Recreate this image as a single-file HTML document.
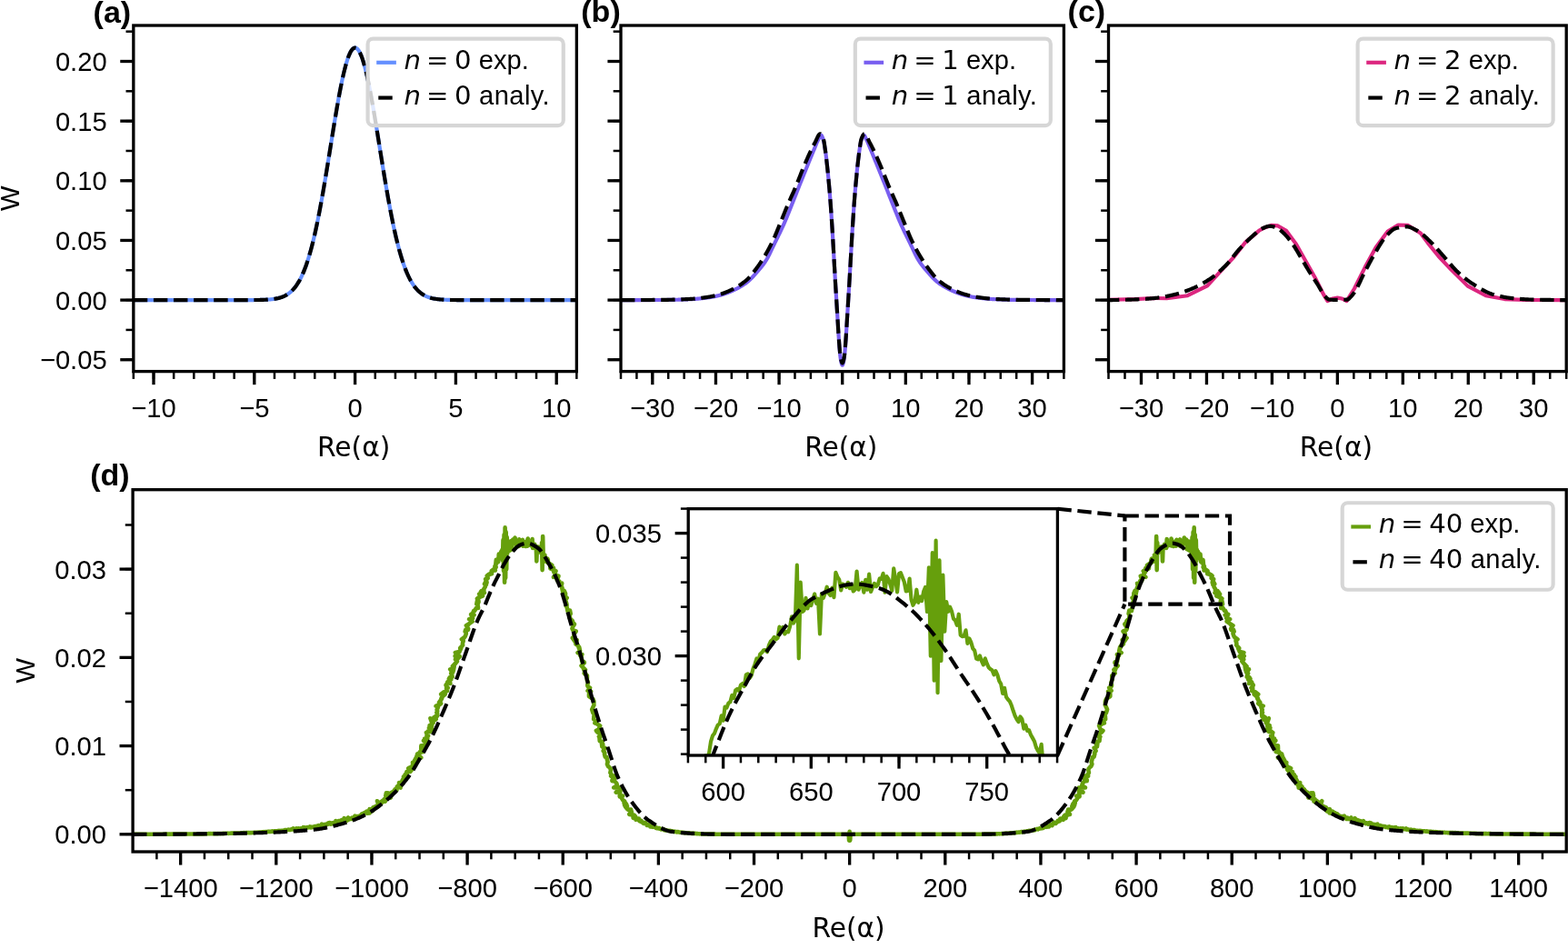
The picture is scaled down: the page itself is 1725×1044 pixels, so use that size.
<!DOCTYPE html>
<html><head><meta charset="utf-8"><title>Wigner functions</title><style>html,body{margin:0;padding:0;background:#fff;overflow:hidden}svg{display:block}</style></head><body>
<svg width="1725" height="1044" viewBox="0 0 1725 1044">
<rect width="1725" height="1044" fill="#fff"/>
<defs>
<clipPath id="ca"><rect x="146.84" y="28" width="487.52" height="380.6"/></clipPath>
<clipPath id="cb"><rect x="683" y="28" width="487.4" height="380.6"/></clipPath>
<clipPath id="cc"><rect x="1219.5" y="28" width="503.7" height="380.6"/></clipPath>
<clipPath id="cd"><rect x="146.1" y="538.7" width="1577.1" height="398.3"/></clipPath>
<clipPath id="ci"><rect x="757.2" y="559.7" width="406.2" height="271.3"/></clipPath>
</defs>
<polyline fill="none" stroke="#648fff" stroke-width="4.17" stroke-linejoin="round" stroke-linecap="square" clip-path="url(#ca)" points="146.84,330.1 147.95,330.1 149.06,330.1 150.16,330.1 151.27,330.1 152.38,330.1 153.49,330.1 154.6,330.1 155.7,330.1 156.81,330.1 157.92,330.1 159.03,330.1 160.14,330.1 161.24,330.1 162.35,330.1 163.46,330.1 164.57,330.1 165.68,330.1 166.78,330.1 167.89,330.1 169,330.1 170.11,330.1 171.22,330.1 172.32,330.1 173.43,330.1 174.54,330.1 175.65,330.1 176.76,330.1 177.86,330.1 178.97,330.1 180.08,330.1 181.19,330.1 182.3,330.1 183.4,330.1 184.51,330.1 185.62,330.1 186.73,330.1 187.84,330.1 188.94,330.1 190.05,330.1 191.16,330.1 192.27,330.1 193.38,330.1 194.48,330.1 195.59,330.1 196.7,330.1 197.81,330.1 198.92,330.1 200.02,330.1 201.13,330.1 202.24,330.1 203.35,330.1 204.46,330.1 205.56,330.1 206.67,330.1 207.78,330.1 208.89,330.1 210,330.1 211.1,330.1 212.21,330.1 213.32,330.1 214.43,330.1 215.54,330.1 216.64,330.1 217.75,330.1 218.86,330.1 219.97,330.1 221.08,330.1 222.18,330.1 223.29,330.1 224.4,330.1 225.51,330.1 226.62,330.1 227.72,330.1 228.83,330.1 229.94,330.1 231.05,330.1 232.16,330.1 233.26,330.1 234.37,330.1 235.48,330.1 236.59,330.1 237.7,330.1 238.8,330.1 239.91,330.1 241.02,330.1 242.13,330.1 243.24,330.1 244.34,330.1 245.45,330.1 246.56,330.1 247.67,330.1 248.78,330.1 249.88,330.1 250.99,330.1 252.1,330.1 253.21,330.1 254.32,330.1 255.42,330.1 256.53,330.1 257.64,330.1 258.75,330.1 259.86,330.1 260.96,330.1 262.07,330.1 263.18,330.1 264.29,330.09 265.4,330.09 266.5,330.09 267.61,330.09 268.72,330.09 269.83,330.09 270.94,330.08 272.04,330.08 273.15,330.08 274.26,330.07 275.37,330.07 276.48,330.06 277.58,330.06 278.69,330.05 279.8,330.04 280.91,330.03 282.02,330.01 283.12,330 284.23,329.98 285.34,329.96 286.45,329.93 287.56,329.91 288.66,329.87 289.77,329.84 290.88,329.79 291.99,329.74 293.1,329.68 294.2,329.62 295.31,329.54 296.42,329.46 297.53,329.36 298.64,329.25 299.74,329.12 300.85,328.98 301.96,328.81 303.07,328.63 304.18,328.42 305.28,328.19 306.39,327.93 307.5,327.64 308.61,327.31 309.72,326.94 310.82,326.53 311.93,326.08 313.04,325.57 314.15,325.01 315.26,324.39 316.36,323.7 317.47,322.95 318.58,322.11 319.69,321.2 320.8,320.2 321.9,319.1 323.01,317.9 324.12,316.6 325.23,315.18 326.34,313.64 327.44,311.97 328.55,310.17 329.66,308.22 330.77,306.12 331.88,303.87 332.98,301.45 334.09,298.86 335.2,296.1 336.31,293.15 337.42,290.01 338.52,286.68 339.63,283.15 340.74,279.43 341.85,275.49 342.96,271.35 344.06,267.01 345.17,262.45 346.28,257.69 347.39,252.72 348.5,247.55 349.6,242.19 350.71,236.63 351.82,230.89 352.93,224.97 354.04,218.88 355.14,212.64 356.25,206.26 357.36,199.75 358.47,193.13 359.58,186.41 360.68,179.62 361.79,172.77 362.9,165.89 364.01,158.99 365.12,152.1 366.22,145.24 367.33,138.44 368.44,131.73 369.55,125.12 370.66,118.66 371.76,112.35 372.87,106.23 373.98,100.32 375.09,94.66 376.2,89.26 377.3,84.15 378.41,79.35 379.52,74.89 380.63,70.79 381.74,67.06 382.84,63.72 383.95,60.8 385.06,58.3 386.17,56.24 387.28,54.62 388.38,53.46 389.49,52.76 390.6,52.53 391.71,52.76 392.82,53.46 393.92,54.62 395.03,56.24 396.14,58.3 397.25,60.8 398.36,63.72 399.46,67.06 400.57,70.79 401.68,74.89 402.79,79.35 403.9,84.15 405,89.26 406.11,94.66 407.22,100.32 408.33,106.23 409.44,112.35 410.54,118.66 411.65,125.12 412.76,131.73 413.87,138.44 414.98,145.24 416.08,152.1 417.19,158.99 418.3,165.89 419.41,172.77 420.52,179.62 421.62,186.41 422.73,193.13 423.84,199.75 424.95,206.26 426.06,212.64 427.16,218.88 428.27,224.97 429.38,230.89 430.49,236.63 431.6,242.19 432.7,247.55 433.81,252.72 434.92,257.69 436.03,262.45 437.14,267.01 438.24,271.35 439.35,275.49 440.46,279.43 441.57,283.15 442.68,286.68 443.78,290.01 444.89,293.15 446,296.1 447.11,298.86 448.22,301.45 449.32,303.87 450.43,306.12 451.54,308.22 452.65,310.17 453.76,311.97 454.86,313.64 455.97,315.18 457.08,316.6 458.19,317.9 459.3,319.1 460.4,320.2 461.51,321.2 462.62,322.11 463.73,322.95 464.84,323.7 465.94,324.39 467.05,325.01 468.16,325.57 469.27,326.08 470.38,326.53 471.48,326.94 472.59,327.31 473.7,327.64 474.81,327.93 475.92,328.19 477.02,328.42 478.13,328.63 479.24,328.81 480.35,328.98 481.46,329.12 482.56,329.25 483.67,329.36 484.78,329.46 485.89,329.54 487,329.62 488.1,329.68 489.21,329.74 490.32,329.79 491.43,329.84 492.54,329.87 493.64,329.91 494.75,329.93 495.86,329.96 496.97,329.98 498.08,330 499.18,330.01 500.29,330.03 501.4,330.04 502.51,330.05 503.62,330.06 504.72,330.06 505.83,330.07 506.94,330.07 508.05,330.08 509.16,330.08 510.26,330.08 511.37,330.09 512.48,330.09 513.59,330.09 514.7,330.09 515.8,330.09 516.91,330.09 518.02,330.1 519.13,330.1 520.24,330.1 521.34,330.1 522.45,330.1 523.56,330.1 524.67,330.1 525.78,330.1 526.88,330.1 527.99,330.1 529.1,330.1 530.21,330.1 531.32,330.1 532.42,330.1 533.53,330.1 534.64,330.1 535.75,330.1 536.86,330.1 537.96,330.1 539.07,330.1 540.18,330.1 541.29,330.1 542.4,330.1 543.5,330.1 544.61,330.1 545.72,330.1 546.83,330.1 547.94,330.1 549.04,330.1 550.15,330.1 551.26,330.1 552.37,330.1 553.48,330.1 554.58,330.1 555.69,330.1 556.8,330.1 557.91,330.1 559.02,330.1 560.12,330.1 561.23,330.1 562.34,330.1 563.45,330.1 564.56,330.1 565.66,330.1 566.77,330.1 567.88,330.1 568.99,330.1 570.1,330.1 571.2,330.1 572.31,330.1 573.42,330.1 574.53,330.1 575.64,330.1 576.74,330.1 577.85,330.1 578.96,330.1 580.07,330.1 581.18,330.1 582.28,330.1 583.39,330.1 584.5,330.1 585.61,330.1 586.72,330.1 587.82,330.1 588.93,330.1 590.04,330.1 591.15,330.1 592.26,330.1 593.36,330.1 594.47,330.1 595.58,330.1 596.69,330.1 597.8,330.1 598.9,330.1 600.01,330.1 601.12,330.1 602.23,330.1 603.34,330.1 604.44,330.1 605.55,330.1 606.66,330.1 607.77,330.1 608.88,330.1 609.98,330.1 611.09,330.1 612.2,330.1 613.31,330.1 614.42,330.1 615.52,330.1 616.63,330.1 617.74,330.1 618.85,330.1 619.96,330.1 621.06,330.1 622.17,330.1 623.28,330.1 624.39,330.1 625.5,330.1 626.6,330.1 627.71,330.1 628.82,330.1 629.93,330.1 631.04,330.1 632.14,330.1 633.25,330.1 634.36,330.1"/>
<polyline fill="none" stroke="#000" stroke-width="4.17" stroke-linejoin="round" stroke-dasharray="15.42 6.67" stroke-linecap="butt" clip-path="url(#ca)" points="146.84,330.1 147.95,330.1 149.06,330.1 150.16,330.1 151.27,330.1 152.38,330.1 153.49,330.1 154.6,330.1 155.7,330.1 156.81,330.1 157.92,330.1 159.03,330.1 160.14,330.1 161.24,330.1 162.35,330.1 163.46,330.1 164.57,330.1 165.68,330.1 166.78,330.1 167.89,330.1 169,330.1 170.11,330.1 171.22,330.1 172.32,330.1 173.43,330.1 174.54,330.1 175.65,330.1 176.76,330.1 177.86,330.1 178.97,330.1 180.08,330.1 181.19,330.1 182.3,330.1 183.4,330.1 184.51,330.1 185.62,330.1 186.73,330.1 187.84,330.1 188.94,330.1 190.05,330.1 191.16,330.1 192.27,330.1 193.38,330.1 194.48,330.1 195.59,330.1 196.7,330.1 197.81,330.1 198.92,330.1 200.02,330.1 201.13,330.1 202.24,330.1 203.35,330.1 204.46,330.1 205.56,330.1 206.67,330.1 207.78,330.1 208.89,330.1 210,330.1 211.1,330.1 212.21,330.1 213.32,330.1 214.43,330.1 215.54,330.1 216.64,330.1 217.75,330.1 218.86,330.1 219.97,330.1 221.08,330.1 222.18,330.1 223.29,330.1 224.4,330.1 225.51,330.1 226.62,330.1 227.72,330.1 228.83,330.1 229.94,330.1 231.05,330.1 232.16,330.1 233.26,330.1 234.37,330.1 235.48,330.1 236.59,330.1 237.7,330.1 238.8,330.1 239.91,330.1 241.02,330.1 242.13,330.1 243.24,330.1 244.34,330.1 245.45,330.1 246.56,330.1 247.67,330.1 248.78,330.1 249.88,330.1 250.99,330.1 252.1,330.1 253.21,330.1 254.32,330.1 255.42,330.1 256.53,330.1 257.64,330.1 258.75,330.1 259.86,330.1 260.96,330.1 262.07,330.1 263.18,330.1 264.29,330.09 265.4,330.09 266.5,330.09 267.61,330.09 268.72,330.09 269.83,330.09 270.94,330.08 272.04,330.08 273.15,330.08 274.26,330.07 275.37,330.07 276.48,330.06 277.58,330.06 278.69,330.05 279.8,330.04 280.91,330.03 282.02,330.01 283.12,330 284.23,329.98 285.34,329.96 286.45,329.93 287.56,329.91 288.66,329.87 289.77,329.84 290.88,329.79 291.99,329.74 293.1,329.68 294.2,329.62 295.31,329.54 296.42,329.46 297.53,329.36 298.64,329.25 299.74,329.12 300.85,328.98 301.96,328.81 303.07,328.63 304.18,328.42 305.28,328.19 306.39,327.93 307.5,327.64 308.61,327.31 309.72,326.94 310.82,326.53 311.93,326.08 313.04,325.57 314.15,325.01 315.26,324.39 316.36,323.7 317.47,322.95 318.58,322.11 319.69,321.2 320.8,320.2 321.9,319.1 323.01,317.9 324.12,316.6 325.23,315.18 326.34,313.64 327.44,311.97 328.55,310.17 329.66,308.22 330.77,306.12 331.88,303.87 332.98,301.45 334.09,298.86 335.2,296.1 336.31,293.15 337.42,290.01 338.52,286.68 339.63,283.15 340.74,279.43 341.85,275.49 342.96,271.35 344.06,267.01 345.17,262.45 346.28,257.69 347.39,252.72 348.5,247.55 349.6,242.19 350.71,236.63 351.82,230.89 352.93,224.97 354.04,218.88 355.14,212.64 356.25,206.26 357.36,199.75 358.47,193.13 359.58,186.41 360.68,179.62 361.79,172.77 362.9,165.89 364.01,158.99 365.12,152.1 366.22,145.24 367.33,138.44 368.44,131.73 369.55,125.12 370.66,118.66 371.76,112.35 372.87,106.23 373.98,100.32 375.09,94.66 376.2,89.26 377.3,84.15 378.41,79.35 379.52,74.89 380.63,70.79 381.74,67.06 382.84,63.72 383.95,60.8 385.06,58.3 386.17,56.24 387.28,54.62 388.38,53.46 389.49,52.76 390.6,52.53 391.71,52.76 392.82,53.46 393.92,54.62 395.03,56.24 396.14,58.3 397.25,60.8 398.36,63.72 399.46,67.06 400.57,70.79 401.68,74.89 402.79,79.35 403.9,84.15 405,89.26 406.11,94.66 407.22,100.32 408.33,106.23 409.44,112.35 410.54,118.66 411.65,125.12 412.76,131.73 413.87,138.44 414.98,145.24 416.08,152.1 417.19,158.99 418.3,165.89 419.41,172.77 420.52,179.62 421.62,186.41 422.73,193.13 423.84,199.75 424.95,206.26 426.06,212.64 427.16,218.88 428.27,224.97 429.38,230.89 430.49,236.63 431.6,242.19 432.7,247.55 433.81,252.72 434.92,257.69 436.03,262.45 437.14,267.01 438.24,271.35 439.35,275.49 440.46,279.43 441.57,283.15 442.68,286.68 443.78,290.01 444.89,293.15 446,296.1 447.11,298.86 448.22,301.45 449.32,303.87 450.43,306.12 451.54,308.22 452.65,310.17 453.76,311.97 454.86,313.64 455.97,315.18 457.08,316.6 458.19,317.9 459.3,319.1 460.4,320.2 461.51,321.2 462.62,322.11 463.73,322.95 464.84,323.7 465.94,324.39 467.05,325.01 468.16,325.57 469.27,326.08 470.38,326.53 471.48,326.94 472.59,327.31 473.7,327.64 474.81,327.93 475.92,328.19 477.02,328.42 478.13,328.63 479.24,328.81 480.35,328.98 481.46,329.12 482.56,329.25 483.67,329.36 484.78,329.46 485.89,329.54 487,329.62 488.1,329.68 489.21,329.74 490.32,329.79 491.43,329.84 492.54,329.87 493.64,329.91 494.75,329.93 495.86,329.96 496.97,329.98 498.08,330 499.18,330.01 500.29,330.03 501.4,330.04 502.51,330.05 503.62,330.06 504.72,330.06 505.83,330.07 506.94,330.07 508.05,330.08 509.16,330.08 510.26,330.08 511.37,330.09 512.48,330.09 513.59,330.09 514.7,330.09 515.8,330.09 516.91,330.09 518.02,330.1 519.13,330.1 520.24,330.1 521.34,330.1 522.45,330.1 523.56,330.1 524.67,330.1 525.78,330.1 526.88,330.1 527.99,330.1 529.1,330.1 530.21,330.1 531.32,330.1 532.42,330.1 533.53,330.1 534.64,330.1 535.75,330.1 536.86,330.1 537.96,330.1 539.07,330.1 540.18,330.1 541.29,330.1 542.4,330.1 543.5,330.1 544.61,330.1 545.72,330.1 546.83,330.1 547.94,330.1 549.04,330.1 550.15,330.1 551.26,330.1 552.37,330.1 553.48,330.1 554.58,330.1 555.69,330.1 556.8,330.1 557.91,330.1 559.02,330.1 560.12,330.1 561.23,330.1 562.34,330.1 563.45,330.1 564.56,330.1 565.66,330.1 566.77,330.1 567.88,330.1 568.99,330.1 570.1,330.1 571.2,330.1 572.31,330.1 573.42,330.1 574.53,330.1 575.64,330.1 576.74,330.1 577.85,330.1 578.96,330.1 580.07,330.1 581.18,330.1 582.28,330.1 583.39,330.1 584.5,330.1 585.61,330.1 586.72,330.1 587.82,330.1 588.93,330.1 590.04,330.1 591.15,330.1 592.26,330.1 593.36,330.1 594.47,330.1 595.58,330.1 596.69,330.1 597.8,330.1 598.9,330.1 600.01,330.1 601.12,330.1 602.23,330.1 603.34,330.1 604.44,330.1 605.55,330.1 606.66,330.1 607.77,330.1 608.88,330.1 609.98,330.1 611.09,330.1 612.2,330.1 613.31,330.1 614.42,330.1 615.52,330.1 616.63,330.1 617.74,330.1 618.85,330.1 619.96,330.1 621.06,330.1 622.17,330.1 623.28,330.1 624.39,330.1 625.5,330.1 626.6,330.1 627.71,330.1 628.82,330.1 629.93,330.1 631.04,330.1 632.14,330.1 633.25,330.1 634.36,330.1"/>
<polyline fill="none" stroke="#785ef0" stroke-width="4.17" stroke-linejoin="round" stroke-linecap="square" clip-path="url(#cb)" points="683,330.1 683.35,330.1 683.7,330.1 684.04,330.1 684.39,330.1 684.74,330.1 685.09,330.1 685.44,330.1 685.79,330.1 686.13,330.1 686.48,330.1 686.83,330.1 687.18,330.1 687.53,330.1 687.87,330.1 688.22,330.1 688.57,330.1 688.92,330.1 689.27,330.1 689.61,330.1 689.96,330.09 690.31,330.09 690.66,330.09 691.01,330.09 691.36,330.09 691.7,330.09 692.05,330.09 692.4,330.09 692.75,330.09 693.1,330.09 693.44,330.09 693.79,330.09 694.14,330.09 694.49,330.09 694.84,330.09 695.18,330.09 695.53,330.09 695.88,330.09 696.23,330.09 696.58,330.09 696.93,330.09 697.27,330.08 697.62,330.08 697.97,330.08 698.32,330.08 698.67,330.08 699.01,330.08 699.36,330.08 699.71,330.08 700.06,330.08 700.41,330.08 700.76,330.08 701.1,330.08 701.45,330.08 701.8,330.08 702.15,330.08 702.5,330.07 702.84,330.07 703.19,330.07 703.54,330.07 703.89,330.07 704.24,330.07 704.58,330.07 704.93,330.07 705.28,330.07 705.63,330.07 705.98,330.07 706.33,330.07 706.67,330.06 707.02,330.06 707.37,330.06 707.72,330.06 708.07,330.06 708.41,330.06 708.76,330.06 709.11,330.06 709.46,330.06 709.81,330.06 710.16,330.05 710.5,330.05 710.85,330.05 711.2,330.05 711.55,330.05 711.9,330.05 712.24,330.05 712.59,330.05 712.94,330.05 713.29,330.05 713.64,330.04 713.98,330.04 714.33,330.04 714.68,330.04 715.03,330.04 715.38,330.04 715.73,330.04 716.07,330.04 716.42,330.03 716.77,330.03 717.12,330.03 717.47,330.03 717.81,330.03 718.16,330.03 718.51,330.03 718.86,330.03 719.21,330.02 719.56,330.02 719.9,330.02 720.25,330.02 720.6,330.02 720.95,330.02 721.3,330.02 721.64,330.01 721.99,330.01 722.34,330.01 722.69,330.01 723.04,330.01 723.38,330.01 723.73,330.01 724.08,330 724.43,330 724.78,330 725.13,330 725.47,330 725.82,330 726.17,330 726.52,329.99 726.87,329.99 727.21,329.99 727.56,329.99 727.91,329.99 728.26,329.99 728.61,329.98 728.95,329.98 729.3,329.98 729.65,329.98 730,329.98 730.35,329.98 730.7,329.97 731.04,329.97 731.39,329.97 731.74,329.97 732.09,329.97 732.44,329.96 732.78,329.96 733.13,329.96 733.48,329.96 733.83,329.95 734.18,329.95 734.53,329.95 734.87,329.94 735.22,329.94 735.57,329.93 735.92,329.93 736.27,329.92 736.61,329.92 736.96,329.91 737.31,329.91 737.66,329.9 738.01,329.9 738.35,329.89 738.7,329.88 739.05,329.88 739.4,329.87 739.75,329.86 740.1,329.86 740.44,329.85 740.79,329.84 741.14,329.83 741.49,329.83 741.84,329.82 742.18,329.81 742.53,329.8 742.88,329.79 743.23,329.78 743.58,329.77 743.92,329.76 744.27,329.75 744.62,329.74 744.97,329.73 745.32,329.72 745.67,329.71 746.01,329.7 746.36,329.69 746.71,329.68 747.06,329.67 747.41,329.66 747.75,329.65 748.1,329.64 748.45,329.62 748.8,329.61 749.15,329.6 749.5,329.59 749.84,329.58 750.19,329.56 750.54,329.55 750.89,329.54 751.24,329.53 751.58,329.51 751.93,329.5 752.28,329.49 752.63,329.47 752.98,329.46 753.32,329.45 753.67,329.43 754.02,329.42 754.37,329.4 754.72,329.39 755.07,329.38 755.41,329.36 755.76,329.35 756.11,329.33 756.46,329.32 756.81,329.3 757.15,329.29 757.5,329.27 757.85,329.26 758.2,329.24 758.55,329.23 758.9,329.21 759.24,329.2 759.59,329.18 759.94,329.16 760.29,329.15 760.64,329.13 760.98,329.11 761.33,329.09 761.68,329.07 762.03,329.05 762.38,329.03 762.72,329.01 763.07,328.99 763.42,328.96 763.77,328.94 764.12,328.92 764.47,328.89 764.81,328.86 765.16,328.84 765.51,328.81 765.86,328.78 766.21,328.75 766.55,328.72 766.9,328.7 767.25,328.66 767.6,328.63 767.95,328.6 768.3,328.57 768.64,328.54 768.99,328.5 769.34,328.47 769.69,328.44 770.04,328.4 770.38,328.37 770.73,328.33 771.08,328.29 771.43,328.26 771.78,328.22 772.12,328.18 772.47,328.15 772.82,328.11 773.17,328.07 773.52,328.03 773.87,327.99 774.21,327.95 774.56,327.91 774.91,327.87 775.26,327.82 775.61,327.78 775.95,327.74 776.3,327.7 776.65,327.65 777,327.61 777.35,327.57 777.69,327.52 778.04,327.48 778.39,327.43 778.74,327.39 779.09,327.34 779.44,327.3 779.78,327.25 780.13,327.2 780.48,327.15 780.83,327.1 781.18,327.04 781.52,326.99 781.87,326.93 782.22,326.88 782.57,326.82 782.92,326.76 783.27,326.7 783.61,326.64 783.96,326.57 784.31,326.51 784.66,326.44 785.01,326.38 785.35,326.31 785.7,326.24 786.05,326.17 786.4,326.1 786.75,326.02 787.09,325.95 787.44,325.87 787.79,325.8 788.14,325.72 788.49,325.64 788.84,325.56 789.18,325.48 789.53,325.4 789.88,325.32 790.23,325.24 790.58,325.15 790.92,325.07 791.27,324.98 791.62,324.89 791.97,324.81 792.32,324.72 792.66,324.63 793.01,324.53 793.36,324.44 793.71,324.34 794.06,324.24 794.41,324.14 794.75,324.03 795.1,323.93 795.45,323.82 795.8,323.71 796.15,323.59 796.49,323.48 796.84,323.36 797.19,323.24 797.54,323.12 797.89,323 798.24,322.87 798.58,322.75 798.93,322.62 799.28,322.49 799.63,322.36 799.98,322.23 800.32,322.09 800.67,321.96 801.02,321.82 801.37,321.68 801.72,321.54 802.06,321.4 802.41,321.25 802.76,321.11 803.11,320.96 803.46,320.81 803.81,320.67 804.15,320.52 804.5,320.37 804.85,320.21 805.2,320.06 805.55,319.91 805.89,319.75 806.24,319.6 806.59,319.44 806.94,319.28 807.29,319.12 807.64,318.96 807.98,318.79 808.33,318.63 808.68,318.46 809.03,318.29 809.38,318.12 809.72,317.95 810.07,317.77 810.42,317.6 810.77,317.42 811.12,317.24 811.46,317.05 811.81,316.87 812.16,316.68 812.51,316.49 812.86,316.3 813.21,316.1 813.55,315.91 813.9,315.71 814.25,315.51 814.6,315.3 814.95,315.1 815.29,314.89 815.64,314.68 815.99,314.47 816.34,314.25 816.69,314.03 817.04,313.81 817.38,313.58 817.73,313.36 818.08,313.13 818.43,312.89 818.78,312.66 819.12,312.42 819.47,312.18 819.82,311.94 820.17,311.69 820.52,311.44 820.86,311.18 821.21,310.93 821.56,310.67 821.91,310.4 822.26,310.13 822.61,309.85 822.95,309.56 823.3,309.26 823.65,308.96 824,308.65 824.35,308.33 824.69,308.01 825.04,307.68 825.39,307.34 825.74,307 826.09,306.65 826.43,306.3 826.78,305.94 827.13,305.58 827.48,305.22 827.83,304.85 828.18,304.47 828.52,304.1 828.87,303.72 829.22,303.33 829.57,302.95 829.92,302.56 830.26,302.17 830.61,301.77 830.96,301.38 831.31,300.98 831.66,300.59 832.01,300.19 832.35,299.79 832.7,299.39 833.05,298.99 833.4,298.59 833.75,298.19 834.09,297.79 834.44,297.38 834.79,296.98 835.14,296.57 835.49,296.16 835.83,295.75 836.18,295.34 836.53,294.92 836.88,294.5 837.23,294.07 837.58,293.64 837.92,293.2 838.27,292.76 838.62,292.31 838.97,291.86 839.32,291.4 839.66,290.94 840.01,290.46 840.36,289.98 840.71,289.49 841.06,289 841.4,288.49 841.75,287.98 842.1,287.45 842.45,286.92 842.8,286.38 843.15,285.82 843.49,285.24 843.84,284.64 844.19,284.03 844.54,283.4 844.89,282.76 845.23,282.1 845.58,281.42 845.93,280.74 846.28,280.04 846.63,279.34 846.98,278.62 847.32,277.9 847.67,277.17 848.02,276.44 848.37,275.7 848.72,274.96 849.06,274.22 849.41,273.47 849.76,272.73 850.11,271.98 850.46,271.24 850.8,270.5 851.15,269.77 851.5,269.04 851.85,268.32 852.2,267.6 852.55,266.89 852.89,266.18 853.24,265.48 853.59,264.77 853.94,264.06 854.29,263.36 854.63,262.65 854.98,261.95 855.33,261.24 855.68,260.53 856.03,259.82 856.38,259.12 856.72,258.4 857.07,257.69 857.42,256.97 857.77,256.26 858.12,255.54 858.46,254.81 858.81,254.08 859.16,253.35 859.51,252.62 859.86,251.88 860.2,251.14 860.55,250.39 860.9,249.63 861.25,248.87 861.6,248.11 861.95,247.34 862.29,246.56 862.64,245.78 862.99,244.99 863.34,244.19 863.69,243.38 864.03,242.56 864.38,241.74 864.73,240.91 865.08,240.08 865.43,239.24 865.78,238.39 866.12,237.54 866.47,236.68 866.82,235.83 867.17,234.96 867.52,234.1 867.86,233.23 868.21,232.36 868.56,231.49 868.91,230.62 869.26,229.75 869.6,228.88 869.95,228.01 870.3,227.14 870.65,226.27 871,225.41 871.35,224.54 871.69,223.67 872.04,222.8 872.39,221.93 872.74,221.06 873.09,220.18 873.43,219.3 873.78,218.42 874.13,217.54 874.48,216.65 874.83,215.77 875.17,214.89 875.52,214 875.87,213.12 876.22,212.23 876.57,211.35 876.92,210.46 877.26,209.58 877.61,208.7 877.96,207.82 878.31,206.94 878.66,206.06 879,205.19 879.35,204.31 879.7,203.44 880.05,202.57 880.4,201.7 880.75,200.83 881.09,199.97 881.44,199.1 881.79,198.23 882.14,197.37 882.49,196.5 882.83,195.63 883.18,194.77 883.53,193.91 883.88,193.04 884.23,192.18 884.57,191.32 884.92,190.46 885.27,189.6 885.62,188.74 885.97,187.88 886.32,187.02 886.66,186.16 887.01,185.3 887.36,184.44 887.71,183.59 888.06,182.73 888.4,181.87 888.75,181.02 889.1,180.16 889.45,179.31 889.8,178.45 890.14,177.59 890.49,176.74 890.84,175.88 891.19,175.03 891.54,174.18 891.89,173.32 892.23,172.47 892.58,171.62 892.93,170.78 893.28,169.93 893.63,169.08 893.97,168.24 894.32,167.4 894.67,166.56 895.02,165.73 895.37,164.9 895.72,164.07 896.06,163.22 896.41,162.37 896.76,161.5 897.11,160.64 897.46,159.78 897.8,158.92 898.15,158.07 898.5,157.24 898.85,156.44 899.2,155.65 899.54,154.9 899.89,154.18 900.24,153.5 900.59,152.81 900.94,152.06 901.29,151.3 901.63,150.57 901.98,149.91 902.33,149.35 902.68,148.93 903.03,148.69 903.37,148.67 903.72,148.93 904.07,149.44 904.42,150.15 904.77,151.03 905.12,152.02 905.46,153.07 905.81,154.16 906.16,155.42 906.51,157 906.86,158.84 907.2,160.89 907.55,163.09 907.9,165.38 908.25,167.77 908.6,170.33 908.94,173.08 909.29,175.98 909.64,179.04 909.99,182.25 910.34,185.59 910.69,189.05 911.03,192.63 911.38,196.32 911.73,200.1 912.08,203.97 912.43,207.92 912.77,211.93 913.12,216.12 913.47,220.6 913.82,225.32 914.17,230.24 914.52,235.33 914.86,240.54 915.21,245.85 915.56,251.22 915.91,256.78 916.26,262.57 916.6,268.54 916.95,274.65 917.3,280.84 917.65,287.06 918,293.26 918.34,299.41 918.69,305.43 919.04,311.3 919.39,317.05 919.74,322.72 920.09,328.35 920.43,333.95 920.78,339.56 921.13,345.2 921.48,350.98 921.83,356.87 922.17,362.65 922.52,368.1 922.87,373.15 923.22,378.08 923.57,382.72 923.91,386.82 924.26,390.21 924.61,393.25 924.96,395.84 925.31,397.72 925.66,399.15 926,400.41 926.35,401.31 926.7,401.66 927.05,401.31 927.4,400.41 927.74,399.15 928.09,397.72 928.44,395.84 928.79,393.25 929.14,390.21 929.49,386.82 929.83,382.72 930.18,378.08 930.53,373.15 930.88,368.1 931.23,362.65 931.57,356.87 931.92,350.98 932.27,345.2 932.62,339.56 932.97,333.95 933.31,328.35 933.66,322.72 934.01,317.05 934.36,311.3 934.71,305.43 935.06,299.41 935.4,293.26 935.75,287.06 936.1,280.84 936.45,274.65 936.8,268.54 937.14,262.57 937.49,256.78 937.84,251.22 938.19,245.85 938.54,240.54 938.88,235.33 939.23,230.24 939.58,225.32 939.93,220.6 940.28,216.12 940.63,211.93 940.97,207.92 941.32,203.97 941.67,200.1 942.02,196.32 942.37,192.63 942.71,189.05 943.06,185.59 943.41,182.25 943.76,179.04 944.11,175.98 944.46,173.08 944.8,170.33 945.15,167.77 945.5,165.38 945.85,163.09 946.2,160.89 946.54,158.84 946.89,157 947.24,155.42 947.59,154.16 947.94,153.07 948.28,152.02 948.63,151.03 948.98,150.15 949.33,149.44 949.68,148.93 950.03,148.67 950.37,148.69 950.72,148.93 951.07,149.35 951.42,149.91 951.77,150.57 952.11,151.3 952.46,152.06 952.81,152.81 953.16,153.5 953.51,154.18 953.86,154.9 954.2,155.65 954.55,156.44 954.9,157.24 955.25,158.07 955.6,158.92 955.94,159.78 956.29,160.64 956.64,161.5 956.99,162.37 957.34,163.22 957.68,164.07 958.03,164.9 958.38,165.73 958.73,166.56 959.08,167.4 959.43,168.24 959.77,169.08 960.12,169.93 960.47,170.78 960.82,171.62 961.17,172.47 961.51,173.32 961.86,174.18 962.21,175.03 962.56,175.88 962.91,176.74 963.26,177.59 963.6,178.45 963.95,179.31 964.3,180.16 964.65,181.02 965,181.87 965.34,182.73 965.69,183.59 966.04,184.44 966.39,185.3 966.74,186.16 967.08,187.02 967.43,187.88 967.78,188.74 968.13,189.6 968.48,190.46 968.83,191.32 969.17,192.18 969.52,193.04 969.87,193.91 970.22,194.77 970.57,195.63 970.91,196.5 971.26,197.37 971.61,198.23 971.96,199.1 972.31,199.97 972.65,200.83 973,201.7 973.35,202.57 973.7,203.44 974.05,204.31 974.4,205.19 974.74,206.06 975.09,206.94 975.44,207.82 975.79,208.7 976.14,209.58 976.48,210.46 976.83,211.35 977.18,212.23 977.53,213.12 977.88,214 978.23,214.89 978.57,215.77 978.92,216.65 979.27,217.54 979.62,218.42 979.97,219.3 980.31,220.18 980.66,221.06 981.01,221.93 981.36,222.8 981.71,223.67 982.05,224.54 982.4,225.41 982.75,226.27 983.1,227.14 983.45,228.01 983.8,228.88 984.14,229.75 984.49,230.62 984.84,231.49 985.19,232.36 985.54,233.23 985.88,234.1 986.23,234.96 986.58,235.83 986.93,236.68 987.28,237.54 987.62,238.39 987.97,239.24 988.32,240.08 988.67,240.91 989.02,241.74 989.37,242.56 989.71,243.38 990.06,244.19 990.41,244.99 990.76,245.78 991.11,246.56 991.45,247.34 991.8,248.11 992.15,248.87 992.5,249.63 992.85,250.39 993.2,251.14 993.54,251.88 993.89,252.62 994.24,253.35 994.59,254.08 994.94,254.81 995.28,255.54 995.63,256.26 995.98,256.97 996.33,257.69 996.68,258.4 997.02,259.12 997.37,259.82 997.72,260.53 998.07,261.24 998.42,261.95 998.77,262.65 999.11,263.36 999.46,264.06 999.81,264.77 1000.16,265.48 1000.51,266.18 1000.85,266.89 1001.2,267.6 1001.55,268.32 1001.9,269.04 1002.25,269.77 1002.6,270.5 1002.94,271.24 1003.29,271.98 1003.64,272.73 1003.99,273.47 1004.34,274.22 1004.68,274.96 1005.03,275.7 1005.38,276.44 1005.73,277.17 1006.08,277.9 1006.42,278.62 1006.77,279.34 1007.12,280.04 1007.47,280.74 1007.82,281.42 1008.17,282.1 1008.51,282.76 1008.86,283.4 1009.21,284.03 1009.56,284.64 1009.91,285.24 1010.25,285.82 1010.6,286.38 1010.95,286.92 1011.3,287.45 1011.65,287.98 1012,288.49 1012.34,289 1012.69,289.49 1013.04,289.98 1013.39,290.46 1013.74,290.94 1014.08,291.4 1014.43,291.86 1014.78,292.31 1015.13,292.76 1015.48,293.2 1015.82,293.64 1016.17,294.07 1016.52,294.5 1016.87,294.92 1017.22,295.34 1017.57,295.75 1017.91,296.16 1018.26,296.57 1018.61,296.98 1018.96,297.38 1019.31,297.79 1019.65,298.19 1020,298.59 1020.35,298.99 1020.7,299.39 1021.05,299.79 1021.39,300.19 1021.74,300.59 1022.09,300.98 1022.44,301.38 1022.79,301.77 1023.14,302.17 1023.48,302.56 1023.83,302.95 1024.18,303.33 1024.53,303.72 1024.88,304.1 1025.22,304.47 1025.57,304.85 1025.92,305.22 1026.27,305.58 1026.62,305.94 1026.97,306.3 1027.31,306.65 1027.66,307 1028.01,307.34 1028.36,307.68 1028.71,308.01 1029.05,308.33 1029.4,308.65 1029.75,308.96 1030.1,309.26 1030.45,309.56 1030.79,309.85 1031.14,310.13 1031.49,310.4 1031.84,310.67 1032.19,310.93 1032.54,311.18 1032.88,311.44 1033.23,311.69 1033.58,311.94 1033.93,312.18 1034.28,312.42 1034.62,312.66 1034.97,312.89 1035.32,313.13 1035.67,313.36 1036.02,313.58 1036.37,313.81 1036.71,314.03 1037.06,314.25 1037.41,314.47 1037.76,314.68 1038.11,314.89 1038.45,315.1 1038.8,315.3 1039.15,315.51 1039.5,315.71 1039.85,315.91 1040.19,316.1 1040.54,316.3 1040.89,316.49 1041.24,316.68 1041.59,316.87 1041.94,317.05 1042.28,317.24 1042.63,317.42 1042.98,317.6 1043.33,317.77 1043.68,317.95 1044.02,318.12 1044.37,318.29 1044.72,318.46 1045.07,318.63 1045.42,318.79 1045.76,318.96 1046.11,319.12 1046.46,319.28 1046.81,319.44 1047.16,319.6 1047.51,319.75 1047.85,319.91 1048.2,320.06 1048.55,320.21 1048.9,320.37 1049.25,320.52 1049.59,320.67 1049.94,320.81 1050.29,320.96 1050.64,321.11 1050.99,321.25 1051.34,321.4 1051.68,321.54 1052.03,321.68 1052.38,321.82 1052.73,321.96 1053.08,322.09 1053.42,322.23 1053.77,322.36 1054.12,322.49 1054.47,322.62 1054.82,322.75 1055.16,322.87 1055.51,323 1055.86,323.12 1056.21,323.24 1056.56,323.36 1056.91,323.48 1057.25,323.59 1057.6,323.71 1057.95,323.82 1058.3,323.93 1058.65,324.03 1058.99,324.14 1059.34,324.24 1059.69,324.34 1060.04,324.44 1060.39,324.53 1060.74,324.63 1061.08,324.72 1061.43,324.81 1061.78,324.89 1062.13,324.98 1062.48,325.07 1062.82,325.15 1063.17,325.24 1063.52,325.32 1063.87,325.4 1064.22,325.48 1064.56,325.56 1064.91,325.64 1065.26,325.72 1065.61,325.8 1065.96,325.87 1066.31,325.95 1066.65,326.02 1067,326.1 1067.35,326.17 1067.7,326.24 1068.05,326.31 1068.39,326.38 1068.74,326.44 1069.09,326.51 1069.44,326.57 1069.79,326.64 1070.13,326.7 1070.48,326.76 1070.83,326.82 1071.18,326.88 1071.53,326.93 1071.88,326.99 1072.22,327.04 1072.57,327.1 1072.92,327.15 1073.27,327.2 1073.62,327.25 1073.96,327.3 1074.31,327.34 1074.66,327.39 1075.01,327.43 1075.36,327.48 1075.71,327.52 1076.05,327.57 1076.4,327.61 1076.75,327.65 1077.1,327.7 1077.45,327.74 1077.79,327.78 1078.14,327.82 1078.49,327.87 1078.84,327.91 1079.19,327.95 1079.53,327.99 1079.88,328.03 1080.23,328.07 1080.58,328.11 1080.93,328.15 1081.28,328.18 1081.62,328.22 1081.97,328.26 1082.32,328.29 1082.67,328.33 1083.02,328.37 1083.36,328.4 1083.71,328.44 1084.06,328.47 1084.41,328.5 1084.76,328.54 1085.11,328.57 1085.45,328.6 1085.8,328.63 1086.15,328.66 1086.5,328.7 1086.85,328.72 1087.19,328.75 1087.54,328.78 1087.89,328.81 1088.24,328.84 1088.59,328.86 1088.93,328.89 1089.28,328.92 1089.63,328.94 1089.98,328.96 1090.33,328.99 1090.68,329.01 1091.02,329.03 1091.37,329.05 1091.72,329.07 1092.07,329.09 1092.42,329.11 1092.76,329.13 1093.11,329.15 1093.46,329.16 1093.81,329.18 1094.16,329.2 1094.5,329.21 1094.85,329.23 1095.2,329.24 1095.55,329.26 1095.9,329.27 1096.25,329.29 1096.59,329.3 1096.94,329.32 1097.29,329.33 1097.64,329.35 1097.99,329.36 1098.33,329.38 1098.68,329.39 1099.03,329.4 1099.38,329.42 1099.73,329.43 1100.08,329.45 1100.42,329.46 1100.77,329.47 1101.12,329.49 1101.47,329.5 1101.82,329.51 1102.16,329.53 1102.51,329.54 1102.86,329.55 1103.21,329.56 1103.56,329.58 1103.9,329.59 1104.25,329.6 1104.6,329.61 1104.95,329.62 1105.3,329.64 1105.65,329.65 1105.99,329.66 1106.34,329.67 1106.69,329.68 1107.04,329.69 1107.39,329.7 1107.73,329.71 1108.08,329.72 1108.43,329.73 1108.78,329.74 1109.13,329.75 1109.48,329.76 1109.82,329.77 1110.17,329.78 1110.52,329.79 1110.87,329.8 1111.22,329.81 1111.56,329.82 1111.91,329.83 1112.26,329.83 1112.61,329.84 1112.96,329.85 1113.3,329.86 1113.65,329.86 1114,329.87 1114.35,329.88 1114.7,329.88 1115.05,329.89 1115.39,329.9 1115.74,329.9 1116.09,329.91 1116.44,329.91 1116.79,329.92 1117.13,329.92 1117.48,329.93 1117.83,329.93 1118.18,329.94 1118.53,329.94 1118.87,329.95 1119.22,329.95 1119.57,329.95 1119.92,329.96 1120.27,329.96 1120.62,329.96 1120.96,329.96 1121.31,329.97 1121.66,329.97 1122.01,329.97 1122.36,329.97 1122.7,329.97 1123.05,329.98 1123.4,329.98 1123.75,329.98 1124.1,329.98 1124.45,329.98 1124.79,329.98 1125.14,329.99 1125.49,329.99 1125.84,329.99 1126.19,329.99 1126.53,329.99 1126.88,329.99 1127.23,330 1127.58,330 1127.93,330 1128.27,330 1128.62,330 1128.97,330 1129.32,330 1129.67,330.01 1130.02,330.01 1130.36,330.01 1130.71,330.01 1131.06,330.01 1131.41,330.01 1131.76,330.01 1132.1,330.02 1132.45,330.02 1132.8,330.02 1133.15,330.02 1133.5,330.02 1133.85,330.02 1134.19,330.02 1134.54,330.03 1134.89,330.03 1135.24,330.03 1135.59,330.03 1135.93,330.03 1136.28,330.03 1136.63,330.03 1136.98,330.03 1137.33,330.04 1137.67,330.04 1138.02,330.04 1138.37,330.04 1138.72,330.04 1139.07,330.04 1139.42,330.04 1139.76,330.04 1140.11,330.05 1140.46,330.05 1140.81,330.05 1141.16,330.05 1141.5,330.05 1141.85,330.05 1142.2,330.05 1142.55,330.05 1142.9,330.05 1143.24,330.05 1143.59,330.06 1143.94,330.06 1144.29,330.06 1144.64,330.06 1144.99,330.06 1145.33,330.06 1145.68,330.06 1146.03,330.06 1146.38,330.06 1146.73,330.06 1147.07,330.07 1147.42,330.07 1147.77,330.07 1148.12,330.07 1148.47,330.07 1148.82,330.07 1149.16,330.07 1149.51,330.07 1149.86,330.07 1150.21,330.07 1150.56,330.07 1150.9,330.07 1151.25,330.08 1151.6,330.08 1151.95,330.08 1152.3,330.08 1152.64,330.08 1152.99,330.08 1153.34,330.08 1153.69,330.08 1154.04,330.08 1154.39,330.08 1154.73,330.08 1155.08,330.08 1155.43,330.08 1155.78,330.08 1156.13,330.08 1156.47,330.09 1156.82,330.09 1157.17,330.09 1157.52,330.09 1157.87,330.09 1158.22,330.09 1158.56,330.09 1158.91,330.09 1159.26,330.09 1159.61,330.09 1159.96,330.09 1160.3,330.09 1160.65,330.09 1161,330.09 1161.35,330.09 1161.7,330.09 1162.04,330.09 1162.39,330.09 1162.74,330.09 1163.09,330.09 1163.44,330.09 1163.79,330.1 1164.13,330.1 1164.48,330.1 1164.83,330.1 1165.18,330.1 1165.53,330.1 1165.87,330.1 1166.22,330.1 1166.57,330.1 1166.92,330.1 1167.27,330.1 1167.61,330.1 1167.96,330.1 1168.31,330.1 1168.66,330.1 1169.01,330.1 1169.36,330.1 1169.7,330.1 1170.05,330.1 1170.4,330.1"/>
<polyline fill="none" stroke="#000" stroke-width="4.17" stroke-linejoin="round" stroke-dasharray="15.42 6.67" stroke-linecap="butt" clip-path="url(#cb)" points="683,330.1 683.35,330.1 683.7,330.1 684.04,330.1 684.39,330.1 684.74,330.1 685.09,330.1 685.44,330.1 685.79,330.1 686.13,330.1 686.48,330.09 686.83,330.09 687.18,330.09 687.53,330.09 687.87,330.09 688.22,330.09 688.57,330.09 688.92,330.09 689.27,330.09 689.61,330.09 689.96,330.09 690.31,330.09 690.66,330.09 691.01,330.09 691.36,330.09 691.7,330.08 692.05,330.08 692.4,330.08 692.75,330.08 693.1,330.08 693.44,330.08 693.79,330.08 694.14,330.08 694.49,330.08 694.84,330.08 695.18,330.07 695.53,330.07 695.88,330.07 696.23,330.07 696.58,330.07 696.93,330.07 697.27,330.07 697.62,330.07 697.97,330.06 698.32,330.06 698.67,330.06 699.01,330.06 699.36,330.06 699.71,330.06 700.06,330.06 700.41,330.05 700.76,330.05 701.1,330.05 701.45,330.05 701.8,330.05 702.15,330.05 702.5,330.05 702.84,330.04 703.19,330.04 703.54,330.04 703.89,330.04 704.24,330.04 704.58,330.04 704.93,330.03 705.28,330.03 705.63,330.03 705.98,330.03 706.33,330.03 706.67,330.02 707.02,330.02 707.37,330.02 707.72,330.02 708.07,330.02 708.41,330.02 708.76,330.01 709.11,330.01 709.46,330.01 709.81,330.01 710.16,330 710.5,330 710.85,330 711.2,330 711.55,330 711.9,329.99 712.24,329.99 712.59,329.99 712.94,329.99 713.29,329.99 713.64,329.98 713.98,329.98 714.33,329.98 714.68,329.98 715.03,329.97 715.38,329.97 715.73,329.97 716.07,329.97 716.42,329.96 716.77,329.96 717.12,329.96 717.47,329.96 717.81,329.95 718.16,329.95 718.51,329.95 718.86,329.95 719.21,329.94 719.56,329.94 719.9,329.94 720.25,329.94 720.6,329.93 720.95,329.93 721.3,329.93 721.64,329.93 721.99,329.92 722.34,329.92 722.69,329.92 723.04,329.91 723.38,329.91 723.73,329.91 724.08,329.91 724.43,329.9 724.78,329.9 725.13,329.9 725.47,329.89 725.82,329.89 726.17,329.89 726.52,329.88 726.87,329.88 727.21,329.88 727.56,329.88 727.91,329.87 728.26,329.87 728.61,329.87 728.95,329.86 729.3,329.86 729.65,329.86 730,329.85 730.35,329.85 730.7,329.85 731.04,329.84 731.39,329.84 731.74,329.84 732.09,329.83 732.44,329.83 732.78,329.83 733.13,329.82 733.48,329.82 733.83,329.81 734.18,329.81 734.53,329.8 734.87,329.8 735.22,329.79 735.57,329.79 735.92,329.78 736.27,329.77 736.61,329.77 736.96,329.76 737.31,329.75 737.66,329.75 738.01,329.74 738.35,329.73 738.7,329.73 739.05,329.72 739.4,329.71 739.75,329.7 740.1,329.69 740.44,329.68 740.79,329.67 741.14,329.67 741.49,329.66 741.84,329.65 742.18,329.64 742.53,329.63 742.88,329.62 743.23,329.61 743.58,329.6 743.92,329.58 744.27,329.57 744.62,329.56 744.97,329.55 745.32,329.54 745.67,329.53 746.01,329.52 746.36,329.5 746.71,329.49 747.06,329.48 747.41,329.47 747.75,329.45 748.1,329.44 748.45,329.43 748.8,329.41 749.15,329.4 749.5,329.39 749.84,329.37 750.19,329.36 750.54,329.34 750.89,329.33 751.24,329.31 751.58,329.3 751.93,329.29 752.28,329.27 752.63,329.25 752.98,329.24 753.32,329.22 753.67,329.21 754.02,329.19 754.37,329.18 754.72,329.16 755.07,329.14 755.41,329.13 755.76,329.11 756.11,329.09 756.46,329.08 756.81,329.06 757.15,329.04 757.5,329.03 757.85,329.01 758.2,328.99 758.55,328.97 758.9,328.95 759.24,328.94 759.59,328.92 759.94,328.9 760.29,328.88 760.64,328.86 760.98,328.84 761.33,328.82 761.68,328.79 762.03,328.77 762.38,328.74 762.72,328.72 763.07,328.69 763.42,328.66 763.77,328.63 764.12,328.6 764.47,328.57 764.81,328.54 765.16,328.51 765.51,328.48 765.86,328.45 766.21,328.41 766.55,328.38 766.9,328.34 767.25,328.31 767.6,328.27 767.95,328.23 768.3,328.2 768.64,328.16 768.99,328.12 769.34,328.08 769.69,328.04 770.04,328 770.38,327.96 770.73,327.92 771.08,327.87 771.43,327.83 771.78,327.79 772.12,327.74 772.47,327.7 772.82,327.65 773.17,327.61 773.52,327.56 773.87,327.51 774.21,327.47 774.56,327.42 774.91,327.37 775.26,327.33 775.61,327.28 775.95,327.23 776.3,327.18 776.65,327.13 777,327.08 777.35,327.03 777.69,326.98 778.04,326.92 778.39,326.87 778.74,326.81 779.09,326.76 779.44,326.7 779.78,326.64 780.13,326.58 780.48,326.52 780.83,326.45 781.18,326.39 781.52,326.32 781.87,326.26 782.22,326.19 782.57,326.12 782.92,326.05 783.27,325.98 783.61,325.91 783.96,325.83 784.31,325.76 784.66,325.68 785.01,325.6 785.35,325.52 785.7,325.45 786.05,325.36 786.4,325.28 786.75,325.2 787.09,325.12 787.44,325.03 787.79,324.94 788.14,324.86 788.49,324.77 788.84,324.68 789.18,324.59 789.53,324.5 789.88,324.41 790.23,324.31 790.58,324.22 790.92,324.12 791.27,324.03 791.62,323.93 791.97,323.83 792.32,323.73 792.66,323.62 793.01,323.52 793.36,323.41 793.71,323.3 794.06,323.18 794.41,323.07 794.75,322.95 795.1,322.83 795.45,322.71 795.8,322.58 796.15,322.46 796.49,322.33 796.84,322.2 797.19,322.07 797.54,321.93 797.89,321.8 798.24,321.66 798.58,321.52 798.93,321.38 799.28,321.23 799.63,321.09 799.98,320.94 800.32,320.79 800.67,320.64 801.02,320.49 801.37,320.33 801.72,320.18 802.06,320.02 802.41,319.86 802.76,319.7 803.11,319.54 803.46,319.37 803.81,319.21 804.15,319.04 804.5,318.88 804.85,318.71 805.2,318.54 805.55,318.37 805.89,318.19 806.24,318.02 806.59,317.85 806.94,317.67 807.29,317.49 807.64,317.31 807.98,317.13 808.33,316.94 808.68,316.75 809.03,316.56 809.38,316.37 809.72,316.18 810.07,315.98 810.42,315.78 810.77,315.58 811.12,315.38 811.46,315.17 811.81,314.96 812.16,314.75 812.51,314.53 812.86,314.32 813.21,314.1 813.55,313.87 813.9,313.65 814.25,313.42 814.6,313.19 814.95,312.95 815.29,312.72 815.64,312.48 815.99,312.23 816.34,311.99 816.69,311.74 817.04,311.48 817.38,311.23 817.73,310.97 818.08,310.7 818.43,310.44 818.78,310.17 819.12,309.89 819.47,309.62 819.82,309.33 820.17,309.05 820.52,308.76 820.86,308.47 821.21,308.17 821.56,307.87 821.91,307.55 822.26,307.23 822.61,306.89 822.95,306.55 823.3,306.19 823.65,305.83 824,305.46 824.35,305.08 824.69,304.69 825.04,304.29 825.39,303.89 825.74,303.48 826.09,303.07 826.43,302.65 826.78,302.22 827.13,301.79 827.48,301.36 827.83,300.92 828.18,300.48 828.52,300.04 828.87,299.59 829.22,299.14 829.57,298.69 829.92,298.24 830.26,297.79 830.61,297.33 830.96,296.88 831.31,296.43 831.66,295.97 832.01,295.5 832.35,295.04 832.7,294.57 833.05,294.09 833.4,293.61 833.75,293.12 834.09,292.64 834.44,292.14 834.79,291.64 835.14,291.14 835.49,290.64 835.83,290.13 836.18,289.61 836.53,289.09 836.88,288.57 837.23,288.04 837.58,287.51 837.92,286.98 838.27,286.44 838.62,285.89 838.97,285.34 839.32,284.79 839.66,284.23 840.01,283.67 840.36,283.11 840.71,282.54 841.06,281.97 841.4,281.39 841.75,280.81 842.1,280.22 842.45,279.62 842.8,279.02 843.15,278.42 843.49,277.81 843.84,277.19 844.19,276.57 844.54,275.94 844.89,275.3 845.23,274.66 845.58,274.02 845.93,273.37 846.28,272.71 846.63,272.04 846.98,271.37 847.32,270.7 847.67,270.02 848.02,269.33 848.37,268.64 848.72,267.94 849.06,267.23 849.41,266.52 849.76,265.8 850.11,265.08 850.46,264.35 850.8,263.61 851.15,262.86 851.5,262.1 851.85,261.32 852.2,260.53 852.55,259.72 852.89,258.91 853.24,258.09 853.59,257.26 853.94,256.42 854.29,255.58 854.63,254.73 854.98,253.88 855.33,253.02 855.68,252.16 856.03,251.3 856.38,250.44 856.72,249.58 857.07,248.72 857.42,247.87 857.77,247.01 858.12,246.16 858.46,245.32 858.81,244.48 859.16,243.63 859.51,242.78 859.86,241.93 860.2,241.07 860.55,240.21 860.9,239.35 861.25,238.49 861.6,237.63 861.95,236.76 862.29,235.9 862.64,235.03 862.99,234.17 863.34,233.31 863.69,232.45 864.03,231.59 864.38,230.74 864.73,229.88 865.08,229.04 865.43,228.19 865.78,227.35 866.12,226.52 866.47,225.69 866.82,224.86 867.17,224.05 867.52,223.24 867.86,222.43 868.21,221.64 868.56,220.85 868.91,220.07 869.26,219.29 869.6,218.51 869.95,217.74 870.3,216.97 870.65,216.2 871,215.43 871.35,214.66 871.69,213.89 872.04,213.12 872.39,212.34 872.74,211.57 873.09,210.79 873.43,210 873.78,209.21 874.13,208.42 874.48,207.62 874.83,206.81 875.17,205.99 875.52,205.16 875.87,204.33 876.22,203.48 876.57,202.63 876.92,201.76 877.26,200.89 877.61,200.01 877.96,199.13 878.31,198.25 878.66,197.36 879,196.47 879.35,195.57 879.7,194.68 880.05,193.79 880.4,192.89 880.75,192 881.09,191.12 881.44,190.24 881.79,189.36 882.14,188.49 882.49,187.62 882.83,186.77 883.18,185.92 883.53,185.08 883.88,184.25 884.23,183.43 884.57,182.61 884.92,181.78 885.27,180.97 885.62,180.15 885.97,179.34 886.32,178.53 886.66,177.72 887.01,176.92 887.36,176.12 887.71,175.32 888.06,174.53 888.4,173.74 888.75,172.96 889.1,172.18 889.45,171.4 889.8,170.63 890.14,169.87 890.49,169.11 890.84,168.36 891.19,167.61 891.54,166.87 891.89,166.14 892.23,165.41 892.58,164.68 892.93,163.96 893.28,163.25 893.63,162.54 893.97,161.84 894.32,161.15 894.67,160.46 895.02,159.79 895.37,159.12 895.72,158.46 896.06,157.81 896.41,157.18 896.76,156.52 897.11,155.82 897.46,155.08 897.8,154.32 898.15,153.55 898.5,152.78 898.85,152.01 899.2,151.27 899.54,150.56 899.89,149.89 900.24,149.28 900.59,148.73 900.94,148.25 901.29,147.87 901.63,147.58 901.98,147.39 902.33,147.33 902.68,147.4 903.03,147.61 903.37,147.95 903.72,148.39 904.07,148.94 904.42,149.59 904.77,150.31 905.12,151.1 905.46,151.95 905.81,152.84 906.16,154.06 906.51,155.78 906.86,157.89 907.2,160.26 907.55,162.79 907.9,165.34 908.25,167.89 908.6,170.57 908.94,173.39 909.29,176.33 909.64,179.4 909.99,182.59 910.34,185.9 910.69,189.31 911.03,192.84 911.38,196.47 911.73,200.19 912.08,204.02 912.43,207.93 912.77,211.93 913.12,216.12 913.47,220.6 913.82,225.32 914.17,230.24 914.52,235.33 914.86,240.54 915.21,245.85 915.56,251.22 915.91,256.78 916.26,262.57 916.6,268.54 916.95,274.65 917.3,280.84 917.65,287.06 918,293.26 918.34,299.41 918.69,305.43 919.04,311.3 919.39,317.05 919.74,322.72 920.09,328.35 920.43,333.95 920.78,339.56 921.13,345.2 921.48,351 921.83,356.93 922.17,362.72 922.52,368.14 922.87,373.07 923.22,377.85 923.57,382.31 923.91,386.18 924.26,389.31 924.61,392.07 924.96,394.38 925.31,396.01 925.66,397.22 926,398.27 926.35,399.01 926.7,399.3 927.05,399.01 927.4,398.27 927.74,397.22 928.09,396.01 928.44,394.38 928.79,392.07 929.14,389.31 929.49,386.18 929.83,382.31 930.18,377.85 930.53,373.07 930.88,368.14 931.23,362.72 931.57,356.93 931.92,351 932.27,345.2 932.62,339.56 932.97,333.95 933.31,328.35 933.66,322.72 934.01,317.05 934.36,311.3 934.71,305.43 935.06,299.41 935.4,293.26 935.75,287.06 936.1,280.84 936.45,274.65 936.8,268.54 937.14,262.57 937.49,256.78 937.84,251.22 938.19,245.85 938.54,240.54 938.88,235.33 939.23,230.24 939.58,225.32 939.93,220.6 940.28,216.12 940.63,211.93 940.97,207.93 941.32,204.02 941.67,200.19 942.02,196.47 942.37,192.84 942.71,189.31 943.06,185.9 943.41,182.59 943.76,179.4 944.11,176.33 944.46,173.39 944.8,170.57 945.15,167.89 945.5,165.34 945.85,162.79 946.2,160.26 946.54,157.89 946.89,155.78 947.24,154.06 947.59,152.84 947.94,151.95 948.28,151.1 948.63,150.31 948.98,149.59 949.33,148.94 949.68,148.39 950.03,147.95 950.37,147.61 950.72,147.4 951.07,147.33 951.42,147.39 951.77,147.58 952.11,147.87 952.46,148.25 952.81,148.73 953.16,149.28 953.51,149.89 953.86,150.56 954.2,151.27 954.55,152.01 954.9,152.78 955.25,153.55 955.6,154.32 955.94,155.08 956.29,155.82 956.64,156.52 956.99,157.18 957.34,157.81 957.68,158.46 958.03,159.12 958.38,159.79 958.73,160.46 959.08,161.15 959.43,161.84 959.77,162.54 960.12,163.25 960.47,163.96 960.82,164.68 961.17,165.41 961.51,166.14 961.86,166.87 962.21,167.61 962.56,168.36 962.91,169.11 963.26,169.87 963.6,170.63 963.95,171.4 964.3,172.18 964.65,172.96 965,173.74 965.34,174.53 965.69,175.32 966.04,176.12 966.39,176.92 966.74,177.72 967.08,178.53 967.43,179.34 967.78,180.15 968.13,180.97 968.48,181.78 968.83,182.61 969.17,183.43 969.52,184.25 969.87,185.08 970.22,185.92 970.57,186.77 970.91,187.62 971.26,188.49 971.61,189.36 971.96,190.24 972.31,191.12 972.65,192 973,192.89 973.35,193.79 973.7,194.68 974.05,195.57 974.4,196.47 974.74,197.36 975.09,198.25 975.44,199.13 975.79,200.01 976.14,200.89 976.48,201.76 976.83,202.63 977.18,203.48 977.53,204.33 977.88,205.16 978.23,205.99 978.57,206.81 978.92,207.62 979.27,208.42 979.62,209.21 979.97,210 980.31,210.79 980.66,211.57 981.01,212.34 981.36,213.12 981.71,213.89 982.05,214.66 982.4,215.43 982.75,216.2 983.1,216.97 983.45,217.74 983.8,218.51 984.14,219.29 984.49,220.07 984.84,220.85 985.19,221.64 985.54,222.43 985.88,223.24 986.23,224.05 986.58,224.86 986.93,225.69 987.28,226.52 987.62,227.35 987.97,228.19 988.32,229.04 988.67,229.88 989.02,230.74 989.37,231.59 989.71,232.45 990.06,233.31 990.41,234.17 990.76,235.03 991.11,235.9 991.45,236.76 991.8,237.63 992.15,238.49 992.5,239.35 992.85,240.21 993.2,241.07 993.54,241.93 993.89,242.78 994.24,243.63 994.59,244.48 994.94,245.32 995.28,246.16 995.63,247.01 995.98,247.87 996.33,248.72 996.68,249.58 997.02,250.44 997.37,251.3 997.72,252.16 998.07,253.02 998.42,253.88 998.77,254.73 999.11,255.58 999.46,256.42 999.81,257.26 1000.16,258.09 1000.51,258.91 1000.85,259.72 1001.2,260.53 1001.55,261.32 1001.9,262.1 1002.25,262.86 1002.6,263.61 1002.94,264.35 1003.29,265.08 1003.64,265.8 1003.99,266.52 1004.34,267.23 1004.68,267.94 1005.03,268.64 1005.38,269.33 1005.73,270.02 1006.08,270.7 1006.42,271.37 1006.77,272.04 1007.12,272.71 1007.47,273.37 1007.82,274.02 1008.17,274.66 1008.51,275.3 1008.86,275.94 1009.21,276.57 1009.56,277.19 1009.91,277.81 1010.25,278.42 1010.6,279.02 1010.95,279.62 1011.3,280.22 1011.65,280.81 1012,281.39 1012.34,281.97 1012.69,282.54 1013.04,283.11 1013.39,283.67 1013.74,284.23 1014.08,284.79 1014.43,285.34 1014.78,285.89 1015.13,286.44 1015.48,286.98 1015.82,287.51 1016.17,288.04 1016.52,288.57 1016.87,289.09 1017.22,289.61 1017.57,290.13 1017.91,290.64 1018.26,291.14 1018.61,291.64 1018.96,292.14 1019.31,292.64 1019.65,293.12 1020,293.61 1020.35,294.09 1020.7,294.57 1021.05,295.04 1021.39,295.5 1021.74,295.97 1022.09,296.43 1022.44,296.88 1022.79,297.33 1023.14,297.79 1023.48,298.24 1023.83,298.69 1024.18,299.14 1024.53,299.59 1024.88,300.04 1025.22,300.48 1025.57,300.92 1025.92,301.36 1026.27,301.79 1026.62,302.22 1026.97,302.65 1027.31,303.07 1027.66,303.48 1028.01,303.89 1028.36,304.29 1028.71,304.69 1029.05,305.08 1029.4,305.46 1029.75,305.83 1030.1,306.19 1030.45,306.55 1030.79,306.89 1031.14,307.23 1031.49,307.55 1031.84,307.87 1032.19,308.17 1032.54,308.47 1032.88,308.76 1033.23,309.05 1033.58,309.33 1033.93,309.62 1034.28,309.89 1034.62,310.17 1034.97,310.44 1035.32,310.7 1035.67,310.97 1036.02,311.23 1036.37,311.48 1036.71,311.74 1037.06,311.99 1037.41,312.23 1037.76,312.48 1038.11,312.72 1038.45,312.95 1038.8,313.19 1039.15,313.42 1039.5,313.65 1039.85,313.87 1040.19,314.1 1040.54,314.32 1040.89,314.53 1041.24,314.75 1041.59,314.96 1041.94,315.17 1042.28,315.38 1042.63,315.58 1042.98,315.78 1043.33,315.98 1043.68,316.18 1044.02,316.37 1044.37,316.56 1044.72,316.75 1045.07,316.94 1045.42,317.13 1045.76,317.31 1046.11,317.49 1046.46,317.67 1046.81,317.85 1047.16,318.02 1047.51,318.19 1047.85,318.37 1048.2,318.54 1048.55,318.71 1048.9,318.88 1049.25,319.04 1049.59,319.21 1049.94,319.37 1050.29,319.54 1050.64,319.7 1050.99,319.86 1051.34,320.02 1051.68,320.18 1052.03,320.33 1052.38,320.49 1052.73,320.64 1053.08,320.79 1053.42,320.94 1053.77,321.09 1054.12,321.23 1054.47,321.38 1054.82,321.52 1055.16,321.66 1055.51,321.8 1055.86,321.93 1056.21,322.07 1056.56,322.2 1056.91,322.33 1057.25,322.46 1057.6,322.58 1057.95,322.71 1058.3,322.83 1058.65,322.95 1058.99,323.07 1059.34,323.18 1059.69,323.3 1060.04,323.41 1060.39,323.52 1060.74,323.62 1061.08,323.73 1061.43,323.83 1061.78,323.93 1062.13,324.03 1062.48,324.12 1062.82,324.22 1063.17,324.31 1063.52,324.41 1063.87,324.5 1064.22,324.59 1064.56,324.68 1064.91,324.77 1065.26,324.86 1065.61,324.94 1065.96,325.03 1066.31,325.12 1066.65,325.2 1067,325.28 1067.35,325.36 1067.7,325.45 1068.05,325.52 1068.39,325.6 1068.74,325.68 1069.09,325.76 1069.44,325.83 1069.79,325.91 1070.13,325.98 1070.48,326.05 1070.83,326.12 1071.18,326.19 1071.53,326.26 1071.88,326.32 1072.22,326.39 1072.57,326.45 1072.92,326.52 1073.27,326.58 1073.62,326.64 1073.96,326.7 1074.31,326.76 1074.66,326.81 1075.01,326.87 1075.36,326.92 1075.71,326.98 1076.05,327.03 1076.4,327.08 1076.75,327.13 1077.1,327.18 1077.45,327.23 1077.79,327.28 1078.14,327.33 1078.49,327.37 1078.84,327.42 1079.19,327.47 1079.53,327.51 1079.88,327.56 1080.23,327.61 1080.58,327.65 1080.93,327.7 1081.28,327.74 1081.62,327.79 1081.97,327.83 1082.32,327.87 1082.67,327.92 1083.02,327.96 1083.36,328 1083.71,328.04 1084.06,328.08 1084.41,328.12 1084.76,328.16 1085.11,328.2 1085.45,328.23 1085.8,328.27 1086.15,328.31 1086.5,328.34 1086.85,328.38 1087.19,328.41 1087.54,328.45 1087.89,328.48 1088.24,328.51 1088.59,328.54 1088.93,328.57 1089.28,328.6 1089.63,328.63 1089.98,328.66 1090.33,328.69 1090.68,328.72 1091.02,328.74 1091.37,328.77 1091.72,328.79 1092.07,328.82 1092.42,328.84 1092.76,328.86 1093.11,328.88 1093.46,328.9 1093.81,328.92 1094.16,328.94 1094.5,328.95 1094.85,328.97 1095.2,328.99 1095.55,329.01 1095.9,329.03 1096.25,329.04 1096.59,329.06 1096.94,329.08 1097.29,329.09 1097.64,329.11 1097.99,329.13 1098.33,329.14 1098.68,329.16 1099.03,329.18 1099.38,329.19 1099.73,329.21 1100.08,329.22 1100.42,329.24 1100.77,329.25 1101.12,329.27 1101.47,329.29 1101.82,329.3 1102.16,329.31 1102.51,329.33 1102.86,329.34 1103.21,329.36 1103.56,329.37 1103.9,329.39 1104.25,329.4 1104.6,329.41 1104.95,329.43 1105.3,329.44 1105.65,329.45 1105.99,329.47 1106.34,329.48 1106.69,329.49 1107.04,329.5 1107.39,329.52 1107.73,329.53 1108.08,329.54 1108.43,329.55 1108.78,329.56 1109.13,329.57 1109.48,329.58 1109.82,329.6 1110.17,329.61 1110.52,329.62 1110.87,329.63 1111.22,329.64 1111.56,329.65 1111.91,329.66 1112.26,329.67 1112.61,329.67 1112.96,329.68 1113.3,329.69 1113.65,329.7 1114,329.71 1114.35,329.72 1114.7,329.73 1115.05,329.73 1115.39,329.74 1115.74,329.75 1116.09,329.75 1116.44,329.76 1116.79,329.77 1117.13,329.77 1117.48,329.78 1117.83,329.79 1118.18,329.79 1118.53,329.8 1118.87,329.8 1119.22,329.81 1119.57,329.81 1119.92,329.82 1120.27,329.82 1120.62,329.83 1120.96,329.83 1121.31,329.83 1121.66,329.84 1122.01,329.84 1122.36,329.84 1122.7,329.85 1123.05,329.85 1123.4,329.85 1123.75,329.86 1124.1,329.86 1124.45,329.86 1124.79,329.87 1125.14,329.87 1125.49,329.87 1125.84,329.88 1126.19,329.88 1126.53,329.88 1126.88,329.88 1127.23,329.89 1127.58,329.89 1127.93,329.89 1128.27,329.9 1128.62,329.9 1128.97,329.9 1129.32,329.91 1129.67,329.91 1130.02,329.91 1130.36,329.91 1130.71,329.92 1131.06,329.92 1131.41,329.92 1131.76,329.93 1132.1,329.93 1132.45,329.93 1132.8,329.93 1133.15,329.94 1133.5,329.94 1133.85,329.94 1134.19,329.94 1134.54,329.95 1134.89,329.95 1135.24,329.95 1135.59,329.95 1135.93,329.96 1136.28,329.96 1136.63,329.96 1136.98,329.96 1137.33,329.97 1137.67,329.97 1138.02,329.97 1138.37,329.97 1138.72,329.98 1139.07,329.98 1139.42,329.98 1139.76,329.98 1140.11,329.99 1140.46,329.99 1140.81,329.99 1141.16,329.99 1141.5,329.99 1141.85,330 1142.2,330 1142.55,330 1142.9,330 1143.24,330 1143.59,330.01 1143.94,330.01 1144.29,330.01 1144.64,330.01 1144.99,330.02 1145.33,330.02 1145.68,330.02 1146.03,330.02 1146.38,330.02 1146.73,330.02 1147.07,330.03 1147.42,330.03 1147.77,330.03 1148.12,330.03 1148.47,330.03 1148.82,330.04 1149.16,330.04 1149.51,330.04 1149.86,330.04 1150.21,330.04 1150.56,330.04 1150.9,330.05 1151.25,330.05 1151.6,330.05 1151.95,330.05 1152.3,330.05 1152.64,330.05 1152.99,330.05 1153.34,330.06 1153.69,330.06 1154.04,330.06 1154.39,330.06 1154.73,330.06 1155.08,330.06 1155.43,330.06 1155.78,330.07 1156.13,330.07 1156.47,330.07 1156.82,330.07 1157.17,330.07 1157.52,330.07 1157.87,330.07 1158.22,330.07 1158.56,330.08 1158.91,330.08 1159.26,330.08 1159.61,330.08 1159.96,330.08 1160.3,330.08 1160.65,330.08 1161,330.08 1161.35,330.08 1161.7,330.08 1162.04,330.09 1162.39,330.09 1162.74,330.09 1163.09,330.09 1163.44,330.09 1163.79,330.09 1164.13,330.09 1164.48,330.09 1164.83,330.09 1165.18,330.09 1165.53,330.09 1165.87,330.09 1166.22,330.09 1166.57,330.09 1166.92,330.09 1167.27,330.1 1167.61,330.1 1167.96,330.1 1168.31,330.1 1168.66,330.1 1169.01,330.1 1169.36,330.1 1169.7,330.1 1170.05,330.1 1170.4,330.1"/>
<polyline fill="none" stroke="#dc267f" stroke-width="4.17" stroke-linejoin="round" stroke-linecap="square" clip-path="url(#cc)" points="1219.5,329.71 1248.28,329.05 1269.87,328 1283.54,328.26 1306.42,325.24 1328.23,314.34 1342.83,298.46 1356.43,283.88 1370.11,266.55 1385,253.81 1390.47,250.66 1398.6,247.91 1405.87,248.43 1415.01,253.81 1425.87,268.39 1435.01,284.8 1446.88,305.68 1456.02,323.93 1460.48,331.15 1466.31,328.52 1471.35,327.61 1476.39,328.52 1481.5,331.15 1489.99,317.5 1501.79,293.86 1513.73,271.93 1526.4,254.87 1538.2,247.51 1549.06,247.91 1562.81,256.57 1570.87,267.34 1582.67,282.04 1596.41,296.62 1607.28,307.25 1614.62,314.61 1634.62,325.24 1655.27,329.05 1677.87,329.84 1723.2,330.1"/>
<polyline fill="none" stroke="#000" stroke-width="4.17" stroke-linejoin="round" stroke-dasharray="15.42 6.67" stroke-linecap="butt" clip-path="url(#cc)" points="1215.9,330.1 1216.62,330.1 1217.34,330.1 1218.06,330.1 1218.78,330.09 1219.5,330.09 1220.22,330.08 1220.94,330.08 1221.66,330.07 1222.38,330.07 1223.1,330.06 1223.82,330.05 1224.54,330.04 1225.26,330.03 1225.98,330.02 1226.7,330.01 1227.42,329.99 1228.13,329.98 1228.85,329.97 1229.57,329.96 1230.29,329.94 1231.01,329.93 1231.73,329.91 1232.45,329.89 1233.17,329.88 1233.89,329.86 1234.61,329.84 1235.33,329.82 1236.05,329.81 1236.77,329.79 1237.49,329.77 1238.21,329.75 1238.93,329.73 1239.65,329.71 1240.37,329.69 1241.09,329.67 1241.81,329.65 1242.53,329.62 1243.25,329.6 1243.97,329.58 1244.68,329.56 1245.4,329.54 1246.12,329.51 1246.84,329.49 1247.56,329.47 1248.28,329.44 1249,329.42 1249.72,329.39 1250.44,329.37 1251.16,329.34 1251.88,329.31 1252.6,329.27 1253.32,329.24 1254.04,329.2 1254.76,329.16 1255.48,329.12 1256.2,329.08 1256.92,329.04 1257.64,329 1258.36,328.95 1259.08,328.9 1259.8,328.85 1260.52,328.8 1261.24,328.75 1261.95,328.7 1262.67,328.64 1263.39,328.58 1264.11,328.53 1264.83,328.47 1265.55,328.41 1266.27,328.34 1266.99,328.28 1267.71,328.22 1268.43,328.15 1269.15,328.08 1269.87,328.01 1270.59,327.94 1271.31,327.87 1272.03,327.79 1272.75,327.7 1273.47,327.61 1274.19,327.52 1274.91,327.42 1275.63,327.32 1276.35,327.21 1277.07,327.1 1277.79,326.98 1278.5,326.87 1279.22,326.74 1279.94,326.62 1280.66,326.49 1281.38,326.36 1282.1,326.22 1282.82,326.08 1283.54,325.94 1284.26,325.8 1284.98,325.65 1285.7,325.5 1286.42,325.35 1287.14,325.19 1287.86,325.04 1288.58,324.88 1289.3,324.72 1290.02,324.55 1290.74,324.39 1291.46,324.22 1292.18,324.05 1292.9,323.88 1293.62,323.7 1294.34,323.52 1295.06,323.33 1295.77,323.13 1296.49,322.93 1297.21,322.72 1297.93,322.5 1298.65,322.28 1299.37,322.06 1300.09,321.83 1300.81,321.59 1301.53,321.35 1302.25,321.1 1302.97,320.85 1303.69,320.59 1304.41,320.33 1305.13,320.06 1305.85,319.79 1306.57,319.51 1307.29,319.23 1308.01,318.95 1308.73,318.66 1309.45,318.37 1310.17,318.07 1310.89,317.77 1311.61,317.47 1312.32,317.17 1313.04,316.86 1313.76,316.54 1314.48,316.23 1315.2,315.9 1315.92,315.57 1316.64,315.23 1317.36,314.88 1318.08,314.52 1318.8,314.16 1319.52,313.79 1320.24,313.41 1320.96,313.03 1321.68,312.64 1322.4,312.24 1323.12,311.83 1323.84,311.42 1324.56,311 1325.28,310.57 1326,310.14 1326.72,309.7 1327.44,309.25 1328.16,308.79 1328.87,308.33 1329.59,307.86 1330.31,307.39 1331.03,306.91 1331.75,306.42 1332.47,305.93 1333.19,305.43 1333.91,304.91 1334.63,304.38 1335.35,303.84 1336.07,303.29 1336.79,302.72 1337.51,302.14 1338.23,301.55 1338.95,300.94 1339.67,300.33 1340.39,299.7 1341.11,299.06 1341.83,298.42 1342.55,297.76 1343.27,297.09 1343.99,296.42 1344.71,295.73 1345.42,295.04 1346.14,294.34 1346.86,293.63 1347.58,292.91 1348.3,292.19 1349.02,291.46 1349.74,290.71 1350.46,289.93 1351.18,289.13 1351.9,288.29 1352.62,287.43 1353.34,286.56 1354.06,285.66 1354.78,284.76 1355.5,283.84 1356.22,282.92 1356.94,282 1357.66,281.08 1358.38,280.17 1359.1,279.26 1359.82,278.36 1360.54,277.49 1361.26,276.63 1361.98,275.79 1362.69,274.98 1363.41,274.19 1364.13,273.41 1364.85,272.63 1365.57,271.86 1366.29,271.09 1367.01,270.33 1367.73,269.58 1368.45,268.83 1369.17,268.09 1369.89,267.36 1370.61,266.64 1371.33,265.92 1372.05,265.21 1372.77,264.51 1373.49,263.82 1374.21,263.14 1374.93,262.46 1375.65,261.8 1376.37,261.15 1377.09,260.5 1377.81,259.87 1378.53,259.22 1379.24,258.56 1379.96,257.9 1380.68,257.25 1381.4,256.6 1382.12,255.96 1382.84,255.33 1383.56,254.73 1384.28,254.15 1385,253.6 1385.72,253.08 1386.44,252.6 1387.16,252.17 1387.88,251.79 1388.6,251.45 1389.32,251.12 1390.04,250.79 1390.76,250.47 1391.48,250.15 1392.2,249.86 1392.92,249.59 1393.64,249.35 1394.36,249.15 1395.08,248.99 1395.8,248.88 1396.51,248.83 1397.23,248.83 1397.95,248.87 1398.67,248.95 1399.39,249.06 1400.11,249.19 1400.83,249.35 1401.55,249.53 1402.27,249.73 1402.99,249.94 1403.71,250.16 1404.43,250.39 1405.15,250.71 1405.87,251.1 1406.59,251.57 1407.31,252.09 1408.03,252.67 1408.75,253.28 1409.47,253.93 1410.19,254.6 1410.91,255.28 1411.63,255.96 1412.35,256.64 1413.06,257.33 1413.78,258.06 1414.5,258.83 1415.22,259.62 1415.94,260.45 1416.66,261.3 1417.38,262.18 1418.1,263.08 1418.82,264.01 1419.54,264.95 1420.26,265.91 1420.98,266.88 1421.7,267.87 1422.42,268.9 1423.14,269.97 1423.86,271.07 1424.58,272.21 1425.3,273.37 1426.02,274.56 1426.74,275.76 1427.46,276.97 1428.18,278.18 1428.9,279.4 1429.61,280.61 1430.33,281.81 1431.05,283 1431.77,284.21 1432.49,285.43 1433.21,286.66 1433.93,287.9 1434.65,289.14 1435.37,290.38 1436.09,291.62 1436.81,292.85 1437.53,294.08 1438.25,295.29 1438.97,296.48 1439.69,297.65 1440.41,298.81 1441.13,299.95 1441.85,301.07 1442.57,302.19 1443.29,303.29 1444.01,304.39 1444.73,305.49 1445.45,306.58 1446.16,307.68 1446.88,308.78 1447.6,309.88 1448.32,311 1449.04,312.12 1449.76,313.26 1450.48,314.46 1451.2,315.7 1451.92,316.99 1452.64,318.28 1453.36,319.55 1454.08,320.79 1454.8,321.97 1455.52,323.07 1456.24,324.06 1456.96,324.93 1457.68,325.76 1458.4,326.6 1459.12,327.42 1459.84,328.15 1460.56,328.78 1461.28,329.25 1462,329.53 1462.72,329.61 1463.43,329.67 1464.15,329.72 1464.87,329.76 1465.59,329.79 1466.31,329.82 1467.03,329.83 1467.75,329.84 1468.47,329.84 1469.19,329.84 1469.91,329.84 1470.63,329.84 1471.35,329.84 1472.07,329.84 1472.79,329.84 1473.51,329.84 1474.23,329.84 1474.95,329.84 1475.67,329.84 1476.39,329.83 1477.11,329.82 1477.83,329.8 1478.55,329.78 1479.27,329.76 1479.98,329.73 1480.7,329.69 1481.42,329.65 1482.14,329.6 1482.86,329.47 1483.58,329.03 1484.3,328.36 1485.02,327.58 1485.74,326.82 1486.46,326.07 1487.18,325.27 1487.9,324.4 1488.62,323.47 1489.34,322.49 1490.06,321.46 1490.78,320.35 1491.5,319.16 1492.22,317.9 1492.94,316.57 1493.66,315.19 1494.38,313.75 1495.1,312.29 1495.82,310.79 1496.54,309.27 1497.25,307.74 1497.97,306.22 1498.69,304.7 1499.41,303.19 1500.13,301.71 1500.85,300.27 1501.57,298.87 1502.29,297.5 1503.01,296.14 1503.73,294.78 1504.45,293.41 1505.17,292.05 1505.89,290.7 1506.61,289.35 1507.33,288 1508.05,286.67 1508.77,285.35 1509.49,284.04 1510.21,282.74 1510.93,281.46 1511.65,280.2 1512.37,278.96 1513.09,277.74 1513.8,276.54 1514.52,275.35 1515.24,274.14 1515.96,272.94 1516.68,271.73 1517.4,270.53 1518.12,269.35 1518.84,268.19 1519.56,267.05 1520.28,265.94 1521,264.87 1521.72,263.84 1522.44,262.86 1523.16,261.93 1523.88,261.06 1524.6,260.25 1525.32,259.47 1526.04,258.69 1526.76,257.92 1527.48,257.16 1528.2,256.41 1528.92,255.68 1529.64,254.99 1530.35,254.33 1531.07,253.71 1531.79,253.14 1532.51,252.62 1533.23,252.16 1533.95,251.77 1534.67,251.45 1535.39,251.21 1536.11,251.02 1536.83,250.84 1537.55,250.66 1538.27,250.49 1538.99,250.34 1539.71,250.18 1540.43,250.04 1541.15,249.92 1541.87,249.8 1542.59,249.69 1543.31,249.6 1544.03,249.52 1544.75,249.45 1545.47,249.4 1546.19,249.37 1546.9,249.35 1547.62,249.36 1548.34,249.41 1549.06,249.51 1549.78,249.65 1550.5,249.83 1551.22,250.05 1551.94,250.3 1552.66,250.58 1553.38,250.88 1554.1,251.21 1554.82,251.55 1555.54,251.91 1556.26,252.28 1556.98,252.65 1557.7,253.03 1558.42,253.41 1559.14,253.78 1559.86,254.16 1560.58,254.58 1561.3,255.03 1562.02,255.52 1562.74,256.03 1563.46,256.57 1564.17,257.14 1564.89,257.73 1565.61,258.34 1566.33,258.97 1567.05,259.62 1567.77,260.27 1568.49,260.94 1569.21,261.62 1569.93,262.31 1570.65,263 1571.37,263.69 1572.09,264.39 1572.81,265.08 1573.53,265.76 1574.25,266.46 1574.97,267.17 1575.69,267.9 1576.41,268.65 1577.13,269.41 1577.85,270.18 1578.57,270.97 1579.29,271.77 1580.01,272.58 1580.72,273.39 1581.44,274.22 1582.16,275.04 1582.88,275.87 1583.6,276.71 1584.32,277.54 1585.04,278.37 1585.76,279.2 1586.48,280.03 1587.2,280.86 1587.92,281.67 1588.64,282.48 1589.36,283.28 1590.08,284.09 1590.8,284.92 1591.52,285.75 1592.24,286.59 1592.96,287.43 1593.68,288.28 1594.4,289.12 1595.12,289.97 1595.84,290.81 1596.56,291.65 1597.28,292.48 1597.99,293.31 1598.71,294.12 1599.43,294.92 1600.15,295.7 1600.87,296.46 1601.59,297.21 1602.31,297.93 1603.03,298.64 1603.75,299.31 1604.47,299.97 1605.19,300.62 1605.91,301.27 1606.63,301.91 1607.35,302.53 1608.07,303.15 1608.79,303.77 1609.51,304.37 1610.23,304.97 1610.95,305.55 1611.67,306.13 1612.39,306.7 1613.11,307.26 1613.83,307.81 1614.54,308.35 1615.26,308.89 1615.98,309.41 1616.7,309.93 1617.42,310.43 1618.14,310.93 1618.86,311.41 1619.58,311.89 1620.3,312.36 1621.02,312.81 1621.74,313.27 1622.46,313.72 1623.18,314.17 1623.9,314.62 1624.62,315.07 1625.34,315.51 1626.06,315.96 1626.78,316.39 1627.5,316.83 1628.22,317.26 1628.94,317.68 1629.66,318.1 1630.38,318.51 1631.09,318.91 1631.81,319.3 1632.53,319.69 1633.25,320.07 1633.97,320.43 1634.69,320.79 1635.41,321.14 1636.13,321.47 1636.85,321.79 1637.57,322.1 1638.29,322.4 1639.01,322.68 1639.73,322.95 1640.45,323.21 1641.17,323.44 1641.89,323.67 1642.61,323.88 1643.33,324.09 1644.05,324.29 1644.77,324.49 1645.49,324.69 1646.21,324.88 1646.93,325.07 1647.64,325.25 1648.36,325.43 1649.08,325.6 1649.8,325.77 1650.52,325.94 1651.24,326.1 1651.96,326.26 1652.68,326.41 1653.4,326.56 1654.12,326.7 1654.84,326.84 1655.56,326.97 1656.28,327.09 1657,327.22 1657.72,327.33 1658.44,327.44 1659.16,327.55 1659.88,327.65 1660.6,327.75 1661.32,327.84 1662.04,327.92 1662.76,328 1663.48,328.07 1664.2,328.15 1664.91,328.22 1665.63,328.29 1666.35,328.36 1667.07,328.43 1667.79,328.5 1668.51,328.56 1669.23,328.63 1669.95,328.69 1670.67,328.75 1671.39,328.81 1672.11,328.87 1672.83,328.93 1673.55,328.98 1674.27,329.03 1674.99,329.08 1675.71,329.13 1676.43,329.18 1677.15,329.22 1677.87,329.27 1678.59,329.31 1679.31,329.34 1680.03,329.38 1680.75,329.41 1681.46,329.45 1682.18,329.47 1682.9,329.5 1683.62,329.53 1684.34,329.55 1685.06,329.57 1685.78,329.58 1686.5,329.6 1687.22,329.62 1687.94,329.63 1688.66,329.65 1689.38,329.66 1690.1,329.68 1690.82,329.69 1691.54,329.71 1692.26,329.72 1692.98,329.74 1693.7,329.75 1694.42,329.77 1695.14,329.78 1695.86,329.79 1696.58,329.81 1697.3,329.82 1698.02,329.83 1698.73,329.84 1699.45,329.86 1700.17,329.87 1700.89,329.88 1701.61,329.89 1702.33,329.9 1703.05,329.91 1703.77,329.92 1704.49,329.93 1705.21,329.94 1705.93,329.95 1706.65,329.96 1707.37,329.97 1708.09,329.98 1708.81,329.99 1709.53,330 1710.25,330.01 1710.97,330.01 1711.69,330.02 1712.41,330.03 1713.13,330.04 1713.85,330.04 1714.57,330.05 1715.28,330.05 1716,330.06 1716.72,330.06 1717.44,330.07 1718.16,330.07 1718.88,330.08 1719.6,330.08 1720.32,330.09 1721.04,330.09 1721.76,330.09 1722.48,330.09 1723.2,330.1 1723.92,330.1 1724.64,330.1 1725.36,330.1 1726.08,330.1 1726.8,330.1"/>
<polyline fill="none" stroke="#669f0c" stroke-width="4.6" stroke-linejoin="round" stroke-linecap="square" clip-path="url(#cd)" points="146.1,917.8 146.63,917.8 147.15,917.8 147.68,917.8 148.2,917.8 148.73,917.8 149.25,917.8 149.78,917.8 150.31,917.8 150.83,917.8 151.36,917.8 151.88,917.8 152.41,917.8 152.93,917.8 153.46,917.8 153.99,917.8 154.51,917.79 155.04,917.8 155.56,917.78 156.09,917.78 156.61,917.78 157.14,917.79 157.67,917.78 158.19,917.79 158.72,917.78 159.24,917.78 159.77,917.78 160.29,917.78 160.82,917.8 161.35,917.77 161.87,917.76 162.4,917.79 162.92,917.77 163.45,917.79 163.97,917.78 164.5,917.76 165.03,917.77 165.55,917.79 166.08,917.77 166.6,917.78 167.13,917.75 167.65,917.76 168.18,917.77 168.71,917.77 169.23,917.75 169.76,917.76 170.28,917.77 170.81,917.74 171.33,917.74 171.86,917.75 172.38,917.72 172.91,917.74 173.44,917.71 173.96,917.73 174.49,917.69 175.01,917.72 175.54,917.7 176.06,917.71 176.59,917.7 177.12,917.69 177.64,917.72 178.17,917.72 178.69,917.7 179.22,917.73 179.74,917.68 180.27,917.72 180.8,917.69 181.32,917.67 181.85,917.7 182.37,917.65 182.9,917.67 183.42,917.67 183.95,917.65 184.48,917.69 185,917.64 185.53,917.7 186.05,917.65 186.58,917.67 187.1,917.67 187.63,917.69 188.16,917.63 188.68,917.64 189.21,917.66 189.73,917.64 190.26,917.65 190.78,917.66 191.31,917.64 191.84,917.59 192.36,917.62 192.89,917.61 193.41,917.59 193.94,917.6 194.46,917.65 194.99,917.63 195.52,917.59 196.04,917.61 196.57,917.56 197.09,917.61 197.62,917.62 198.14,917.57 198.67,917.58 199.2,917.61 199.72,917.58 200.25,917.58 200.77,917.56 201.3,917.54 201.82,917.55 202.35,917.56 202.88,917.54 203.4,917.49 203.93,917.49 204.45,917.54 204.98,917.52 205.5,917.49 206.03,917.45 206.56,917.49 207.08,917.54 207.61,917.52 208.13,917.47 208.66,917.56 209.18,917.57 209.71,917.5 210.24,917.51 210.76,917.48 211.29,917.49 211.81,917.46 212.34,917.46 212.86,917.5 213.39,917.5 213.92,917.44 214.44,917.49 214.97,917.49 215.49,917.51 216.02,917.52 216.54,917.46 217.07,917.43 217.6,917.44 218.12,917.34 218.65,917.33 219.17,917.43 219.7,917.34 220.22,917.42 220.75,917.37 221.28,917.35 221.8,917.4 222.33,917.3 222.85,917.37 223.38,917.29 223.9,917.33 224.43,917.35 224.96,917.27 225.48,917.31 226.01,917.3 226.53,917.24 227.06,917.28 227.58,917.27 228.11,917.2 228.63,917.29 229.16,917.13 229.69,917.2 230.21,917.14 230.74,917.19 231.26,917.15 231.79,917.2 232.31,917.14 232.84,917.18 233.37,917.27 233.89,917.08 234.42,917.19 234.94,917.12 235.47,917.16 235.99,917.05 236.52,917.18 237.05,917.13 237.57,917.17 238.1,917.13 238.62,917.2 239.15,917.17 239.67,917.16 240.2,917.06 240.73,916.97 241.25,917.03 241.78,917.05 242.3,917.08 242.83,917.06 243.35,917.01 243.88,917.03 244.41,916.93 244.93,916.95 245.46,916.85 245.98,916.92 246.51,916.97 247.03,916.9 247.56,916.74 248.09,916.86 248.61,916.81 249.14,916.81 249.66,916.71 250.19,916.72 250.71,916.67 251.24,916.78 251.77,916.84 252.29,916.72 252.82,916.81 253.34,916.68 253.87,916.67 254.39,916.59 254.92,916.72 255.45,916.67 255.97,916.53 256.5,916.51 257.02,916.62 257.55,916.69 258.07,916.54 258.6,916.62 259.13,916.64 259.65,916.55 260.18,916.66 260.7,916.51 261.23,916.52 261.75,916.58 262.28,916.51 262.81,916.46 263.33,916.45 263.86,916.48 264.38,916.44 264.91,916.36 265.43,916.27 265.96,916.33 266.49,916.33 267.01,916.18 267.54,916.31 268.06,916.16 268.59,916.12 269.11,916.19 269.64,916.26 270.17,916.22 270.69,916.08 271.22,916 271.74,916.01 272.27,916.08 272.79,915.98 273.32,916.11 273.85,916.15 274.37,916.27 274.9,916.07 275.42,916.03 275.95,916.27 276.47,916.08 277,916.08 277.52,915.97 278.05,915.92 278.58,916 279.1,915.96 279.63,915.91 280.15,915.86 280.69,915.71 281.21,915.79 281.73,915.76 282.25,915.8 282.78,915.8 283.3,915.63 283.83,915.75 284.38,915.71 284.88,915.71 285.41,915.51 285.93,915.68 286.44,915.5 286.97,915.48 287.53,915.57 288.01,915.42 288.55,915.42 289.06,915.33 289.66,915.31 290.2,915.04 290.64,915.34 291.16,915.19 291.74,915.18 292.26,915.05 292.79,915.11 293.35,915.1 293.84,915.19 294.39,915 295.02,914.87 295.42,915.03 295.87,914.96 296.42,914.73 296.99,914.89 297.37,914.83 297.88,914.93 298.62,914.62 299.08,914.68 299.71,914.39 300.04,914.71 300.66,914.5 301.14,914.54 301.69,914.32 302.29,914.37 302.64,914.38 303.35,914.33 303.7,914.2 304.24,914.28 304.94,914.21 305.36,914.08 305.91,914.05 306.55,913.99 306.86,914.15 307.48,913.93 308.05,913.89 308.72,914.08 308.89,914.18 309.61,913.77 310.08,913.85 310.48,913.74 311.27,913.84 311.47,913.69 311.92,913.62 312.81,913.33 313.2,913.28 313.93,912.94 314.35,913.08 314.89,913.31 315.49,913.16 315.95,913.06 316.28,913.04 317.02,912.58 317.29,912.74 318.31,912.8 318.6,912.75 319.24,912.99 319.96,912.61 320.31,912.53 320.76,912.26 321.46,911.77 322.07,912.12 322.01,912.53 322.76,911.86 322.67,911.37 323.68,912 324.13,912.22 324.49,911.92 325.25,911.61 326.05,911.26 326.75,912.15 326.98,912.35 327.59,911.7 328.28,911.39 329.18,911.51 329.33,911.52 329.43,911.59 329.6,911.48 330.93,911.4 331.24,911.3 331.73,911.32 331.41,911.21 332.83,911.24 333.27,910.88 333.53,910.54 333.72,910.17 334.34,910.6 335.14,910.21 335.85,910.74 336.64,910.98 336.93,910.93 337.86,910.17 338.66,910.39 338.62,910.19 339.15,910.12 340.41,910.12 340.95,909.43 340.46,910.06 341.91,910 341.93,909.87 341.9,910.56 341.92,910.01 343.26,909.77 344.31,909.84 345.04,910.05 344.5,909.96 345.78,909.6 345.69,909.36 346.23,909.48 345.91,909.06 347.3,909.19 348.63,908.81 348.48,909.29 349.2,908.89 349.05,908.89 350.48,909.08 350.89,908.22 350.81,908.43 352.11,908.45 352.23,908.49 352.39,908.36 353.43,908.11 353.6,907.65 353.92,906.63 354.75,907.04 355.69,907.08 355.88,907.88 358.08,907.11 357.14,907.31 357.18,907.08 357.53,906.84 357.66,907.23 359.6,907.24 358.76,906.88 360.56,906.82 359.86,906.54 360.88,905.5 362.81,905.12 363.25,906.52 364.2,906.62 363.65,905.46 364.81,906.13 364.5,905.86 363.82,905.67 366.3,905.21 366.77,906.08 367.01,905.68 366.71,905.81 368.42,905.27 367.58,904.86 368.72,905.16 370.56,903.99 369.97,905.21 369.53,904.4 369.44,903.1 370.56,904.45 372.64,904.4 372.51,903.13 373.06,904.06 372.37,903.27 374.7,903.76 373.04,903.45 375.17,902.54 375.77,902.1 376.35,902.96 375.51,903.9 375.22,902.42 378.32,902.61 378.11,901.24 378.61,900.17 379,901.64 379.81,902.83 379.83,902.36 381.34,902.8 380.85,902.31 381.5,901.83 382.66,901.2 383.14,901.84 383.25,900.94 382.9,899.4 384.84,901.23 383.95,901.14 385.68,900.31 386.37,900.8 386.84,900.3 388.02,900.91 387.02,899.67 389.58,899.91 388.07,899.56 388.74,899.33 389.57,899.78 388.89,899.5 390.42,897.67 391.94,898.04 390.24,898.3 392.32,899.32 392,898.12 393.6,898.76 390.98,898.87 395.03,898.98 393.71,898.14 392.7,898.24 395.14,897.84 397.4,896.33 398.49,897.33 398.25,896.69 396.34,897.72 397.86,896.74 399.24,895.8 398.01,895.41 400.84,894.54 400.7,894.84 405.45,893.22 401.96,894.38 401.41,893.96 400.89,894.01 403.97,894.71 406.62,894.48 404.46,892.8 403.85,893.71 403.07,892.7 407.22,891.61 406.8,890.91 408.59,891.57 407.46,890.52 406.58,890.14 407.39,891.13 409.09,889.75 409.64,892.27 407.68,890.6 410.48,891.22 412.07,888.48 411.13,889.7 410.62,888.09 414.29,887.02 412.84,887.19 412.79,887.6 414.06,888.28 415.69,887.24 414.65,886.18 417.24,885.63 416.05,883.37 416.74,885.12 416.88,885.63 415.01,881.23 416.95,883.69 417.44,884.51 419.68,883.54 418.63,884.38 419.68,882.3 422.05,880.12 419.63,881.87 423.48,881.37 423.79,881.57 422.25,880.34 422.35,880.06 423.34,879.49 422.88,878.94 426.56,878.39 424.25,875.61 424.9,872.32 427.71,877.01 428.81,876.85 429.84,877.54 427.94,873.03 426.81,872.31 430.08,873.68 430.14,874.69 429.82,872.84 430.99,872.49 432.14,871.36 433.4,871.78 430.86,871.73 431.54,871.53 435.18,869.42 434.93,870.24 433.56,869.79 436.44,869.15 434.61,868.18 436.78,867.02 436.68,865.59 440.63,866.62 440.46,864.95 437.89,864.5 440.94,863.86 441.08,864.42 438.68,863.45 440.84,862.37 443.08,862.21 439.04,861 442.76,860.51 443.04,858.22 443.61,860.18 442.57,858.53 444.09,855.75 445.32,856.81 444.59,856.84 447.77,852.93 443.99,854.31 447.56,851.97 445.6,852.2 447.59,850.86 446.97,851.14 450.1,847.76 451.4,848.97 447.47,848.95 447.25,849.36 452.19,847.81 452,847.79 452.16,846.73 453.01,846.9 449.21,845.25 451.06,844.18 454.25,843.9 453.71,841.99 455.08,843.07 453.99,838.83 456.92,837.55 457.7,838.02 456.66,836.08 455.95,836.8 458.17,832.91 459.24,829.42 458.3,833.11 463.37,833.53 460.21,830.95 461.38,829.7 461.72,827.36 463.14,827.63 464.59,825.86 465.54,826.97 463.24,824.11 463.37,820.38 465.07,823.46 465.32,820.2 465.85,819.71 469.81,819.11 468.84,815.84 466,814.79 467.9,813.77 467.24,812.61 470.35,812.69 469.57,810.62 469.44,809.03 471.13,809.52 468.97,806 473.31,805.06 470.6,804.59 474.18,804.15 475.45,802.42 471.96,800.67 475.06,798.76 472.64,797.96 474.66,797.01 476.51,795.28 475.1,795.03 473.45,790.25 476.78,793.04 479.7,791 477.51,789.1 480.79,786.98 481.04,787.9 481.18,784.73 480.32,783.96 481.23,782.42 480.59,780.86 481.74,778.56 481.96,777.47 479.58,776.64 483.18,775.49 485.13,773.89 482.96,772.94 486.12,768.45 484.85,770.61 485.69,767.67 487.62,765.5 489.69,763.74 489.2,763.72 485.08,763.77 487.94,761.51 492.09,760.09 491.31,759.99 491.1,756.99 492.79,756.79 490.76,754.33 490.52,753.63 492.88,750.55 495.36,751.89 492.26,750.28 496.16,747.51 493.85,746.71 494.77,745.29 497.62,744.67 497.36,743.14 496.18,740.67 498.88,737.35 498.09,739.69 495.24,736.27 499.09,736.41 499.71,732.9 497.76,732.99 501.33,729.35 500.46,730.64 502.95,727.57 501.02,725.43 502.35,725.78 505.89,722.13 500.6,721.75 503.06,720.31 500.88,717.91 505.25,716.92 505.2,717.47 507.21,713.07 506.13,713.11 509.11,709.67 508.93,709.43 508.94,707.67 509.75,705 507.85,703.3 511.16,700.71 510.6,701.79 511.68,700.26 512.8,697.2 512.67,695.55 511.67,694.78 512.33,692.56 514.85,692.91 515.25,691.77 513.59,688.87 515.77,686.71 512.83,688.1 516.85,685.62 519.66,683.62 516.13,681.18 520.11,680.06 518.52,680.66 519.14,678.27 518.51,676.17 521.64,676.55 518.11,675.88 519.96,674.98 521.26,671.83 522.16,672.02 522.69,670.92 524.03,668.8 526.09,668.9 524.92,661.11 524.26,664.58 525.97,663.69 526.55,662.26 526.28,659.89 524.95,658.62 526.53,657.38 531,655.56 529.21,655.74 527.23,653.5 529.29,654.92 531.08,651.19 529.65,650.16 532.85,652.24 528.81,651.21 532.41,649.86 532.31,647.88 533.69,645.7 534.02,644.14 534.82,643.36 533.01,642.37 535.13,638.78 535.55,641 534.15,637.18 536.7,636.04 535.7,633.58 537.48,632.04 536.25,633.54 538.82,631.76 541.01,631.35 539.68,630.64 541.46,629.1 542.48,627.1 541.16,629.65 540.75,628.09 543.42,626.02 544.78,627.46 543.89,627.15 545.66,623.96 544.44,623.14 545.67,620.71 545.87,619.18 545.28,621.16 545.82,615.91 547.79,618.22 547.73,618.41 548.26,617.83 548.79,609.58 549.31,613.93 549.84,612.01 550.36,611.35 550.89,608.45 551.41,606.68 551.94,608.53 552.47,604.72 552.99,616.39 553.52,594.02 554.04,628.05 554.57,588.19 555.09,640.69 555.62,580.41 556.15,635.83 556.67,585.27 557.2,626.11 557.72,591.11 558.25,608.61 558.77,598.89 559.3,600.63 559.83,604.34 560.35,602.69 559.22,604.94 559,599.86 559.41,604.76 560.02,606.02 563.95,603.77 561.57,595.46 561.9,600.33 561.31,600.47 565.25,596.82 567.87,595.02 566.66,593.2 564.31,593.56 570.99,600.81 565.51,595.84 566.51,591.48 567.99,600.26 569.7,597.71 569.92,595.62 570.49,594.59 570.78,600.94 571.2,593.42 573.02,595.62 570.79,595.42 574.34,597.93 571.26,598.63 570.25,597.4 575.15,598.94 575.52,600.66 574.88,593.73 576.28,599.88 576.71,595.96 578.38,600.95 577.22,597.1 577.95,598.11 578.77,599.84 580.72,592.58 579.69,599.8 580.45,600.5 578.72,597.89 582.08,599.3 580.7,597.01 582.01,598.83 585.12,598.13 582.18,597.63 584.01,600.1 584.53,595.86 585.06,594.78 585.59,593.05 586.11,602.91 586.64,599.15 587.16,602.12 587.69,601.31 588.21,598.77 588.74,601.27 589.27,603.1 589.79,601.49 590.32,617.36 590.84,603.44 591.37,605.33 591.89,601.57 592.42,603.79 592.95,606.12 593.47,604.44 594,607.32 594.52,603.17 595.05,608.09 595.57,608.61 596.1,596.94 596.62,627.08 597.15,590.13 597.68,611.89 598.2,613.12 599.39,610.55 599.01,614.42 599.19,616.65 600.21,616.48 599.21,617.41 600.37,614.74 602.92,616.26 602.29,614.54 603.09,619 603.36,619.53 602.05,618.63 604.22,619.72 605.14,620.34 607.36,621.91 606.78,624.53 607.08,623.74 605.25,623.86 608.9,624.78 605.4,625.36 611.5,628.17 609.69,627.15 609.32,629.45 611.08,631.25 611.95,633.91 608.97,634.93 610.56,633.27 614.49,633.62 612.86,638.14 612.88,637.04 613.68,637.65 614.59,639.98 615.15,639.23 613.8,639.74 616.03,642.83 618.22,641.73 617.55,644.39 617.24,644.84 618.42,646.62 618.13,646.28 619.3,651.71 620.65,649.78 622.05,653.01 619.6,653.42 622.11,654.99 622.14,656.84 623.69,657.68 622.03,659.94 623.43,664.51 623.58,666.46 622.5,665.66 623.84,668.54 624.43,672.05 627.05,671.61 627.72,675.2 626.73,676.38 627.06,680.03 626.56,679.75 629.88,683.21 629.55,684.11 631.95,686.68 630.3,689.38 629.45,691.31 630.2,693.19 633.71,694.49 631.58,697.25 631.27,701.75 629.74,701.81 633.31,706.94 634.64,704.02 633.45,708.53 636.02,710.2 637.09,713.69 637.16,711.73 638.13,716.15 635.61,718.01 640.34,719.99 638.41,721.31 639.66,722.79 640.25,727.82 640.76,727.38 642.69,728.25 642.87,729.13 639.56,732.34 643.92,736.83 642.1,736.15 644.71,742.07 642.7,740.66 644.67,742.72 645.97,743.14 645.85,747.95 646.93,751.01 646.25,753.78 646.54,755.13 649.06,756.64 646.59,759.81 650.17,760.62 648.01,762.75 647.95,766.05 652.28,768.86 653.32,771.47 653.41,774.15 653.49,775.56 651.97,778.85 651.21,780.45 652.39,784.23 653.81,784.1 653.58,786.18 653.14,791.15 655.98,793.41 654.44,795.45 656.3,796.13 660.18,798.5 658.58,802.44 655.88,803.79 657.33,805.59 662.52,807.48 658.97,810.39 660.29,810.89 659.35,810.41 659.78,815.27 662.22,815.8 663.27,818.94 661.96,817.99 662.33,821.35 665.66,822.79 663.67,825.97 665.37,828.11 665.11,829.45 664.97,829.37 665.77,832.72 667.33,832.68 667.92,835.28 667.79,835.3 668.65,838.25 668.22,839.67 667.91,840.49 669.05,843.18 669.58,843.22 671.69,845.69 671.92,847.58 671.36,849.93 671.49,850.19 672.85,852.3 672.1,853.65 675.86,853.46 673.48,858.27 676.24,856.87 673.6,859.26 676.08,859.29 678.36,861.8 679.01,864.18 675.29,866.56 682.47,866.66 678.93,868.63 680.64,868.73 677.73,871.64 680.54,871.09 679.96,870.95 682.54,869.37 681.69,875.46 685.21,875.63 681.83,876.39 683.09,875.27 683.07,876.59 685.17,880.11 687.11,881.46 686.8,882.61 686.64,883.77 686.49,881.1 689.16,884.82 687.17,885.85 689,885.22 689.97,886.86 689.63,887.19 688,887.53 689.89,889.74 690.54,890.47 694.18,890.67 691.19,890.93 691.73,891.14 694.85,892.84 694.85,894.26 693.54,895.17 695.01,895.34 692.25,895.87 695.94,896.38 695.94,897.81 697.63,896.71 698.94,898.05 698.26,898.58 696.76,900.01 699.11,899.02 699.23,899.77 699.51,901.81 700.62,900.52 702.86,900.53 702.23,901.87 702.54,901.21 702.03,901.68 702.88,902.41 703.75,903.31 705.48,902.74 705.52,903.69 705.93,903.98 705.69,904.24 706.82,904.73 707.13,905.05 707.64,905.69 708.41,905.04 707.88,905.47 708.69,906 710.04,905.92 709.89,904.8 711.26,906.7 711.71,907.34 711.79,908.06 713.11,907.14 713.18,907.83 713.34,907.75 713.45,907.53 715.09,908.83 715.17,908.49 715.35,909.42 715.66,908.87 716.7,909.51 716.97,909.07 716.76,909.44 718.25,909.88 719.09,909.38 719.12,909.65 720.23,909.7 720.76,909.77 720.7,910.1 721.12,909.84 721.67,910.87 721.69,911.05 722.49,910.99 722.72,911.11 723.22,910.78 724.5,911.41 725.04,911.39 725.13,911.08 725.77,911.47 726.16,911.81 726.57,911.69 727.47,912.35 728.04,911.86 728.3,912.26 729.28,912.23 729.89,912.57 730.38,912.48 730.74,913.21 731.28,912.93 731.63,913.24 732.21,913.51 732.97,913.31 733.32,913.35 733.88,913.53 733.94,913.54 734.88,913.74 735.2,913.76 735.65,913.93 736.57,914.08 737.05,913.85 737.43,914.04 737.95,914.22 738.58,914.52 738.88,914.42 739.61,914.25 740.18,914.63 740.56,914.7 741.27,914.71 741.75,914.72 742.25,915.04 742.62,914.82 743.29,914.94 743.88,915.23 744.34,915.11 744.88,915.34 745.45,915.08 745.93,915.15 746.42,915.33 746.97,915.43 747.52,915.67 748.03,915.73 748.56,915.65 749.09,915.57 749.61,915.77 750.12,915.8 750.66,915.95 751.18,915.87 751.71,916.06 752.23,915.86 752.76,916.23 753.28,916.25 753.81,916.15 754.33,916.19 754.86,916.24 755.39,916.23 755.91,916.35 756.44,916.32 756.96,916.47 757.49,916.49 758.01,916.38 758.54,916.58 759.07,916.62 759.59,916.69 760.12,916.68 760.64,916.85 761.17,916.73 761.69,916.86 762.22,916.87 762.75,916.94 763.27,916.83 763.8,916.91 764.32,916.94 764.85,916.86 765.37,916.98 765.9,917.08 766.43,917.06 766.95,917.04 767.48,917.22 768,917.2 768.53,917.25 769.05,917.32 769.58,917.34 770.11,917.31 770.63,917.31 771.16,917.32 771.68,917.34 772.21,917.39 772.73,917.38 773.26,917.35 773.79,917.42 774.31,917.5 774.84,917.51 775.36,917.45 775.89,917.5 776.41,917.44 776.94,917.53 777.47,917.52 777.99,917.59 778.52,917.62 779.04,917.58 779.57,917.56 780.09,917.56 780.62,917.57 781.15,917.56 781.67,917.6 782.2,917.55 782.72,917.58 783.25,917.62 783.77,917.65 784.3,917.62 784.83,917.65 785.35,917.6 785.88,917.64 786.4,917.65 786.93,917.67 787.45,917.7 787.98,917.7 788.51,917.69 789.03,917.71 789.56,917.72 790.08,917.74 790.61,917.74 791.13,917.75 791.66,917.72 792.19,917.73 792.71,917.74 793.24,917.73 793.76,917.77 794.29,917.75 794.81,917.77 795.34,917.76 795.87,917.77 796.39,917.77 796.92,917.78 797.44,917.76 797.97,917.8 798.49,917.78 799.02,917.8 799.55,917.79 800.07,917.79 800.6,917.8 801.12,917.8 801.65,917.8 802.17,917.8 802.7,917.8 803.23,917.8 803.75,917.8 804.28,917.8 804.8,917.8 805.33,917.8 805.85,917.8 806.38,917.8 806.9,917.8 807.43,917.8 807.96,917.8 808.48,917.8 809.01,917.8 809.53,917.8 810.06,917.8 810.58,917.8 811.11,917.8 811.64,917.8 812.16,917.8 812.69,917.8 813.21,917.8 813.74,917.8 814.26,917.8 814.79,917.8 815.32,917.8 815.84,917.8 816.37,917.8 816.89,917.8 817.42,917.8 817.94,917.8 818.47,917.8 819,917.8 819.52,917.8 820.05,917.8 820.57,917.8 821.1,917.8 821.62,917.8 822.15,917.8 822.68,917.8 823.2,917.8 823.73,917.8 824.25,917.8 824.78,917.8 825.3,917.8 825.83,917.8 826.36,917.8 826.88,917.8 827.41,917.8 827.93,917.8 828.46,917.8 828.98,917.8 829.51,917.8 830.04,917.8 830.56,917.8 831.09,917.8 831.61,917.8 832.14,917.8 832.66,917.8 833.19,917.8 833.72,917.8 834.24,917.8 834.77,917.8 835.29,917.8 835.82,917.8 836.34,917.8 836.87,917.8 837.4,917.8 837.92,917.8 838.45,917.8 838.97,917.8 839.5,917.8 840.02,917.8 840.55,917.8 841.08,917.8 841.6,917.8 842.13,917.8 842.65,917.8 843.18,917.8 843.7,917.8 844.23,917.8 844.76,917.8 845.28,917.8 845.81,917.8 846.33,917.8 846.86,917.8 847.38,917.8 847.91,917.8 848.44,917.8 848.96,917.8 849.49,917.8 850.01,917.8 850.54,917.8 851.06,917.8 851.59,917.8 852.12,917.8 852.64,917.8 853.17,917.8 853.69,917.8 854.22,917.8 854.74,917.8 855.27,917.8 855.8,917.8 856.32,917.8 856.85,917.8 857.37,917.8 857.9,917.8 858.42,917.8 858.95,917.8 859.47,917.8 860,917.8 860.53,917.8 861.05,917.8 861.58,917.8 862.1,917.8 862.63,917.8 863.15,917.8 863.68,917.8 864.21,917.8 864.73,917.8 865.26,917.8 865.78,917.8 866.31,917.8 866.83,917.8 867.36,917.8 867.89,917.8 868.41,917.8 868.94,917.8 869.46,917.8 869.99,917.8 870.51,917.8 871.04,917.8 871.57,917.8 872.09,917.8 872.62,917.8 873.14,917.8 873.67,917.8 874.19,917.8 874.72,917.8 875.25,917.8 875.77,917.8 876.3,917.8 876.82,917.8 877.35,917.8 877.87,917.8 878.4,917.8 878.93,917.8 879.45,917.8 879.98,917.8 880.5,917.8 881.03,917.8 881.55,917.8 882.08,917.8 882.61,917.8 883.13,917.8 883.66,917.8 884.18,917.8 884.71,917.8 885.23,917.8 885.76,917.8 886.29,917.8 886.81,917.8 887.34,917.8 887.86,917.8 888.39,917.8 888.91,917.8 889.44,917.8 889.97,917.8 890.49,917.8 891.02,917.8 891.54,917.8 892.07,917.8 892.59,917.8 893.12,917.8 893.65,917.8 894.17,917.8 894.7,917.8 895.22,917.8 895.75,917.8 896.27,917.8 896.8,917.8 897.33,917.8 897.85,917.8 898.38,917.8 898.9,917.8 899.43,917.8 899.95,917.8 900.48,917.8 901.01,917.8 901.53,917.8 902.06,917.8 902.58,917.8 903.11,917.8 903.63,917.8 904.16,917.8 904.69,917.8 905.21,917.8 905.74,917.8 906.26,917.8 906.79,917.8 907.31,917.8 907.84,917.8 908.37,917.8 908.89,917.8 909.42,917.8 909.94,917.8 910.47,917.8 910.99,917.8 911.52,917.8 912.04,917.8 912.57,917.8 913.1,917.8 913.62,917.8 914.15,917.8 914.67,917.8 915.2,917.8 915.72,917.8 916.25,917.8 916.78,917.8 917.3,917.8 917.83,917.8 918.35,917.8 918.88,917.8 919.4,917.8 919.93,917.8 920.46,917.8 920.98,917.8 921.51,917.8 922.03,917.8 922.56,917.8 923.08,917.8 923.61,917.8 924.14,917.8 924.66,917.8 925.19,917.8 925.71,917.8 926.24,917.8 926.76,917.8 927.29,917.8 927.82,917.8 928.34,917.8 928.87,917.8 929.39,917.8 929.92,917.8 930.44,917.8 930.97,917.8 931.5,917.8 932.02,917.8 932.55,917.8 933.07,917.8 933.6,917.8 934.12,924.61 934.65,914.88 935.18,924.61 935.7,917.8 936.23,917.8 936.75,917.8 937.28,917.8 937.8,917.8 938.33,917.8 938.86,917.8 939.38,917.8 939.91,917.8 940.43,917.8 940.96,917.8 941.48,917.8 942.01,917.8 942.54,917.8 943.06,917.8 943.59,917.8 944.11,917.8 944.64,917.8 945.16,917.8 945.69,917.8 946.22,917.8 946.74,917.8 947.27,917.8 947.79,917.8 948.32,917.8 948.84,917.8 949.37,917.8 949.9,917.8 950.42,917.8 950.95,917.8 951.47,917.8 952,917.8 952.52,917.8 953.05,917.8 953.58,917.8 954.1,917.8 954.63,917.8 955.15,917.8 955.68,917.8 956.2,917.8 956.73,917.8 957.26,917.8 957.78,917.8 958.31,917.8 958.83,917.8 959.36,917.8 959.88,917.8 960.41,917.8 960.94,917.8 961.46,917.8 961.99,917.8 962.51,917.8 963.04,917.8 963.56,917.8 964.09,917.8 964.61,917.8 965.14,917.8 965.67,917.8 966.19,917.8 966.72,917.8 967.24,917.8 967.77,917.8 968.29,917.8 968.82,917.8 969.35,917.8 969.87,917.8 970.4,917.8 970.92,917.8 971.45,917.8 971.97,917.8 972.5,917.8 973.03,917.8 973.55,917.8 974.08,917.8 974.6,917.8 975.13,917.8 975.65,917.8 976.18,917.8 976.71,917.8 977.23,917.8 977.76,917.8 978.28,917.8 978.81,917.8 979.33,917.8 979.86,917.8 980.39,917.8 980.91,917.8 981.44,917.8 981.96,917.8 982.49,917.8 983.01,917.8 983.54,917.8 984.07,917.8 984.59,917.8 985.12,917.8 985.64,917.8 986.17,917.8 986.69,917.8 987.22,917.8 987.75,917.8 988.27,917.8 988.8,917.8 989.32,917.8 989.85,917.8 990.37,917.8 990.9,917.8 991.43,917.8 991.95,917.8 992.48,917.8 993,917.8 993.53,917.8 994.05,917.8 994.58,917.8 995.11,917.8 995.63,917.8 996.16,917.8 996.68,917.8 997.21,917.8 997.73,917.8 998.26,917.8 998.79,917.8 999.31,917.8 999.84,917.8 1000.36,917.8 1000.89,917.8 1001.41,917.8 1001.94,917.8 1002.47,917.8 1002.99,917.8 1003.52,917.8 1004.04,917.8 1004.57,917.8 1005.09,917.8 1005.62,917.8 1006.15,917.8 1006.67,917.8 1007.2,917.8 1007.72,917.8 1008.25,917.8 1008.77,917.8 1009.3,917.8 1009.83,917.8 1010.35,917.8 1010.88,917.8 1011.4,917.8 1011.93,917.8 1012.45,917.8 1012.98,917.8 1013.51,917.8 1014.03,917.8 1014.56,917.8 1015.08,917.8 1015.61,917.8 1016.13,917.8 1016.66,917.8 1017.18,917.8 1017.71,917.8 1018.24,917.8 1018.76,917.8 1019.29,917.8 1019.81,917.8 1020.34,917.8 1020.86,917.8 1021.39,917.8 1021.92,917.8 1022.44,917.8 1022.97,917.8 1023.49,917.8 1024.02,917.8 1024.54,917.8 1025.07,917.8 1025.6,917.8 1026.12,917.8 1026.65,917.8 1027.17,917.8 1027.7,917.8 1028.22,917.8 1028.75,917.8 1029.28,917.8 1029.8,917.8 1030.33,917.8 1030.85,917.8 1031.38,917.8 1031.9,917.8 1032.43,917.8 1032.96,917.8 1033.48,917.8 1034.01,917.8 1034.53,917.8 1035.06,917.8 1035.58,917.8 1036.11,917.8 1036.64,917.8 1037.16,917.8 1037.69,917.8 1038.21,917.8 1038.74,917.8 1039.26,917.8 1039.79,917.8 1040.32,917.8 1040.84,917.8 1041.37,917.8 1041.89,917.8 1042.42,917.8 1042.94,917.8 1043.47,917.8 1044,917.8 1044.52,917.8 1045.05,917.8 1045.57,917.8 1046.1,917.8 1046.62,917.8 1047.15,917.8 1047.68,917.8 1048.2,917.8 1048.73,917.8 1049.25,917.8 1049.78,917.8 1050.3,917.8 1050.83,917.8 1051.36,917.8 1051.88,917.8 1052.41,917.8 1052.93,917.8 1053.46,917.8 1053.98,917.8 1054.51,917.8 1055.04,917.8 1055.56,917.8 1056.09,917.8 1056.61,917.8 1057.14,917.8 1057.66,917.8 1058.19,917.8 1058.72,917.8 1059.24,917.8 1059.77,917.8 1060.29,917.8 1060.82,917.8 1061.34,917.8 1061.87,917.8 1062.4,917.8 1062.92,917.8 1063.45,917.8 1063.97,917.8 1064.5,917.8 1065.02,917.8 1065.55,917.8 1066.08,917.8 1066.6,917.8 1067.13,917.8 1067.65,917.8 1068.18,917.8 1068.7,917.8 1069.23,917.79 1069.75,917.79 1070.28,917.8 1070.81,917.78 1071.33,917.8 1071.86,917.76 1072.38,917.78 1072.91,917.77 1073.43,917.77 1073.96,917.76 1074.49,917.77 1075.01,917.75 1075.54,917.77 1076.06,917.73 1076.59,917.74 1077.11,917.73 1077.64,917.72 1078.17,917.75 1078.69,917.74 1079.22,917.74 1079.74,917.72 1080.27,917.71 1080.79,917.69 1081.32,917.7 1081.85,917.7 1082.37,917.67 1082.9,917.65 1083.42,917.64 1083.95,917.6 1084.47,917.65 1085,917.62 1085.53,917.65 1086.05,917.62 1086.58,917.58 1087.1,917.55 1087.63,917.6 1088.15,917.56 1088.68,917.57 1089.21,917.56 1089.73,917.56 1090.26,917.58 1090.78,917.62 1091.31,917.59 1091.83,917.52 1092.36,917.53 1092.89,917.44 1093.41,917.5 1093.94,917.45 1094.46,917.51 1094.99,917.5 1095.51,917.42 1096.04,917.35 1096.57,917.38 1097.09,917.39 1097.62,917.34 1098.14,917.32 1098.67,917.31 1099.19,917.31 1099.72,917.34 1100.25,917.32 1100.77,917.25 1101.3,917.2 1101.82,917.22 1102.35,917.04 1102.87,917.06 1103.4,917.08 1103.93,916.98 1104.45,916.86 1104.98,916.94 1105.5,916.91 1106.03,916.83 1106.55,916.94 1107.08,916.87 1107.61,916.86 1108.13,916.73 1108.66,916.85 1109.18,916.68 1109.71,916.69 1110.23,916.62 1110.76,916.58 1111.29,916.38 1111.81,916.49 1112.34,916.47 1112.86,916.32 1113.39,916.35 1113.91,916.23 1114.44,916.24 1114.97,916.19 1115.49,916.15 1116.02,916.25 1116.54,916.23 1117.07,915.86 1117.59,916.06 1118.12,915.87 1118.65,915.95 1119.18,915.8 1119.69,915.77 1120.21,915.57 1120.74,915.65 1121.27,915.73 1121.78,915.67 1122.33,915.43 1122.88,915.33 1123.37,915.15 1123.85,915.08 1124.42,915.34 1124.96,915.11 1125.42,915.23 1126.01,914.94 1126.68,914.82 1127.05,915.04 1127.55,914.72 1128.03,914.71 1128.74,914.7 1129.12,914.63 1129.69,914.25 1130.42,914.42 1130.72,914.52 1131.35,914.22 1131.87,914.04 1132.25,913.85 1132.73,914.08 1133.65,913.93 1134.1,913.76 1134.42,913.74 1135.36,913.54 1135.42,913.53 1135.98,913.35 1136.33,913.31 1137.09,913.51 1137.67,913.24 1138.02,912.93 1138.56,913.21 1138.92,912.48 1139.41,912.57 1140.02,912.23 1141,912.26 1141.26,911.86 1141.83,912.35 1142.73,911.69 1143.14,911.81 1143.53,911.47 1144.17,911.08 1144.26,911.39 1144.8,911.41 1146.08,910.78 1146.58,911.11 1146.81,910.99 1147.61,911.05 1147.63,910.87 1148.18,909.84 1148.6,910.1 1148.54,909.77 1149.07,909.7 1150.18,909.65 1150.21,909.38 1151.05,909.88 1152.54,909.44 1152.33,909.07 1152.6,909.51 1153.64,908.87 1153.95,909.42 1154.13,908.49 1154.21,908.83 1155.85,907.53 1155.96,907.75 1156.12,907.83 1156.19,907.14 1157.51,908.06 1157.59,907.34 1158.04,906.7 1159.41,904.8 1159.26,905.92 1160.61,906 1161.42,905.47 1160.89,905.04 1161.66,905.69 1162.17,905.05 1162.48,904.73 1163.61,904.24 1163.37,903.98 1163.78,903.69 1163.82,902.74 1165.55,903.31 1166.42,902.41 1167.27,901.68 1166.76,901.21 1167.07,901.87 1166.44,900.53 1168.68,900.52 1169.79,901.81 1170.07,899.77 1170.19,899.02 1172.54,900.01 1171.04,898.58 1170.36,898.05 1171.67,896.71 1173.36,897.81 1173.36,896.38 1177.05,895.87 1174.29,895.34 1175.76,895.17 1174.45,894.26 1174.45,892.84 1177.57,891.14 1178.11,890.93 1175.12,890.67 1178.76,890.47 1179.41,889.74 1181.3,887.53 1179.67,887.19 1179.33,886.86 1180.3,885.22 1182.13,885.85 1180.14,884.82 1182.81,881.1 1182.66,883.77 1182.5,882.61 1182.19,881.46 1184.13,880.11 1186.23,876.59 1186.21,875.27 1187.47,876.39 1184.09,875.63 1187.61,875.46 1186.76,869.37 1189.34,870.95 1188.76,871.09 1191.57,871.64 1188.66,868.73 1190.37,868.63 1186.83,866.66 1194.01,866.56 1190.29,864.18 1190.94,861.8 1193.22,859.29 1195.7,859.26 1193.06,856.87 1195.82,858.27 1193.44,853.46 1197.2,853.65 1196.45,852.3 1197.81,850.19 1197.94,849.93 1197.38,847.58 1197.61,845.69 1199.72,843.22 1200.25,843.18 1201.39,840.49 1201.08,839.67 1200.65,838.25 1201.51,835.3 1201.38,835.28 1201.97,832.68 1203.53,832.72 1204.33,829.37 1204.19,829.45 1203.93,828.11 1205.63,825.97 1203.64,822.79 1206.97,821.35 1207.34,817.99 1206.03,818.94 1207.08,815.8 1209.52,815.27 1209.95,810.41 1209.01,810.89 1210.33,810.39 1206.78,807.48 1211.97,805.59 1213.42,803.79 1210.72,802.44 1209.12,798.5 1213,796.13 1214.86,795.45 1213.32,793.41 1216.16,791.15 1215.72,786.18 1215.49,784.1 1216.91,784.23 1218.09,780.45 1217.33,778.85 1215.81,775.56 1215.89,774.15 1215.98,771.47 1217.02,768.86 1221.35,766.05 1221.29,762.75 1219.13,760.62 1222.71,759.81 1220.24,756.64 1222.76,755.13 1223.05,753.78 1222.37,751.01 1223.45,747.95 1223.33,743.14 1224.63,742.72 1226.6,740.66 1224.59,742.07 1227.2,736.15 1225.38,736.83 1229.74,732.34 1226.43,729.13 1226.61,728.25 1228.54,727.38 1229.05,727.82 1229.64,722.79 1230.89,721.31 1228.96,719.99 1233.69,718.01 1231.17,716.15 1232.14,711.73 1232.21,713.69 1233.28,710.2 1235.85,708.53 1234.66,704.02 1235.99,706.94 1239.56,701.81 1238.03,701.75 1237.72,697.25 1235.59,694.49 1239.1,693.19 1239.85,691.31 1239,689.38 1237.35,686.68 1239.75,684.11 1239.42,683.21 1242.74,679.75 1242.24,680.03 1242.57,676.38 1241.58,675.2 1242.25,671.61 1244.87,672.05 1245.46,668.54 1246.8,665.66 1245.72,666.46 1245.87,664.51 1247.27,659.94 1245.61,657.68 1247.16,656.84 1247.19,654.99 1249.7,653.42 1247.25,653.01 1248.65,649.78 1250,651.71 1251.17,646.28 1250.88,646.62 1252.06,644.84 1251.75,644.39 1251.08,641.73 1253.27,642.83 1255.5,639.74 1254.15,639.23 1254.71,639.98 1255.62,637.65 1256.42,637.04 1256.44,638.14 1254.81,633.62 1258.74,633.27 1260.33,634.93 1257.35,633.91 1258.22,631.25 1259.98,629.45 1259.61,627.15 1257.8,628.17 1263.9,625.36 1260.4,624.78 1264.05,623.86 1262.22,623.74 1262.52,624.53 1261.94,621.91 1264.16,620.34 1265.08,619.72 1267.25,618.63 1265.94,619.53 1266.21,619 1267.01,614.54 1266.38,616.26 1268.93,614.74 1270.09,617.41 1269.09,616.48 1270.11,616.65 1270.29,614.42 1269.91,610.55 1271.1,613.12 1271.62,611.89 1272.15,590.13 1272.68,627.08 1273.2,596.94 1273.73,608.61 1274.25,608.09 1274.78,603.17 1275.3,607.32 1275.83,604.44 1276.36,606.12 1276.88,603.79 1277.41,601.57 1277.93,605.33 1278.46,603.44 1278.98,617.36 1279.51,601.49 1280.03,603.1 1280.56,601.27 1281.09,598.77 1281.61,601.31 1282.14,602.12 1282.66,599.15 1283.19,602.91 1283.71,593.05 1284.24,594.78 1284.77,595.86 1285.29,600.1 1287.12,597.63 1284.18,598.13 1287.29,598.83 1288.6,597.01 1287.22,599.3 1290.58,597.89 1288.85,600.5 1289.61,599.8 1288.58,592.58 1290.53,599.84 1291.35,598.11 1292.08,597.1 1290.92,600.95 1292.59,595.96 1293.02,599.88 1294.42,593.73 1293.78,600.66 1294.15,598.94 1299.05,597.4 1298.04,598.63 1294.96,597.93 1298.51,595.42 1296.28,595.62 1298.1,593.42 1298.52,600.94 1298.81,594.59 1299.38,595.62 1299.6,597.71 1301.31,600.26 1302.79,591.48 1303.79,595.84 1298.31,600.81 1304.99,593.56 1302.64,593.2 1301.43,595.02 1304.05,596.82 1307.99,600.47 1307.4,600.33 1307.73,595.46 1305.35,603.77 1309.28,606.02 1309.89,604.76 1310.3,599.86 1310.08,604.94 1308.95,602.69 1309.47,604.34 1310,600.63 1310.53,598.89 1311.05,608.61 1311.58,591.11 1312.1,626.11 1312.63,585.27 1313.15,635.83 1313.68,580.41 1314.21,640.69 1314.73,588.19 1315.26,628.05 1315.78,594.02 1316.31,616.39 1316.83,604.72 1317.36,608.53 1317.89,606.68 1318.41,608.45 1318.94,611.35 1319.46,612.01 1319.99,613.93 1320.51,609.58 1321.04,617.83 1321.57,618.41 1321.51,618.22 1323.48,615.91 1324.02,621.16 1323.43,619.18 1323.63,620.71 1324.86,623.14 1323.64,623.96 1325.41,627.15 1324.52,627.46 1325.88,626.02 1328.55,628.09 1328.14,629.65 1326.82,627.1 1327.84,629.1 1329.62,630.64 1328.29,631.35 1330.48,631.76 1333.05,633.54 1331.82,632.04 1333.6,633.58 1332.6,636.04 1335.15,637.18 1333.75,641 1334.17,638.78 1336.29,642.37 1334.48,643.36 1335.28,644.14 1335.61,645.7 1336.99,647.88 1336.89,649.86 1340.49,651.21 1336.45,652.24 1339.65,650.16 1338.22,651.19 1340.01,654.92 1342.07,653.5 1340.09,655.74 1338.3,655.56 1342.77,657.38 1344.35,658.62 1343.02,659.89 1342.75,662.26 1343.33,663.69 1345.04,664.58 1344.38,661.11 1343.21,668.9 1345.27,668.8 1346.61,670.92 1347.14,672.02 1348.04,671.83 1349.34,674.98 1351.19,675.88 1347.66,676.55 1350.79,676.17 1350.16,678.27 1350.78,680.66 1349.19,680.06 1353.17,681.18 1349.64,683.62 1352.45,685.62 1356.47,688.1 1353.53,686.71 1355.71,688.87 1354.05,691.77 1354.45,692.91 1356.97,692.56 1357.63,694.78 1356.63,695.55 1356.5,697.2 1357.62,700.26 1358.7,701.79 1358.14,700.71 1361.45,703.3 1359.55,705 1360.36,707.67 1360.37,709.43 1360.19,709.67 1363.17,713.11 1362.09,713.07 1364.1,717.47 1364.05,716.92 1368.42,717.91 1366.24,720.31 1368.7,721.75 1363.41,722.13 1366.95,725.78 1368.28,725.43 1366.35,727.57 1368.84,730.64 1367.97,729.35 1371.54,732.99 1369.59,732.9 1370.21,736.41 1374.06,736.27 1371.21,739.69 1370.42,737.35 1373.12,740.67 1371.94,743.14 1371.68,744.67 1374.53,745.29 1375.45,746.71 1373.14,747.51 1377.04,750.28 1373.94,751.89 1376.42,750.55 1378.78,753.63 1378.54,754.33 1376.51,756.79 1378.2,756.99 1377.99,759.99 1377.21,760.09 1381.36,761.51 1384.22,763.77 1380.1,763.72 1379.61,763.74 1381.68,765.5 1383.61,767.67 1384.45,770.61 1383.18,768.45 1386.34,772.94 1384.17,773.89 1386.12,775.49 1389.72,776.64 1387.34,777.47 1387.56,778.56 1388.71,780.86 1388.07,782.42 1388.98,783.96 1388.12,784.73 1388.26,787.9 1388.51,786.98 1391.79,789.1 1389.6,791 1392.52,793.04 1395.85,790.25 1394.2,795.03 1392.79,795.28 1394.64,797.01 1396.66,797.96 1394.24,798.76 1397.34,800.67 1393.85,802.42 1395.12,804.15 1398.7,804.59 1395.99,805.06 1400.33,806 1398.17,809.52 1399.86,809.03 1399.73,810.62 1398.95,812.69 1402.06,812.61 1401.4,813.77 1403.3,814.79 1400.46,815.84 1399.49,819.11 1403.45,819.71 1403.98,820.2 1404.23,823.46 1405.93,820.38 1406.06,824.11 1403.76,826.97 1404.71,825.86 1406.16,827.63 1407.58,827.36 1407.92,829.7 1409.09,830.95 1405.93,833.53 1411,833.11 1410.06,829.42 1411.13,832.91 1413.35,836.8 1412.64,836.08 1411.6,838.02 1412.38,837.55 1415.31,838.83 1414.22,843.07 1415.59,841.99 1415.05,843.9 1418.24,844.18 1420.09,845.25 1416.29,846.9 1417.14,846.73 1417.3,847.79 1417.11,847.81 1422.05,849.36 1421.83,848.95 1417.9,848.97 1419.2,847.76 1422.33,851.14 1421.71,850.86 1423.7,852.2 1421.74,851.97 1425.31,854.31 1421.53,852.93 1424.71,856.84 1423.98,856.81 1425.21,855.75 1426.73,858.53 1425.69,860.18 1426.26,858.22 1426.54,860.51 1430.26,861 1426.22,862.21 1428.46,862.37 1430.62,863.45 1428.22,864.42 1428.36,863.86 1431.41,864.5 1428.84,864.95 1428.67,866.62 1432.62,865.59 1432.52,867.02 1434.69,868.18 1432.86,869.15 1435.74,869.79 1434.37,870.24 1434.12,869.42 1437.76,871.53 1438.44,871.73 1435.9,871.78 1437.16,871.36 1438.31,872.49 1439.48,872.84 1439.16,874.69 1439.22,873.68 1442.49,872.31 1441.36,873.03 1439.46,877.54 1440.49,876.85 1441.59,877.01 1444.4,872.32 1445.05,875.61 1442.74,878.39 1446.42,878.94 1445.96,879.49 1446.95,880.06 1447.05,880.34 1445.51,881.57 1445.82,881.37 1449.67,881.87 1447.25,880.12 1449.62,882.3 1450.67,884.38 1449.62,883.54 1451.86,884.51 1452.35,883.69 1454.29,881.23 1452.42,885.63 1452.56,885.12 1453.25,883.37 1452.06,885.63 1454.65,886.18 1453.61,887.24 1455.24,888.28 1456.51,887.6 1456.46,887.19 1455.01,887.02 1458.68,888.09 1458.17,889.7 1457.23,888.48 1458.82,891.22 1461.62,890.6 1459.66,892.27 1460.21,889.75 1461.91,891.13 1462.72,890.14 1461.84,890.52 1460.71,891.57 1462.5,890.91 1462.08,891.61 1466.23,892.7 1465.45,893.71 1464.84,892.8 1462.68,894.48 1465.33,894.71 1468.41,894.01 1467.89,893.96 1467.34,894.38 1463.85,893.22 1468.6,894.84 1468.46,894.54 1471.29,895.41 1470.06,895.8 1471.44,896.74 1472.96,897.72 1471.05,896.69 1470.81,897.33 1471.9,896.33 1474.16,897.84 1476.6,898.24 1475.59,898.14 1474.27,898.98 1478.32,898.87 1475.7,898.76 1477.3,898.12 1476.98,899.32 1479.06,898.3 1477.36,898.04 1478.88,897.67 1480.41,899.5 1479.73,899.78 1480.56,899.33 1481.23,899.56 1479.72,899.91 1482.28,899.67 1481.28,900.91 1482.46,900.3 1482.93,900.8 1483.62,900.31 1485.35,901.14 1484.46,901.23 1486.4,899.4 1486.05,900.94 1486.16,901.84 1486.64,901.2 1487.8,901.83 1488.45,902.31 1487.96,902.8 1489.47,902.36 1489.49,902.83 1490.3,901.64 1490.69,900.17 1491.19,901.24 1490.98,902.61 1494.08,902.42 1493.79,903.9 1492.95,902.96 1493.53,902.1 1494.13,902.54 1496.26,903.45 1494.6,903.76 1496.93,903.27 1496.24,904.06 1496.79,903.13 1496.66,904.4 1498.74,904.45 1499.86,903.1 1499.77,904.4 1499.33,905.21 1498.74,903.99 1500.58,905.16 1501.72,904.86 1500.88,905.27 1502.59,905.81 1502.29,905.68 1502.53,906.08 1503,905.21 1505.48,905.67 1504.8,905.86 1504.49,906.13 1505.65,905.46 1505.1,906.62 1506.05,906.52 1506.49,905.12 1508.42,905.5 1509.44,906.54 1508.74,906.82 1510.54,906.88 1509.7,907.24 1511.64,907.23 1511.77,906.84 1512.12,907.08 1512.16,907.31 1511.22,907.11 1513.42,907.88 1513.61,907.08 1514.55,907.04 1515.38,906.63 1515.7,907.65 1515.87,908.11 1516.91,908.36 1517.07,908.49 1517.19,908.45 1518.49,908.43 1518.41,908.22 1518.82,909.08 1520.25,908.89 1520.1,908.89 1520.82,909.29 1520.67,908.81 1522,909.19 1523.39,909.06 1523.07,909.48 1523.61,909.36 1523.52,909.6 1524.8,909.96 1524.26,910.05 1524.99,909.84 1526.04,909.77 1527.38,910.01 1527.4,910.56 1527.37,909.87 1527.39,910 1528.84,910.06 1528.35,909.43 1528.89,910.12 1530.15,910.12 1530.68,910.19 1530.64,910.39 1531.44,910.17 1532.37,910.93 1532.66,910.98 1533.45,910.74 1534.16,910.21 1534.96,910.6 1535.58,910.17 1535.77,910.54 1536.03,910.88 1536.47,911.24 1537.89,911.21 1537.57,911.32 1538.06,911.3 1538.37,911.4 1539.7,911.48 1539.87,911.59 1539.97,911.52 1540.12,911.51 1541.02,911.39 1541.71,911.7 1542.32,912.35 1542.55,912.15 1543.25,911.26 1544.05,911.61 1544.81,911.92 1545.17,912.22 1545.62,912 1546.63,911.37 1546.54,911.86 1547.29,912.53 1547.23,912.12 1547.84,911.77 1548.54,912.26 1548.99,912.53 1549.34,912.61 1550.06,912.99 1550.7,912.75 1550.99,912.8 1552.01,912.74 1552.28,912.58 1553.02,913.04 1553.35,913.06 1553.81,913.16 1554.41,913.31 1554.95,913.08 1555.37,912.94 1556.1,913.28 1556.49,913.33 1557.38,913.62 1557.83,913.69 1558.03,913.84 1558.82,913.74 1559.22,913.85 1559.69,913.77 1560.41,914.18 1560.58,914.08 1561.25,913.89 1561.82,913.93 1562.44,914.15 1562.75,913.99 1563.39,914.05 1563.94,914.08 1564.36,914.21 1565.06,914.28 1565.6,914.2 1565.95,914.33 1566.66,914.38 1567.01,914.37 1567.61,914.32 1568.16,914.54 1568.64,914.5 1569.26,914.71 1569.59,914.39 1570.22,914.68 1570.68,914.62 1571.42,914.93 1571.93,914.83 1572.31,914.89 1572.88,914.73 1573.43,914.96 1573.88,915.03 1574.28,914.87 1574.91,915 1575.46,915.19 1575.95,915.1 1576.51,915.11 1577.04,915.05 1577.56,915.18 1578.14,915.19 1578.66,915.34 1579.1,915.04 1579.64,915.31 1580.24,915.33 1580.75,915.42 1581.29,915.42 1581.77,915.57 1582.33,915.48 1582.86,915.5 1583.37,915.68 1583.89,915.51 1584.42,915.71 1584.92,915.71 1585.47,915.75 1586,915.63 1586.52,915.8 1587.05,915.8 1587.57,915.76 1588.09,915.79 1588.61,915.71 1589.15,915.86 1589.67,915.91 1590.2,915.96 1590.72,916 1591.25,915.92 1591.77,915.97 1592.3,916.08 1592.83,916.08 1593.35,916.27 1593.88,916.03 1594.4,916.07 1594.93,916.27 1595.45,916.15 1595.98,916.11 1596.51,915.98 1597.03,916.08 1597.56,916.01 1598.08,916 1598.61,916.08 1599.13,916.22 1599.66,916.26 1600.19,916.19 1600.71,916.12 1601.24,916.16 1601.76,916.31 1602.29,916.18 1602.81,916.33 1603.34,916.33 1603.87,916.27 1604.39,916.36 1604.92,916.44 1605.44,916.48 1605.97,916.45 1606.49,916.46 1607.02,916.51 1607.55,916.58 1608.07,916.52 1608.6,916.51 1609.12,916.66 1609.65,916.55 1610.17,916.64 1610.7,916.62 1611.23,916.54 1611.75,916.69 1612.28,916.62 1612.8,916.51 1613.33,916.53 1613.85,916.67 1614.38,916.72 1614.91,916.59 1615.43,916.67 1615.96,916.68 1616.48,916.81 1617.01,916.72 1617.53,916.84 1618.06,916.78 1618.59,916.67 1619.11,916.72 1619.64,916.71 1620.16,916.81 1620.69,916.81 1621.21,916.86 1621.74,916.74 1622.27,916.9 1622.79,916.97 1623.32,916.92 1623.84,916.85 1624.37,916.95 1624.89,916.93 1625.42,917.03 1625.95,917.01 1626.47,917.06 1627,917.08 1627.52,917.05 1628.05,917.03 1628.57,916.97 1629.1,917.06 1629.63,917.16 1630.15,917.17 1630.68,917.2 1631.2,917.13 1631.73,917.17 1632.25,917.13 1632.78,917.18 1633.31,917.05 1633.83,917.16 1634.36,917.12 1634.88,917.19 1635.41,917.08 1635.93,917.27 1636.46,917.18 1636.99,917.14 1637.51,917.2 1638.04,917.15 1638.56,917.19 1639.09,917.14 1639.61,917.2 1640.14,917.13 1640.67,917.29 1641.19,917.2 1641.72,917.27 1642.24,917.28 1642.77,917.24 1643.29,917.3 1643.82,917.31 1644.35,917.27 1644.87,917.35 1645.4,917.33 1645.92,917.29 1646.45,917.37 1646.97,917.3 1647.5,917.4 1648.02,917.35 1648.55,917.37 1649.08,917.42 1649.6,917.34 1650.13,917.43 1650.65,917.33 1651.18,917.34 1651.7,917.44 1652.23,917.43 1652.76,917.46 1653.28,917.52 1653.81,917.51 1654.33,917.49 1654.86,917.49 1655.38,917.44 1655.91,917.5 1656.44,917.5 1656.96,917.46 1657.49,917.46 1658.01,917.49 1658.54,917.48 1659.06,917.51 1659.59,917.5 1660.12,917.57 1660.64,917.56 1661.17,917.47 1661.69,917.52 1662.22,917.54 1662.74,917.49 1663.27,917.45 1663.8,917.49 1664.32,917.52 1664.85,917.54 1665.37,917.49 1665.9,917.49 1666.42,917.54 1666.95,917.56 1667.48,917.55 1668,917.54 1668.53,917.56 1669.05,917.58 1669.58,917.58 1670.1,917.61 1670.63,917.58 1671.16,917.57 1671.68,917.62 1672.21,917.61 1672.73,917.56 1673.26,917.61 1673.78,917.59 1674.31,917.63 1674.84,917.65 1675.36,917.6 1675.89,917.59 1676.41,917.61 1676.94,917.62 1677.46,917.59 1677.99,917.64 1678.52,917.66 1679.04,917.65 1679.57,917.64 1680.09,917.66 1680.62,917.64 1681.14,917.63 1681.67,917.69 1682.2,917.67 1682.72,917.67 1683.25,917.65 1683.77,917.7 1684.3,917.64 1684.82,917.69 1685.35,917.65 1685.88,917.67 1686.4,917.67 1686.93,917.65 1687.45,917.7 1687.98,917.67 1688.5,917.69 1689.03,917.72 1689.56,917.68 1690.08,917.73 1690.61,917.7 1691.13,917.72 1691.66,917.72 1692.18,917.69 1692.71,917.7 1693.24,917.71 1693.76,917.7 1694.29,917.72 1694.81,917.69 1695.34,917.73 1695.86,917.71 1696.39,917.74 1696.91,917.72 1697.44,917.75 1697.97,917.74 1698.49,917.74 1699.02,917.77 1699.54,917.76 1700.07,917.75 1700.59,917.77 1701.12,917.77 1701.65,917.76 1702.17,917.75 1702.7,917.78 1703.22,917.77 1703.75,917.79 1704.27,917.77 1704.8,917.76 1705.33,917.78 1705.85,917.79 1706.38,917.77 1706.9,917.79 1707.43,917.76 1707.95,917.77 1708.48,917.8 1709.01,917.78 1709.53,917.78 1710.06,917.78 1710.58,917.78 1711.11,917.79 1711.63,917.78 1712.16,917.79 1712.69,917.78 1713.21,917.78 1713.74,917.78 1714.26,917.8 1714.79,917.79 1715.31,917.8 1715.84,917.8 1716.37,917.8 1716.89,917.8 1717.42,917.8 1717.94,917.8 1718.47,917.8 1718.99,917.8 1719.52,917.8 1720.05,917.8 1720.57,917.8 1721.1,917.8 1721.62,917.8 1722.15,917.8 1722.67,917.8 1723.2,917.8"/>
<polyline fill="none" stroke="#000" stroke-width="4.17" stroke-linejoin="round" stroke-dasharray="15.42 6.67" stroke-linecap="butt" clip-path="url(#cd)" points="146.1,917.8 147.15,917.8 148.2,917.8 149.25,917.8 150.31,917.8 151.36,917.8 152.41,917.8 153.46,917.79 154.51,917.79 155.56,917.79 156.61,917.79 157.67,917.79 158.72,917.78 159.77,917.78 160.82,917.78 161.87,917.78 162.92,917.77 163.97,917.77 165.03,917.77 166.08,917.76 167.13,917.76 168.18,917.75 169.23,917.75 170.28,917.75 171.33,917.74 172.38,917.74 173.44,917.73 174.49,917.73 175.54,917.72 176.59,917.72 177.64,917.71 178.69,917.71 179.74,917.7 180.8,917.69 181.85,917.69 182.9,917.68 183.95,917.68 185,917.67 186.05,917.66 187.1,917.66 188.16,917.65 189.21,917.64 190.26,917.64 191.31,917.63 192.36,917.62 193.41,917.62 194.46,917.61 195.52,917.6 196.57,917.6 197.62,917.59 198.67,917.58 199.72,917.57 200.77,917.57 201.82,917.56 202.88,917.55 203.93,917.55 204.98,917.54 206.03,917.53 207.08,917.52 208.13,917.52 209.18,917.51 210.24,917.5 211.29,917.49 212.34,917.48 213.39,917.48 214.44,917.47 215.49,917.46 216.54,917.45 217.6,917.44 218.65,917.43 219.7,917.42 220.75,917.41 221.8,917.4 222.85,917.38 223.9,917.37 224.96,917.36 226.01,917.35 227.06,917.34 228.11,917.32 229.16,917.31 230.21,917.3 231.26,917.28 232.31,917.27 233.37,917.25 234.42,917.24 235.47,917.23 236.52,917.21 237.57,917.19 238.62,917.18 239.67,917.16 240.73,917.15 241.78,917.13 242.83,917.11 243.88,917.1 244.93,917.08 245.98,917.06 247.03,917.04 248.09,917.02 249.14,917 250.19,916.99 251.24,916.97 252.29,916.95 253.34,916.93 254.39,916.91 255.45,916.89 256.5,916.87 257.55,916.85 258.6,916.82 259.65,916.8 260.7,916.78 261.75,916.76 262.81,916.74 263.86,916.71 264.91,916.69 265.96,916.67 267.01,916.64 268.06,916.62 269.11,916.6 270.17,916.57 271.22,916.55 272.27,916.52 273.32,916.5 274.37,916.47 275.42,916.45 276.47,916.42 277.52,916.39 278.58,916.37 279.63,916.34 280.68,916.31 281.73,916.29 282.78,916.26 283.83,916.23 284.88,916.2 285.94,916.17 286.99,916.14 288.04,916.1 289.09,916.07 290.14,916.04 291.19,916 292.24,915.97 293.3,915.93 294.35,915.89 295.4,915.86 296.45,915.82 297.5,915.78 298.55,915.74 299.6,915.69 300.66,915.65 301.71,915.61 302.76,915.56 303.81,915.52 304.86,915.47 305.91,915.42 306.96,915.37 308.02,915.32 309.07,915.27 310.12,915.22 311.17,915.17 312.22,915.11 313.27,915.06 314.32,915 315.38,914.94 316.43,914.88 317.48,914.82 318.53,914.76 319.58,914.7 320.63,914.64 321.68,914.57 322.74,914.51 323.79,914.44 324.84,914.37 325.89,914.3 326.94,914.23 327.99,914.16 329.04,914.08 330.1,914.01 331.15,913.93 332.2,913.85 333.25,913.77 334.3,913.69 335.35,913.61 336.4,913.52 337.45,913.44 338.51,913.35 339.56,913.26 340.61,913.17 341.66,913.08 342.71,912.99 343.76,912.89 344.81,912.79 345.87,912.67 346.92,912.55 347.97,912.41 349.02,912.27 350.07,912.12 351.12,911.96 352.17,911.79 353.23,911.62 354.28,911.43 355.33,911.24 356.38,911.04 357.43,910.84 358.48,910.63 359.53,910.41 360.59,910.18 361.64,909.95 362.69,909.71 363.74,909.47 364.79,909.22 365.84,908.97 366.89,908.71 367.95,908.44 369,908.18 370.05,907.91 371.1,907.63 372.15,907.35 373.2,907.07 374.25,906.78 375.31,906.49 376.36,906.2 377.41,905.91 378.46,905.61 379.51,905.31 380.56,905.01 381.61,904.69 382.66,904.37 383.72,904.03 384.77,903.68 385.82,903.31 386.87,902.94 387.92,902.55 388.97,902.15 390.02,901.74 391.08,901.31 392.13,900.88 393.18,900.44 394.23,899.98 395.28,899.51 396.33,899.04 397.38,898.55 398.44,898.06 399.49,897.55 400.54,897.04 401.59,896.51 402.64,895.98 403.69,895.44 404.74,894.88 405.8,894.29 406.85,893.68 407.9,893.04 408.95,892.38 410,891.71 411.05,891.01 412.1,890.29 413.16,889.55 414.21,888.8 415.26,888.04 416.31,887.26 417.36,886.47 418.41,885.68 419.46,884.87 420.52,884.06 421.57,883.24 422.62,882.41 423.67,881.57 424.72,880.71 425.77,879.82 426.82,878.92 427.88,878 428.93,877.06 429.98,876.09 431.03,875.11 432.08,874.11 433.13,873.09 434.18,872.05 435.24,870.99 436.29,869.91 437.34,868.81 438.39,867.7 439.44,866.56 440.49,865.4 441.54,864.22 442.59,863.01 443.65,861.78 444.7,860.52 445.75,859.23 446.8,857.91 447.85,856.56 448.9,855.17 449.95,853.76 451.01,852.28 452.06,850.74 453.11,849.14 454.16,847.49 455.21,845.79 456.26,844.07 457.31,842.31 458.37,840.54 459.42,838.75 460.47,836.96 461.52,835.16 462.57,833.38 463.62,831.59 464.67,829.8 465.73,827.99 466.78,826.17 467.83,824.32 468.88,822.46 469.93,820.56 470.98,818.64 472.03,816.68 473.09,814.69 474.14,812.65 475.19,810.56 476.24,808.42 477.29,806.22 478.34,803.98 479.39,801.69 480.45,799.37 481.5,797.02 482.55,794.64 483.6,792.25 484.65,789.84 485.7,787.42 486.75,785 487.81,782.59 488.86,780.16 489.91,777.73 490.96,775.27 492.01,772.8 493.06,770.31 494.11,767.8 495.16,765.25 496.22,762.68 497.27,760.07 498.32,757.42 499.37,754.73 500.42,751.98 501.47,749.16 502.52,746.29 503.58,743.37 504.63,740.41 505.68,737.42 506.73,734.41 507.78,731.4 508.83,728.39 509.88,725.38 510.94,722.4 511.99,719.45 513.04,716.47 514.09,713.45 515.14,710.39 516.19,707.32 517.24,704.25 518.3,701.2 519.35,698.19 520.4,695.24 521.45,692.36 522.5,689.57 523.55,686.89 524.6,684.34 525.66,681.93 526.71,679.65 527.76,677.46 528.81,675.33 529.86,673.23 530.91,671.12 531.96,668.96 533.02,666.72 534.07,664.37 535.12,661.87 536.17,659.26 537.22,656.64 538.27,654.09 539.32,651.64 540.38,649.22 541.43,646.85 542.48,644.54 543.53,642.31 544.58,640.18 545.63,638.12 546.68,636.09 547.73,634.06 548.79,631.98 549.84,629.83 550.89,627.67 551.94,625.54 552.99,623.49 554.04,621.55 555.09,619.66 556.15,617.83 557.2,616.09 558.25,614.44 559.3,612.87 560.35,611.34 561.4,609.88 562.45,608.5 563.51,607.24 564.56,606.1 565.61,604.97 566.66,603.85 567.71,602.79 568.76,601.8 569.81,600.92 570.87,600.17 571.92,599.59 572.97,599.18 574.02,598.81 575.07,598.46 576.12,598.16 577.17,597.91 578.23,597.73 579.28,597.63 580.33,597.64 581.38,597.75 582.43,597.96 583.48,598.26 584.53,598.65 585.59,599.11 586.64,599.64 587.69,600.23 588.74,600.86 589.79,601.54 590.84,602.24 591.89,602.97 592.95,603.76 594,604.81 595.05,606.08 596.1,607.53 597.15,609.1 598.2,610.72 599.25,612.36 600.3,613.98 601.36,615.74 602.41,617.59 603.46,619.48 604.51,621.36 605.56,623.17 606.61,624.94 607.66,626.75 608.72,628.69 609.77,630.84 610.82,633.23 611.87,635.75 612.92,638.26 613.97,640.75 615.02,643.28 616.08,645.91 617.13,648.71 618.18,651.77 619.23,655.07 620.28,658.54 621.33,662.09 622.38,665.66 623.44,669.36 624.49,673.17 625.54,677.02 626.59,680.85 627.64,684.58 628.69,688.17 629.74,691.63 630.8,695 631.85,698.31 632.9,701.59 633.95,704.87 635,708.17 636.05,711.53 637.1,714.98 638.16,718.54 639.21,722.25 640.26,726.1 641.31,730.08 642.36,734.13 643.41,738.24 644.46,742.36 645.51,746.46 646.57,750.52 647.62,754.49 648.67,758.34 649.72,762.11 650.77,765.86 651.82,769.57 652.87,773.25 653.93,776.89 654.98,780.48 656.03,784.03 657.08,787.52 658.13,790.95 659.18,794.32 660.23,797.61 661.29,800.84 662.34,804 663.39,807.11 664.44,810.18 665.49,813.23 666.54,816.27 667.59,819.31 668.65,822.36 669.7,825.43 670.75,828.58 671.8,831.83 672.85,835.12 673.9,838.42 674.95,841.67 676.01,844.84 677.06,847.88 678.11,850.74 679.16,853.38 680.21,855.78 681.26,858.08 682.31,860.32 683.37,862.48 684.42,864.58 685.47,866.61 686.52,868.57 687.57,870.47 688.62,872.31 689.67,874.08 690.73,875.8 691.78,877.45 692.83,879.05 693.88,880.59 694.93,882.08 695.98,883.51 697.03,884.92 698.09,886.31 699.14,887.67 700.19,889 701.24,890.31 702.29,891.58 703.34,892.81 704.39,894.01 705.44,895.17 706.5,896.28 707.55,897.34 708.6,898.36 709.65,899.32 710.7,900.23 711.75,901.08 712.8,901.87 713.86,902.61 714.91,903.33 715.96,904.04 717.01,904.75 718.06,905.44 719.11,906.13 720.16,906.8 721.22,907.45 722.27,908.09 723.32,908.71 724.37,909.32 725.42,909.9 726.47,910.46 727.52,910.99 728.58,911.5 729.63,911.99 730.68,912.44 731.73,912.87 732.78,913.26 733.83,913.62 734.88,913.95 735.94,914.24 736.99,914.49 738.04,914.71 739.09,914.88 740.14,915.03 741.19,915.17 742.24,915.31 743.3,915.44 744.35,915.55 745.4,915.67 746.45,915.77 747.5,915.87 748.55,915.97 749.6,916.06 750.66,916.15 751.71,916.23 752.76,916.3 753.81,916.38 754.86,916.45 755.91,916.52 756.96,916.58 758.01,916.64 759.07,916.71 760.12,916.77 761.17,916.83 762.22,916.89 763.27,916.95 764.32,917 765.37,917.06 766.43,917.12 767.48,917.17 768.53,917.22 769.58,917.27 770.63,917.31 771.68,917.35 772.73,917.39 773.79,917.43 774.84,917.46 775.89,917.49 776.94,917.51 777.99,917.53 779.04,917.55 780.09,917.57 781.15,917.58 782.2,917.6 783.25,917.62 784.3,917.63 785.35,917.65 786.4,917.67 787.45,917.68 788.51,917.7 789.56,917.71 790.61,917.72 791.66,917.73 792.71,917.74 793.76,917.75 794.81,917.76 795.87,917.77 796.92,917.78 797.97,917.79 799.02,917.79 800.07,917.79 801.12,917.8 802.17,917.8 803.23,917.8 804.28,917.8 805.33,917.8 806.38,917.8 807.43,917.8 808.48,917.8 809.53,917.8 810.58,917.8 811.64,917.8 812.69,917.8 813.74,917.8 814.79,917.8 815.84,917.8 816.89,917.8 817.94,917.8 819,917.8 820.05,917.8 821.1,917.8 822.15,917.8 823.2,917.8 824.25,917.8 825.3,917.8 826.36,917.8 827.41,917.8 828.46,917.8 829.51,917.8 830.56,917.8 831.61,917.8 832.66,917.8 833.72,917.8 834.77,917.8 835.82,917.8 836.87,917.8 837.92,917.8 838.97,917.8 840.02,917.8 841.08,917.8 842.13,917.8 843.18,917.8 844.23,917.8 845.28,917.8 846.33,917.8 847.38,917.8 848.44,917.8 849.49,917.8 850.54,917.8 851.59,917.8 852.64,917.8 853.69,917.8 854.74,917.8 855.8,917.8 856.85,917.8 857.9,917.8 858.95,917.8 860,917.8 861.05,917.8 862.1,917.8 863.15,917.8 864.21,917.8 865.26,917.8 866.31,917.8 867.36,917.8 868.41,917.8 869.46,917.8 870.51,917.8 871.57,917.8 872.62,917.8 873.67,917.8 874.72,917.8 875.77,917.8 876.82,917.8 877.87,917.8 878.93,917.8 879.98,917.8 881.03,917.8 882.08,917.8 883.13,917.8 884.18,917.8 885.23,917.8 886.29,917.8 887.34,917.8 888.39,917.8 889.44,917.8 890.49,917.8 891.54,917.8 892.59,917.8 893.65,917.8 894.7,917.8 895.75,917.8 896.8,917.8 897.85,917.8 898.9,917.8 899.95,917.8 901.01,917.8 902.06,917.8 903.11,917.8 904.16,917.8 905.21,917.8 906.26,917.8 907.31,917.8 908.37,917.8 909.42,917.8 910.47,917.8 911.52,917.8 912.57,917.8 913.62,917.8 914.67,917.8 915.72,917.8 916.78,917.8 917.83,917.8 918.88,917.8 919.93,917.8 920.98,917.8 922.03,917.8 923.08,917.8 924.14,917.8 925.19,917.8 926.24,917.8 927.29,917.8 928.34,917.8 929.39,917.8 930.44,917.8 931.5,917.8 932.55,917.8 933.6,917.8 934.65,917.8 935.7,917.8 936.75,917.8 937.8,917.8 938.86,917.8 939.91,917.8 940.96,917.8 942.01,917.8 943.06,917.8 944.11,917.8 945.16,917.8 946.22,917.8 947.27,917.8 948.32,917.8 949.37,917.8 950.42,917.8 951.47,917.8 952.52,917.8 953.58,917.8 954.63,917.8 955.68,917.8 956.73,917.8 957.78,917.8 958.83,917.8 959.88,917.8 960.94,917.8 961.99,917.8 963.04,917.8 964.09,917.8 965.14,917.8 966.19,917.8 967.24,917.8 968.29,917.8 969.35,917.8 970.4,917.8 971.45,917.8 972.5,917.8 973.55,917.8 974.6,917.8 975.65,917.8 976.71,917.8 977.76,917.8 978.81,917.8 979.86,917.8 980.91,917.8 981.96,917.8 983.01,917.8 984.07,917.8 985.12,917.8 986.17,917.8 987.22,917.8 988.27,917.8 989.32,917.8 990.37,917.8 991.43,917.8 992.48,917.8 993.53,917.8 994.58,917.8 995.63,917.8 996.68,917.8 997.73,917.8 998.79,917.8 999.84,917.8 1000.89,917.8 1001.94,917.8 1002.99,917.8 1004.04,917.8 1005.09,917.8 1006.15,917.8 1007.2,917.8 1008.25,917.8 1009.3,917.8 1010.35,917.8 1011.4,917.8 1012.45,917.8 1013.51,917.8 1014.56,917.8 1015.61,917.8 1016.66,917.8 1017.71,917.8 1018.76,917.8 1019.81,917.8 1020.86,917.8 1021.92,917.8 1022.97,917.8 1024.02,917.8 1025.07,917.8 1026.12,917.8 1027.17,917.8 1028.22,917.8 1029.28,917.8 1030.33,917.8 1031.38,917.8 1032.43,917.8 1033.48,917.8 1034.53,917.8 1035.58,917.8 1036.64,917.8 1037.69,917.8 1038.74,917.8 1039.79,917.8 1040.84,917.8 1041.89,917.8 1042.94,917.8 1044,917.8 1045.05,917.8 1046.1,917.8 1047.15,917.8 1048.2,917.8 1049.25,917.8 1050.3,917.8 1051.36,917.8 1052.41,917.8 1053.46,917.8 1054.51,917.8 1055.56,917.8 1056.61,917.8 1057.66,917.8 1058.72,917.8 1059.77,917.8 1060.82,917.8 1061.87,917.8 1062.92,917.8 1063.97,917.8 1065.02,917.8 1066.08,917.8 1067.13,917.8 1068.18,917.8 1069.23,917.79 1070.28,917.79 1071.33,917.79 1072.38,917.78 1073.43,917.77 1074.49,917.76 1075.54,917.75 1076.59,917.74 1077.64,917.73 1078.69,917.72 1079.74,917.71 1080.79,917.7 1081.85,917.68 1082.9,917.67 1083.95,917.65 1085,917.63 1086.05,917.62 1087.1,917.6 1088.15,917.58 1089.21,917.57 1090.26,917.55 1091.31,917.53 1092.36,917.51 1093.41,917.49 1094.46,917.46 1095.51,917.43 1096.57,917.39 1097.62,917.35 1098.67,917.31 1099.72,917.27 1100.77,917.22 1101.82,917.17 1102.87,917.12 1103.93,917.06 1104.98,917 1106.03,916.95 1107.08,916.89 1108.13,916.83 1109.18,916.77 1110.23,916.71 1111.29,916.64 1112.34,916.58 1113.39,916.52 1114.44,916.45 1115.49,916.38 1116.54,916.3 1117.59,916.23 1118.65,916.15 1119.7,916.06 1120.75,915.97 1121.8,915.87 1122.85,915.77 1123.9,915.67 1124.95,915.55 1126,915.44 1127.06,915.31 1128.11,915.17 1129.16,915.03 1130.21,914.88 1131.26,914.71 1132.31,914.49 1133.36,914.24 1134.42,913.95 1135.47,913.62 1136.52,913.26 1137.57,912.87 1138.62,912.44 1139.67,911.99 1140.72,911.5 1141.78,910.99 1142.83,910.46 1143.88,909.9 1144.93,909.32 1145.98,908.71 1147.03,908.09 1148.08,907.45 1149.14,906.8 1150.19,906.13 1151.24,905.44 1152.29,904.75 1153.34,904.04 1154.39,903.33 1155.44,902.61 1156.5,901.87 1157.55,901.08 1158.6,900.23 1159.65,899.32 1160.7,898.36 1161.75,897.34 1162.8,896.28 1163.86,895.17 1164.91,894.01 1165.96,892.81 1167.01,891.58 1168.06,890.31 1169.11,889 1170.16,887.67 1171.22,886.31 1172.27,884.92 1173.32,883.51 1174.37,882.08 1175.42,880.59 1176.47,879.05 1177.52,877.45 1178.57,875.8 1179.63,874.08 1180.68,872.31 1181.73,870.47 1182.78,868.57 1183.83,866.61 1184.88,864.58 1185.93,862.48 1186.99,860.32 1188.04,858.08 1189.09,855.78 1190.14,853.38 1191.19,850.74 1192.24,847.88 1193.29,844.84 1194.35,841.67 1195.4,838.42 1196.45,835.12 1197.5,831.83 1198.55,828.58 1199.6,825.43 1200.65,822.36 1201.71,819.31 1202.76,816.27 1203.81,813.23 1204.86,810.18 1205.91,807.11 1206.96,804 1208.01,800.84 1209.07,797.61 1210.12,794.32 1211.17,790.95 1212.22,787.52 1213.27,784.03 1214.32,780.48 1215.37,776.89 1216.43,773.25 1217.48,769.57 1218.53,765.86 1219.58,762.11 1220.63,758.34 1221.68,754.49 1222.73,750.52 1223.79,746.46 1224.84,742.36 1225.89,738.24 1226.94,734.13 1227.99,730.08 1229.04,726.1 1230.09,722.25 1231.14,718.54 1232.2,714.98 1233.25,711.53 1234.3,708.17 1235.35,704.87 1236.4,701.59 1237.45,698.31 1238.5,695 1239.56,691.63 1240.61,688.17 1241.66,684.58 1242.71,680.85 1243.76,677.02 1244.81,673.17 1245.86,669.36 1246.92,665.66 1247.97,662.09 1249.02,658.54 1250.07,655.07 1251.12,651.77 1252.17,648.71 1253.22,645.91 1254.28,643.28 1255.33,640.75 1256.38,638.26 1257.43,635.75 1258.48,633.23 1259.53,630.84 1260.58,628.69 1261.64,626.75 1262.69,624.94 1263.74,623.17 1264.79,621.36 1265.84,619.48 1266.89,617.59 1267.94,615.74 1269,613.98 1270.05,612.36 1271.1,610.72 1272.15,609.1 1273.2,607.53 1274.25,606.08 1275.3,604.81 1276.36,603.76 1277.41,602.97 1278.46,602.24 1279.51,601.54 1280.56,600.86 1281.61,600.23 1282.66,599.64 1283.71,599.11 1284.77,598.65 1285.82,598.26 1286.87,597.96 1287.92,597.75 1288.97,597.64 1290.02,597.63 1291.07,597.73 1292.13,597.91 1293.18,598.16 1294.23,598.46 1295.28,598.81 1296.33,599.18 1297.38,599.59 1298.43,600.17 1299.49,600.92 1300.54,601.8 1301.59,602.79 1302.64,603.85 1303.69,604.97 1304.74,606.1 1305.79,607.24 1306.85,608.5 1307.9,609.88 1308.95,611.34 1310,612.87 1311.05,614.44 1312.1,616.09 1313.15,617.83 1314.21,619.66 1315.26,621.55 1316.31,623.49 1317.36,625.54 1318.41,627.67 1319.46,629.83 1320.51,631.98 1321.57,634.06 1322.62,636.09 1323.67,638.12 1324.72,640.18 1325.77,642.31 1326.82,644.54 1327.87,646.85 1328.92,649.22 1329.98,651.64 1331.03,654.09 1332.08,656.64 1333.13,659.26 1334.18,661.87 1335.23,664.37 1336.28,666.72 1337.34,668.96 1338.39,671.12 1339.44,673.23 1340.49,675.33 1341.54,677.46 1342.59,679.65 1343.64,681.93 1344.7,684.34 1345.75,686.89 1346.8,689.57 1347.85,692.36 1348.9,695.24 1349.95,698.19 1351,701.2 1352.06,704.25 1353.11,707.32 1354.16,710.39 1355.21,713.45 1356.26,716.47 1357.31,719.45 1358.36,722.4 1359.42,725.38 1360.47,728.39 1361.52,731.4 1362.57,734.41 1363.62,737.42 1364.67,740.41 1365.72,743.37 1366.78,746.29 1367.83,749.16 1368.88,751.98 1369.93,754.73 1370.98,757.42 1372.03,760.07 1373.08,762.68 1374.14,765.25 1375.19,767.8 1376.24,770.31 1377.29,772.8 1378.34,775.27 1379.39,777.73 1380.44,780.16 1381.49,782.59 1382.55,785 1383.6,787.42 1384.65,789.84 1385.7,792.25 1386.75,794.64 1387.8,797.02 1388.85,799.37 1389.91,801.69 1390.96,803.98 1392.01,806.22 1393.06,808.42 1394.11,810.56 1395.16,812.65 1396.21,814.69 1397.27,816.68 1398.32,818.64 1399.37,820.56 1400.42,822.46 1401.47,824.32 1402.52,826.17 1403.57,827.99 1404.63,829.8 1405.68,831.59 1406.73,833.38 1407.78,835.16 1408.83,836.96 1409.88,838.75 1410.93,840.54 1411.99,842.31 1413.04,844.07 1414.09,845.79 1415.14,847.49 1416.19,849.14 1417.24,850.74 1418.29,852.28 1419.35,853.76 1420.4,855.17 1421.45,856.56 1422.5,857.91 1423.55,859.23 1424.6,860.52 1425.65,861.78 1426.71,863.01 1427.76,864.22 1428.81,865.4 1429.86,866.56 1430.91,867.7 1431.96,868.81 1433.01,869.91 1434.07,870.99 1435.12,872.05 1436.17,873.09 1437.22,874.11 1438.27,875.11 1439.32,876.09 1440.37,877.06 1441.42,878 1442.48,878.92 1443.53,879.82 1444.58,880.71 1445.63,881.57 1446.68,882.41 1447.73,883.24 1448.78,884.06 1449.84,884.87 1450.89,885.68 1451.94,886.47 1452.99,887.26 1454.04,888.04 1455.09,888.8 1456.14,889.55 1457.2,890.29 1458.25,891.01 1459.3,891.71 1460.35,892.38 1461.4,893.04 1462.45,893.68 1463.5,894.29 1464.56,894.88 1465.61,895.44 1466.66,895.98 1467.71,896.51 1468.76,897.04 1469.81,897.55 1470.86,898.06 1471.92,898.55 1472.97,899.04 1474.02,899.51 1475.07,899.98 1476.12,900.44 1477.17,900.88 1478.22,901.31 1479.28,901.74 1480.33,902.15 1481.38,902.55 1482.43,902.94 1483.48,903.31 1484.53,903.68 1485.58,904.03 1486.63,904.37 1487.69,904.69 1488.74,905.01 1489.79,905.31 1490.84,905.61 1491.89,905.91 1492.94,906.2 1493.99,906.49 1495.05,906.78 1496.1,907.07 1497.15,907.35 1498.2,907.63 1499.25,907.91 1500.3,908.18 1501.35,908.44 1502.41,908.71 1503.46,908.97 1504.51,909.22 1505.56,909.47 1506.61,909.71 1507.66,909.95 1508.71,910.18 1509.77,910.41 1510.82,910.63 1511.87,910.84 1512.92,911.04 1513.97,911.24 1515.02,911.43 1516.07,911.62 1517.13,911.79 1518.18,911.96 1519.23,912.12 1520.28,912.27 1521.33,912.41 1522.38,912.55 1523.43,912.67 1524.49,912.79 1525.54,912.89 1526.59,912.99 1527.64,913.08 1528.69,913.17 1529.74,913.26 1530.79,913.35 1531.85,913.44 1532.9,913.52 1533.95,913.61 1535,913.69 1536.05,913.77 1537.1,913.85 1538.15,913.93 1539.2,914.01 1540.26,914.08 1541.31,914.16 1542.36,914.23 1543.41,914.3 1544.46,914.37 1545.51,914.44 1546.56,914.51 1547.62,914.57 1548.67,914.64 1549.72,914.7 1550.77,914.76 1551.82,914.82 1552.87,914.88 1553.92,914.94 1554.98,915 1556.03,915.06 1557.08,915.11 1558.13,915.17 1559.18,915.22 1560.23,915.27 1561.28,915.32 1562.34,915.37 1563.39,915.42 1564.44,915.47 1565.49,915.52 1566.54,915.56 1567.59,915.61 1568.64,915.65 1569.7,915.69 1570.75,915.74 1571.8,915.78 1572.85,915.82 1573.9,915.86 1574.95,915.89 1576,915.93 1577.06,915.97 1578.11,916 1579.16,916.04 1580.21,916.07 1581.26,916.1 1582.31,916.14 1583.36,916.17 1584.42,916.2 1585.47,916.23 1586.52,916.26 1587.57,916.29 1588.62,916.31 1589.67,916.34 1590.72,916.37 1591.77,916.39 1592.83,916.42 1593.88,916.45 1594.93,916.47 1595.98,916.5 1597.03,916.52 1598.08,916.55 1599.13,916.57 1600.19,916.6 1601.24,916.62 1602.29,916.64 1603.34,916.67 1604.39,916.69 1605.44,916.71 1606.49,916.74 1607.55,916.76 1608.6,916.78 1609.65,916.8 1610.7,916.82 1611.75,916.85 1612.8,916.87 1613.85,916.89 1614.91,916.91 1615.96,916.93 1617.01,916.95 1618.06,916.97 1619.11,916.99 1620.16,917 1621.21,917.02 1622.27,917.04 1623.32,917.06 1624.37,917.08 1625.42,917.1 1626.47,917.11 1627.52,917.13 1628.57,917.15 1629.63,917.16 1630.68,917.18 1631.73,917.19 1632.78,917.21 1633.83,917.23 1634.88,917.24 1635.93,917.25 1636.99,917.27 1638.04,917.28 1639.09,917.3 1640.14,917.31 1641.19,917.32 1642.24,917.34 1643.29,917.35 1644.35,917.36 1645.4,917.37 1646.45,917.38 1647.5,917.4 1648.55,917.41 1649.6,917.42 1650.65,917.43 1651.7,917.44 1652.76,917.45 1653.81,917.46 1654.86,917.47 1655.91,917.48 1656.96,917.48 1658.01,917.49 1659.06,917.5 1660.12,917.51 1661.17,917.52 1662.22,917.52 1663.27,917.53 1664.32,917.54 1665.37,917.55 1666.42,917.55 1667.48,917.56 1668.53,917.57 1669.58,917.57 1670.63,917.58 1671.68,917.59 1672.73,917.6 1673.78,917.6 1674.84,917.61 1675.89,917.62 1676.94,917.62 1677.99,917.63 1679.04,917.64 1680.09,917.64 1681.14,917.65 1682.2,917.66 1683.25,917.66 1684.3,917.67 1685.35,917.68 1686.4,917.68 1687.45,917.69 1688.5,917.69 1689.56,917.7 1690.61,917.71 1691.66,917.71 1692.71,917.72 1693.76,917.72 1694.81,917.73 1695.86,917.73 1696.91,917.74 1697.97,917.74 1699.02,917.75 1700.07,917.75 1701.12,917.75 1702.17,917.76 1703.22,917.76 1704.27,917.77 1705.33,917.77 1706.38,917.77 1707.43,917.78 1708.48,917.78 1709.53,917.78 1710.58,917.78 1711.63,917.79 1712.69,917.79 1713.74,917.79 1714.79,917.79 1715.84,917.79 1716.89,917.8 1717.94,917.8 1718.99,917.8 1720.05,917.8 1721.1,917.8 1722.15,917.8 1723.2,917.8"/>
<rect x="404.58" y="42.58" width="215.2" height="95.5" rx="5.8" ry="5.8" fill="#fff" fill-opacity="0.8" stroke="#d6d6d6" stroke-width="4.17"/>
<line x1="416.28" y1="68.78" x2="433.78" y2="68.78" stroke="#648fff" stroke-width="4.17" stroke-linecap="square"/>
<line x1="416.28" y1="107.58" x2="433.78" y2="107.58" stroke="#000" stroke-width="4.17" stroke-dasharray="15.42 6.67"/>
<text x="444.58" y="75.58" font-size="29.17" font-family="'Liberation Sans', Arial, sans-serif"><tspan font-family="'DejaVu Sans', sans-serif" font-style="oblique">n</tspan><tspan font-family="'DejaVu Sans', sans-serif" dx="6">=</tspan><tspan font-family="'DejaVu Sans', sans-serif" dx="6.5">0</tspan><tspan font-family="'Liberation Sans', Arial, sans-serif" dx="0"> exp.</tspan></text>
<text x="444.58" y="114.68" font-size="29.17" font-family="'Liberation Sans', Arial, sans-serif"><tspan font-family="'DejaVu Sans', sans-serif" font-style="oblique">n</tspan><tspan font-family="'DejaVu Sans', sans-serif" dx="6">=</tspan><tspan font-family="'DejaVu Sans', sans-serif" dx="6.5">0</tspan><tspan font-family="'Liberation Sans', Arial, sans-serif" dx="0" letter-spacing="0.4"> analy.</tspan></text>
<rect x="940.82" y="42.58" width="215" height="95.5" rx="5.8" ry="5.8" fill="#fff" fill-opacity="0.8" stroke="#d6d6d6" stroke-width="4.17"/>
<line x1="952.52" y1="68.78" x2="970.02" y2="68.78" stroke="#785ef0" stroke-width="4.17" stroke-linecap="square"/>
<line x1="952.52" y1="107.58" x2="970.02" y2="107.58" stroke="#000" stroke-width="4.17" stroke-dasharray="15.42 6.67"/>
<text x="980.82" y="75.58" font-size="29.17" font-family="'Liberation Sans', Arial, sans-serif"><tspan font-family="'DejaVu Sans', sans-serif" font-style="oblique">n</tspan><tspan font-family="'DejaVu Sans', sans-serif" dx="6">=</tspan><tspan font-family="'DejaVu Sans', sans-serif" dx="6.5">1</tspan><tspan font-family="'Liberation Sans', Arial, sans-serif" dx="0"> exp.</tspan></text>
<text x="980.82" y="114.68" font-size="29.17" font-family="'Liberation Sans', Arial, sans-serif"><tspan font-family="'DejaVu Sans', sans-serif" font-style="oblique">n</tspan><tspan font-family="'DejaVu Sans', sans-serif" dx="6">=</tspan><tspan font-family="'DejaVu Sans', sans-serif" dx="6.5">1</tspan><tspan font-family="'Liberation Sans', Arial, sans-serif" dx="0" letter-spacing="0.4"> analy.</tspan></text>
<rect x="1493.62" y="42.58" width="215" height="95.5" rx="5.8" ry="5.8" fill="#fff" fill-opacity="0.8" stroke="#d6d6d6" stroke-width="4.17"/>
<line x1="1505.32" y1="68.78" x2="1522.82" y2="68.78" stroke="#dc267f" stroke-width="4.17" stroke-linecap="square"/>
<line x1="1505.32" y1="107.58" x2="1522.82" y2="107.58" stroke="#000" stroke-width="4.17" stroke-dasharray="15.42 6.67"/>
<text x="1533.62" y="75.58" font-size="29.17" font-family="'Liberation Sans', Arial, sans-serif"><tspan font-family="'DejaVu Sans', sans-serif" font-style="oblique">n</tspan><tspan font-family="'DejaVu Sans', sans-serif" dx="6">=</tspan><tspan font-family="'DejaVu Sans', sans-serif" dx="6.5">2</tspan><tspan font-family="'Liberation Sans', Arial, sans-serif" dx="0"> exp.</tspan></text>
<text x="1533.62" y="114.68" font-size="29.17" font-family="'Liberation Sans', Arial, sans-serif"><tspan font-family="'DejaVu Sans', sans-serif" font-style="oblique">n</tspan><tspan font-family="'DejaVu Sans', sans-serif" dx="6">=</tspan><tspan font-family="'DejaVu Sans', sans-serif" dx="6.5">2</tspan><tspan font-family="'Liberation Sans', Arial, sans-serif" dx="0" letter-spacing="0.4"> analy.</tspan></text>
<rect x="1476.72" y="553.28" width="231.9" height="95.5" rx="5.8" ry="5.8" fill="#fff" fill-opacity="0.8" stroke="#d6d6d6" stroke-width="4.17"/>
<line x1="1488.42" y1="579.48" x2="1505.92" y2="579.48" stroke="#669f0c" stroke-width="4.17" stroke-linecap="square"/>
<line x1="1488.42" y1="618.28" x2="1505.92" y2="618.28" stroke="#000" stroke-width="4.17" stroke-dasharray="15.42 6.67"/>
<text x="1516.72" y="586.28" font-size="29.17" font-family="'Liberation Sans', Arial, sans-serif"><tspan font-family="'DejaVu Sans', sans-serif" font-style="oblique">n</tspan><tspan font-family="'DejaVu Sans', sans-serif" dx="6">=</tspan><tspan font-family="'DejaVu Sans', sans-serif" dx="6.5">40</tspan><tspan font-family="'Liberation Sans', Arial, sans-serif" dx="0"> exp.</tspan></text>
<text x="1516.72" y="625.38" font-size="29.17" font-family="'Liberation Sans', Arial, sans-serif"><tspan font-family="'DejaVu Sans', sans-serif" font-style="oblique">n</tspan><tspan font-family="'DejaVu Sans', sans-serif" dx="6">=</tspan><tspan font-family="'DejaVu Sans', sans-serif" dx="6.5">40</tspan><tspan font-family="'Liberation Sans', Arial, sans-serif" dx="0" letter-spacing="0.4"> analy.</tspan></text>
<rect x="146.84" y="28" width="487.52" height="380.6" fill="none" stroke="#000" stroke-width="3.33" stroke-linejoin="miter"/>
<line x1="146.84" y1="395.75" x2="138.51" y2="395.75" stroke="#000" stroke-width="2.5"/>
<line x1="146.84" y1="362.93" x2="138.51" y2="362.93" stroke="#000" stroke-width="2.5"/>
<line x1="146.84" y1="330.1" x2="138.51" y2="330.1" stroke="#000" stroke-width="2.5"/>
<line x1="146.84" y1="297.28" x2="138.51" y2="297.28" stroke="#000" stroke-width="2.5"/>
<line x1="146.84" y1="264.45" x2="138.51" y2="264.45" stroke="#000" stroke-width="2.5"/>
<line x1="146.84" y1="231.63" x2="138.51" y2="231.63" stroke="#000" stroke-width="2.5"/>
<line x1="146.84" y1="198.8" x2="138.51" y2="198.8" stroke="#000" stroke-width="2.5"/>
<line x1="146.84" y1="165.98" x2="138.51" y2="165.98" stroke="#000" stroke-width="2.5"/>
<line x1="146.84" y1="133.15" x2="138.51" y2="133.15" stroke="#000" stroke-width="2.5"/>
<line x1="146.84" y1="100.32" x2="138.51" y2="100.32" stroke="#000" stroke-width="2.5"/>
<line x1="146.84" y1="67.5" x2="138.51" y2="67.5" stroke="#000" stroke-width="2.5"/>
<line x1="146.84" y1="34.67" x2="138.51" y2="34.67" stroke="#000" stroke-width="2.5"/>
<line x1="146.84" y1="395.75" x2="132.26" y2="395.75" stroke="#000" stroke-width="3.33"/>
<line x1="146.84" y1="330.1" x2="132.26" y2="330.1" stroke="#000" stroke-width="3.33"/>
<line x1="146.84" y1="264.45" x2="132.26" y2="264.45" stroke="#000" stroke-width="3.33"/>
<line x1="146.84" y1="198.8" x2="132.26" y2="198.8" stroke="#000" stroke-width="3.33"/>
<line x1="146.84" y1="133.15" x2="132.26" y2="133.15" stroke="#000" stroke-width="3.33"/>
<line x1="146.84" y1="67.5" x2="132.26" y2="67.5" stroke="#000" stroke-width="3.33"/>
<rect x="683" y="28" width="487.4" height="380.6" fill="none" stroke="#000" stroke-width="3.33" stroke-linejoin="miter"/>
<line x1="683" y1="395.75" x2="674.67" y2="395.75" stroke="#000" stroke-width="2.5"/>
<line x1="683" y1="362.93" x2="674.67" y2="362.93" stroke="#000" stroke-width="2.5"/>
<line x1="683" y1="330.1" x2="674.67" y2="330.1" stroke="#000" stroke-width="2.5"/>
<line x1="683" y1="297.28" x2="674.67" y2="297.28" stroke="#000" stroke-width="2.5"/>
<line x1="683" y1="264.45" x2="674.67" y2="264.45" stroke="#000" stroke-width="2.5"/>
<line x1="683" y1="231.63" x2="674.67" y2="231.63" stroke="#000" stroke-width="2.5"/>
<line x1="683" y1="198.8" x2="674.67" y2="198.8" stroke="#000" stroke-width="2.5"/>
<line x1="683" y1="165.98" x2="674.67" y2="165.98" stroke="#000" stroke-width="2.5"/>
<line x1="683" y1="133.15" x2="674.67" y2="133.15" stroke="#000" stroke-width="2.5"/>
<line x1="683" y1="100.32" x2="674.67" y2="100.32" stroke="#000" stroke-width="2.5"/>
<line x1="683" y1="67.5" x2="674.67" y2="67.5" stroke="#000" stroke-width="2.5"/>
<line x1="683" y1="34.67" x2="674.67" y2="34.67" stroke="#000" stroke-width="2.5"/>
<line x1="683" y1="395.75" x2="668.42" y2="395.75" stroke="#000" stroke-width="3.33"/>
<line x1="683" y1="330.1" x2="668.42" y2="330.1" stroke="#000" stroke-width="3.33"/>
<line x1="683" y1="264.45" x2="668.42" y2="264.45" stroke="#000" stroke-width="3.33"/>
<line x1="683" y1="198.8" x2="668.42" y2="198.8" stroke="#000" stroke-width="3.33"/>
<line x1="683" y1="133.15" x2="668.42" y2="133.15" stroke="#000" stroke-width="3.33"/>
<line x1="683" y1="67.5" x2="668.42" y2="67.5" stroke="#000" stroke-width="3.33"/>
<rect x="1219.5" y="28" width="503.7" height="380.6" fill="none" stroke="#000" stroke-width="3.33" stroke-linejoin="miter"/>
<line x1="1219.5" y1="395.75" x2="1211.17" y2="395.75" stroke="#000" stroke-width="2.5"/>
<line x1="1219.5" y1="362.93" x2="1211.17" y2="362.93" stroke="#000" stroke-width="2.5"/>
<line x1="1219.5" y1="330.1" x2="1211.17" y2="330.1" stroke="#000" stroke-width="2.5"/>
<line x1="1219.5" y1="297.28" x2="1211.17" y2="297.28" stroke="#000" stroke-width="2.5"/>
<line x1="1219.5" y1="264.45" x2="1211.17" y2="264.45" stroke="#000" stroke-width="2.5"/>
<line x1="1219.5" y1="231.63" x2="1211.17" y2="231.63" stroke="#000" stroke-width="2.5"/>
<line x1="1219.5" y1="198.8" x2="1211.17" y2="198.8" stroke="#000" stroke-width="2.5"/>
<line x1="1219.5" y1="165.98" x2="1211.17" y2="165.98" stroke="#000" stroke-width="2.5"/>
<line x1="1219.5" y1="133.15" x2="1211.17" y2="133.15" stroke="#000" stroke-width="2.5"/>
<line x1="1219.5" y1="100.32" x2="1211.17" y2="100.32" stroke="#000" stroke-width="2.5"/>
<line x1="1219.5" y1="67.5" x2="1211.17" y2="67.5" stroke="#000" stroke-width="2.5"/>
<line x1="1219.5" y1="34.67" x2="1211.17" y2="34.67" stroke="#000" stroke-width="2.5"/>
<line x1="1219.5" y1="395.75" x2="1204.92" y2="395.75" stroke="#000" stroke-width="3.33"/>
<line x1="1219.5" y1="330.1" x2="1204.92" y2="330.1" stroke="#000" stroke-width="3.33"/>
<line x1="1219.5" y1="264.45" x2="1204.92" y2="264.45" stroke="#000" stroke-width="3.33"/>
<line x1="1219.5" y1="198.8" x2="1204.92" y2="198.8" stroke="#000" stroke-width="3.33"/>
<line x1="1219.5" y1="133.15" x2="1204.92" y2="133.15" stroke="#000" stroke-width="3.33"/>
<line x1="1219.5" y1="67.5" x2="1204.92" y2="67.5" stroke="#000" stroke-width="3.33"/>
<line x1="146.84" y1="408.6" x2="146.84" y2="416.93" stroke="#000" stroke-width="2.5"/>
<line x1="169" y1="408.6" x2="169" y2="416.93" stroke="#000" stroke-width="2.5"/>
<line x1="191.16" y1="408.6" x2="191.16" y2="416.93" stroke="#000" stroke-width="2.5"/>
<line x1="213.32" y1="408.6" x2="213.32" y2="416.93" stroke="#000" stroke-width="2.5"/>
<line x1="235.48" y1="408.6" x2="235.48" y2="416.93" stroke="#000" stroke-width="2.5"/>
<line x1="257.64" y1="408.6" x2="257.64" y2="416.93" stroke="#000" stroke-width="2.5"/>
<line x1="279.8" y1="408.6" x2="279.8" y2="416.93" stroke="#000" stroke-width="2.5"/>
<line x1="301.96" y1="408.6" x2="301.96" y2="416.93" stroke="#000" stroke-width="2.5"/>
<line x1="324.12" y1="408.6" x2="324.12" y2="416.93" stroke="#000" stroke-width="2.5"/>
<line x1="346.28" y1="408.6" x2="346.28" y2="416.93" stroke="#000" stroke-width="2.5"/>
<line x1="368.44" y1="408.6" x2="368.44" y2="416.93" stroke="#000" stroke-width="2.5"/>
<line x1="390.6" y1="408.6" x2="390.6" y2="416.93" stroke="#000" stroke-width="2.5"/>
<line x1="412.76" y1="408.6" x2="412.76" y2="416.93" stroke="#000" stroke-width="2.5"/>
<line x1="434.92" y1="408.6" x2="434.92" y2="416.93" stroke="#000" stroke-width="2.5"/>
<line x1="457.08" y1="408.6" x2="457.08" y2="416.93" stroke="#000" stroke-width="2.5"/>
<line x1="479.24" y1="408.6" x2="479.24" y2="416.93" stroke="#000" stroke-width="2.5"/>
<line x1="501.4" y1="408.6" x2="501.4" y2="416.93" stroke="#000" stroke-width="2.5"/>
<line x1="523.56" y1="408.6" x2="523.56" y2="416.93" stroke="#000" stroke-width="2.5"/>
<line x1="545.72" y1="408.6" x2="545.72" y2="416.93" stroke="#000" stroke-width="2.5"/>
<line x1="567.88" y1="408.6" x2="567.88" y2="416.93" stroke="#000" stroke-width="2.5"/>
<line x1="590.04" y1="408.6" x2="590.04" y2="416.93" stroke="#000" stroke-width="2.5"/>
<line x1="612.2" y1="408.6" x2="612.2" y2="416.93" stroke="#000" stroke-width="2.5"/>
<line x1="634.36" y1="408.6" x2="634.36" y2="416.93" stroke="#000" stroke-width="2.5"/>
<line x1="169" y1="408.6" x2="169" y2="423.18" stroke="#000" stroke-width="3.33"/>
<line x1="279.8" y1="408.6" x2="279.8" y2="423.18" stroke="#000" stroke-width="3.33"/>
<line x1="390.6" y1="408.6" x2="390.6" y2="423.18" stroke="#000" stroke-width="3.33"/>
<line x1="501.4" y1="408.6" x2="501.4" y2="423.18" stroke="#000" stroke-width="3.33"/>
<line x1="612.2" y1="408.6" x2="612.2" y2="423.18" stroke="#000" stroke-width="3.33"/>
<line x1="683" y1="408.6" x2="683" y2="416.93" stroke="#000" stroke-width="2.5"/>
<line x1="700.41" y1="408.6" x2="700.41" y2="416.93" stroke="#000" stroke-width="2.5"/>
<line x1="717.81" y1="408.6" x2="717.81" y2="416.93" stroke="#000" stroke-width="2.5"/>
<line x1="735.22" y1="408.6" x2="735.22" y2="416.93" stroke="#000" stroke-width="2.5"/>
<line x1="752.63" y1="408.6" x2="752.63" y2="416.93" stroke="#000" stroke-width="2.5"/>
<line x1="770.04" y1="408.6" x2="770.04" y2="416.93" stroke="#000" stroke-width="2.5"/>
<line x1="787.44" y1="408.6" x2="787.44" y2="416.93" stroke="#000" stroke-width="2.5"/>
<line x1="804.85" y1="408.6" x2="804.85" y2="416.93" stroke="#000" stroke-width="2.5"/>
<line x1="822.26" y1="408.6" x2="822.26" y2="416.93" stroke="#000" stroke-width="2.5"/>
<line x1="839.66" y1="408.6" x2="839.66" y2="416.93" stroke="#000" stroke-width="2.5"/>
<line x1="857.07" y1="408.6" x2="857.07" y2="416.93" stroke="#000" stroke-width="2.5"/>
<line x1="874.48" y1="408.6" x2="874.48" y2="416.93" stroke="#000" stroke-width="2.5"/>
<line x1="891.89" y1="408.6" x2="891.89" y2="416.93" stroke="#000" stroke-width="2.5"/>
<line x1="909.29" y1="408.6" x2="909.29" y2="416.93" stroke="#000" stroke-width="2.5"/>
<line x1="926.7" y1="408.6" x2="926.7" y2="416.93" stroke="#000" stroke-width="2.5"/>
<line x1="944.11" y1="408.6" x2="944.11" y2="416.93" stroke="#000" stroke-width="2.5"/>
<line x1="961.51" y1="408.6" x2="961.51" y2="416.93" stroke="#000" stroke-width="2.5"/>
<line x1="978.92" y1="408.6" x2="978.92" y2="416.93" stroke="#000" stroke-width="2.5"/>
<line x1="996.33" y1="408.6" x2="996.33" y2="416.93" stroke="#000" stroke-width="2.5"/>
<line x1="1013.74" y1="408.6" x2="1013.74" y2="416.93" stroke="#000" stroke-width="2.5"/>
<line x1="1031.14" y1="408.6" x2="1031.14" y2="416.93" stroke="#000" stroke-width="2.5"/>
<line x1="1048.55" y1="408.6" x2="1048.55" y2="416.93" stroke="#000" stroke-width="2.5"/>
<line x1="1065.96" y1="408.6" x2="1065.96" y2="416.93" stroke="#000" stroke-width="2.5"/>
<line x1="1083.36" y1="408.6" x2="1083.36" y2="416.93" stroke="#000" stroke-width="2.5"/>
<line x1="1100.77" y1="408.6" x2="1100.77" y2="416.93" stroke="#000" stroke-width="2.5"/>
<line x1="1118.18" y1="408.6" x2="1118.18" y2="416.93" stroke="#000" stroke-width="2.5"/>
<line x1="1135.59" y1="408.6" x2="1135.59" y2="416.93" stroke="#000" stroke-width="2.5"/>
<line x1="1152.99" y1="408.6" x2="1152.99" y2="416.93" stroke="#000" stroke-width="2.5"/>
<line x1="1170.4" y1="408.6" x2="1170.4" y2="416.93" stroke="#000" stroke-width="2.5"/>
<line x1="717.81" y1="408.6" x2="717.81" y2="423.18" stroke="#000" stroke-width="3.33"/>
<line x1="787.44" y1="408.6" x2="787.44" y2="423.18" stroke="#000" stroke-width="3.33"/>
<line x1="857.07" y1="408.6" x2="857.07" y2="423.18" stroke="#000" stroke-width="3.33"/>
<line x1="926.7" y1="408.6" x2="926.7" y2="423.18" stroke="#000" stroke-width="3.33"/>
<line x1="996.33" y1="408.6" x2="996.33" y2="423.18" stroke="#000" stroke-width="3.33"/>
<line x1="1065.96" y1="408.6" x2="1065.96" y2="423.18" stroke="#000" stroke-width="3.33"/>
<line x1="1135.59" y1="408.6" x2="1135.59" y2="423.18" stroke="#000" stroke-width="3.33"/>
<line x1="1219.5" y1="408.6" x2="1219.5" y2="416.93" stroke="#000" stroke-width="2.5"/>
<line x1="1237.49" y1="408.6" x2="1237.49" y2="416.93" stroke="#000" stroke-width="2.5"/>
<line x1="1255.48" y1="408.6" x2="1255.48" y2="416.93" stroke="#000" stroke-width="2.5"/>
<line x1="1273.47" y1="408.6" x2="1273.47" y2="416.93" stroke="#000" stroke-width="2.5"/>
<line x1="1291.46" y1="408.6" x2="1291.46" y2="416.93" stroke="#000" stroke-width="2.5"/>
<line x1="1309.45" y1="408.6" x2="1309.45" y2="416.93" stroke="#000" stroke-width="2.5"/>
<line x1="1327.44" y1="408.6" x2="1327.44" y2="416.93" stroke="#000" stroke-width="2.5"/>
<line x1="1345.42" y1="408.6" x2="1345.42" y2="416.93" stroke="#000" stroke-width="2.5"/>
<line x1="1363.41" y1="408.6" x2="1363.41" y2="416.93" stroke="#000" stroke-width="2.5"/>
<line x1="1381.4" y1="408.6" x2="1381.4" y2="416.93" stroke="#000" stroke-width="2.5"/>
<line x1="1399.39" y1="408.6" x2="1399.39" y2="416.93" stroke="#000" stroke-width="2.5"/>
<line x1="1417.38" y1="408.6" x2="1417.38" y2="416.93" stroke="#000" stroke-width="2.5"/>
<line x1="1435.37" y1="408.6" x2="1435.37" y2="416.93" stroke="#000" stroke-width="2.5"/>
<line x1="1453.36" y1="408.6" x2="1453.36" y2="416.93" stroke="#000" stroke-width="2.5"/>
<line x1="1471.35" y1="408.6" x2="1471.35" y2="416.93" stroke="#000" stroke-width="2.5"/>
<line x1="1489.34" y1="408.6" x2="1489.34" y2="416.93" stroke="#000" stroke-width="2.5"/>
<line x1="1507.33" y1="408.6" x2="1507.33" y2="416.93" stroke="#000" stroke-width="2.5"/>
<line x1="1525.32" y1="408.6" x2="1525.32" y2="416.93" stroke="#000" stroke-width="2.5"/>
<line x1="1543.31" y1="408.6" x2="1543.31" y2="416.93" stroke="#000" stroke-width="2.5"/>
<line x1="1561.3" y1="408.6" x2="1561.3" y2="416.93" stroke="#000" stroke-width="2.5"/>
<line x1="1579.29" y1="408.6" x2="1579.29" y2="416.93" stroke="#000" stroke-width="2.5"/>
<line x1="1597.28" y1="408.6" x2="1597.28" y2="416.93" stroke="#000" stroke-width="2.5"/>
<line x1="1615.26" y1="408.6" x2="1615.26" y2="416.93" stroke="#000" stroke-width="2.5"/>
<line x1="1633.25" y1="408.6" x2="1633.25" y2="416.93" stroke="#000" stroke-width="2.5"/>
<line x1="1651.24" y1="408.6" x2="1651.24" y2="416.93" stroke="#000" stroke-width="2.5"/>
<line x1="1669.23" y1="408.6" x2="1669.23" y2="416.93" stroke="#000" stroke-width="2.5"/>
<line x1="1687.22" y1="408.6" x2="1687.22" y2="416.93" stroke="#000" stroke-width="2.5"/>
<line x1="1705.21" y1="408.6" x2="1705.21" y2="416.93" stroke="#000" stroke-width="2.5"/>
<line x1="1723.2" y1="408.6" x2="1723.2" y2="416.93" stroke="#000" stroke-width="2.5"/>
<line x1="1255.48" y1="408.6" x2="1255.48" y2="423.18" stroke="#000" stroke-width="3.33"/>
<line x1="1327.44" y1="408.6" x2="1327.44" y2="423.18" stroke="#000" stroke-width="3.33"/>
<line x1="1399.39" y1="408.6" x2="1399.39" y2="423.18" stroke="#000" stroke-width="3.33"/>
<line x1="1471.35" y1="408.6" x2="1471.35" y2="423.18" stroke="#000" stroke-width="3.33"/>
<line x1="1543.31" y1="408.6" x2="1543.31" y2="423.18" stroke="#000" stroke-width="3.33"/>
<line x1="1615.26" y1="408.6" x2="1615.26" y2="423.18" stroke="#000" stroke-width="3.33"/>
<line x1="1687.22" y1="408.6" x2="1687.22" y2="423.18" stroke="#000" stroke-width="3.33"/>
<text x="169" y="458.67" font-family="'Liberation Sans', Arial, sans-serif" font-size="29.17" text-anchor="middle">−10</text>
<text x="279.8" y="458.67" font-family="'Liberation Sans', Arial, sans-serif" font-size="29.17" text-anchor="middle">−5</text>
<text x="390.6" y="458.67" font-family="'Liberation Sans', Arial, sans-serif" font-size="29.17" text-anchor="middle">0</text>
<text x="501.4" y="458.67" font-family="'Liberation Sans', Arial, sans-serif" font-size="29.17" text-anchor="middle">5</text>
<text x="612.2" y="458.67" font-family="'Liberation Sans', Arial, sans-serif" font-size="29.17" text-anchor="middle">10</text>
<text x="717.81" y="458.67" font-family="'Liberation Sans', Arial, sans-serif" font-size="29.17" text-anchor="middle">−30</text>
<text x="787.44" y="458.67" font-family="'Liberation Sans', Arial, sans-serif" font-size="29.17" text-anchor="middle">−20</text>
<text x="857.07" y="458.67" font-family="'Liberation Sans', Arial, sans-serif" font-size="29.17" text-anchor="middle">−10</text>
<text x="926.7" y="458.67" font-family="'Liberation Sans', Arial, sans-serif" font-size="29.17" text-anchor="middle">0</text>
<text x="996.33" y="458.67" font-family="'Liberation Sans', Arial, sans-serif" font-size="29.17" text-anchor="middle">10</text>
<text x="1065.96" y="458.67" font-family="'Liberation Sans', Arial, sans-serif" font-size="29.17" text-anchor="middle">20</text>
<text x="1135.59" y="458.67" font-family="'Liberation Sans', Arial, sans-serif" font-size="29.17" text-anchor="middle">30</text>
<text x="1255.48" y="458.67" font-family="'Liberation Sans', Arial, sans-serif" font-size="29.17" text-anchor="middle">−30</text>
<text x="1327.44" y="458.67" font-family="'Liberation Sans', Arial, sans-serif" font-size="29.17" text-anchor="middle">−20</text>
<text x="1399.39" y="458.67" font-family="'Liberation Sans', Arial, sans-serif" font-size="29.17" text-anchor="middle">−10</text>
<text x="1471.35" y="458.67" font-family="'Liberation Sans', Arial, sans-serif" font-size="29.17" text-anchor="middle">0</text>
<text x="1543.31" y="458.67" font-family="'Liberation Sans', Arial, sans-serif" font-size="29.17" text-anchor="middle">10</text>
<text x="1615.26" y="458.67" font-family="'Liberation Sans', Arial, sans-serif" font-size="29.17" text-anchor="middle">20</text>
<text x="1687.22" y="458.67" font-family="'Liberation Sans', Arial, sans-serif" font-size="29.17" text-anchor="middle">30</text>
<text x="117.67" y="406.35" font-family="'Liberation Sans', Arial, sans-serif" font-size="29.17" text-anchor="end">−0.05</text>
<text x="117.67" y="340.7" font-family="'Liberation Sans', Arial, sans-serif" font-size="29.17" text-anchor="end">0.00</text>
<text x="117.67" y="275.05" font-family="'Liberation Sans', Arial, sans-serif" font-size="29.17" text-anchor="end">0.05</text>
<text x="117.67" y="209.4" font-family="'Liberation Sans', Arial, sans-serif" font-size="29.17" text-anchor="end">0.10</text>
<text x="117.67" y="143.75" font-family="'Liberation Sans', Arial, sans-serif" font-size="29.17" text-anchor="end">0.15</text>
<text x="117.67" y="78.1" font-family="'Liberation Sans', Arial, sans-serif" font-size="29.17" text-anchor="end">0.20</text>
<rect x="146.1" y="538.7" width="1577.1" height="398.3" fill="none" stroke="#000" stroke-width="3.33" stroke-linejoin="miter"/>
<line x1="172.38" y1="937" x2="172.38" y2="945.33" stroke="#000" stroke-width="2.5"/>
<line x1="198.67" y1="937" x2="198.67" y2="945.33" stroke="#000" stroke-width="2.5"/>
<line x1="224.96" y1="937" x2="224.96" y2="945.33" stroke="#000" stroke-width="2.5"/>
<line x1="251.24" y1="937" x2="251.24" y2="945.33" stroke="#000" stroke-width="2.5"/>
<line x1="277.52" y1="937" x2="277.52" y2="945.33" stroke="#000" stroke-width="2.5"/>
<line x1="303.81" y1="937" x2="303.81" y2="945.33" stroke="#000" stroke-width="2.5"/>
<line x1="330.1" y1="937" x2="330.1" y2="945.33" stroke="#000" stroke-width="2.5"/>
<line x1="356.38" y1="937" x2="356.38" y2="945.33" stroke="#000" stroke-width="2.5"/>
<line x1="382.66" y1="937" x2="382.66" y2="945.33" stroke="#000" stroke-width="2.5"/>
<line x1="408.95" y1="937" x2="408.95" y2="945.33" stroke="#000" stroke-width="2.5"/>
<line x1="435.24" y1="937" x2="435.24" y2="945.33" stroke="#000" stroke-width="2.5"/>
<line x1="461.52" y1="937" x2="461.52" y2="945.33" stroke="#000" stroke-width="2.5"/>
<line x1="487.81" y1="937" x2="487.81" y2="945.33" stroke="#000" stroke-width="2.5"/>
<line x1="514.09" y1="937" x2="514.09" y2="945.33" stroke="#000" stroke-width="2.5"/>
<line x1="540.38" y1="937" x2="540.38" y2="945.33" stroke="#000" stroke-width="2.5"/>
<line x1="566.66" y1="937" x2="566.66" y2="945.33" stroke="#000" stroke-width="2.5"/>
<line x1="592.95" y1="937" x2="592.95" y2="945.33" stroke="#000" stroke-width="2.5"/>
<line x1="619.23" y1="937" x2="619.23" y2="945.33" stroke="#000" stroke-width="2.5"/>
<line x1="645.51" y1="937" x2="645.51" y2="945.33" stroke="#000" stroke-width="2.5"/>
<line x1="671.8" y1="937" x2="671.8" y2="945.33" stroke="#000" stroke-width="2.5"/>
<line x1="698.09" y1="937" x2="698.09" y2="945.33" stroke="#000" stroke-width="2.5"/>
<line x1="724.37" y1="937" x2="724.37" y2="945.33" stroke="#000" stroke-width="2.5"/>
<line x1="750.66" y1="937" x2="750.66" y2="945.33" stroke="#000" stroke-width="2.5"/>
<line x1="776.94" y1="937" x2="776.94" y2="945.33" stroke="#000" stroke-width="2.5"/>
<line x1="803.23" y1="937" x2="803.23" y2="945.33" stroke="#000" stroke-width="2.5"/>
<line x1="829.51" y1="937" x2="829.51" y2="945.33" stroke="#000" stroke-width="2.5"/>
<line x1="855.8" y1="937" x2="855.8" y2="945.33" stroke="#000" stroke-width="2.5"/>
<line x1="882.08" y1="937" x2="882.08" y2="945.33" stroke="#000" stroke-width="2.5"/>
<line x1="908.37" y1="937" x2="908.37" y2="945.33" stroke="#000" stroke-width="2.5"/>
<line x1="934.65" y1="937" x2="934.65" y2="945.33" stroke="#000" stroke-width="2.5"/>
<line x1="960.94" y1="937" x2="960.94" y2="945.33" stroke="#000" stroke-width="2.5"/>
<line x1="987.22" y1="937" x2="987.22" y2="945.33" stroke="#000" stroke-width="2.5"/>
<line x1="1013.51" y1="937" x2="1013.51" y2="945.33" stroke="#000" stroke-width="2.5"/>
<line x1="1039.79" y1="937" x2="1039.79" y2="945.33" stroke="#000" stroke-width="2.5"/>
<line x1="1066.08" y1="937" x2="1066.08" y2="945.33" stroke="#000" stroke-width="2.5"/>
<line x1="1092.36" y1="937" x2="1092.36" y2="945.33" stroke="#000" stroke-width="2.5"/>
<line x1="1118.65" y1="937" x2="1118.65" y2="945.33" stroke="#000" stroke-width="2.5"/>
<line x1="1144.93" y1="937" x2="1144.93" y2="945.33" stroke="#000" stroke-width="2.5"/>
<line x1="1171.22" y1="937" x2="1171.22" y2="945.33" stroke="#000" stroke-width="2.5"/>
<line x1="1197.5" y1="937" x2="1197.5" y2="945.33" stroke="#000" stroke-width="2.5"/>
<line x1="1223.79" y1="937" x2="1223.79" y2="945.33" stroke="#000" stroke-width="2.5"/>
<line x1="1250.07" y1="937" x2="1250.07" y2="945.33" stroke="#000" stroke-width="2.5"/>
<line x1="1276.36" y1="937" x2="1276.36" y2="945.33" stroke="#000" stroke-width="2.5"/>
<line x1="1302.64" y1="937" x2="1302.64" y2="945.33" stroke="#000" stroke-width="2.5"/>
<line x1="1328.92" y1="937" x2="1328.92" y2="945.33" stroke="#000" stroke-width="2.5"/>
<line x1="1355.21" y1="937" x2="1355.21" y2="945.33" stroke="#000" stroke-width="2.5"/>
<line x1="1381.49" y1="937" x2="1381.49" y2="945.33" stroke="#000" stroke-width="2.5"/>
<line x1="1407.78" y1="937" x2="1407.78" y2="945.33" stroke="#000" stroke-width="2.5"/>
<line x1="1434.07" y1="937" x2="1434.07" y2="945.33" stroke="#000" stroke-width="2.5"/>
<line x1="1460.35" y1="937" x2="1460.35" y2="945.33" stroke="#000" stroke-width="2.5"/>
<line x1="1486.63" y1="937" x2="1486.63" y2="945.33" stroke="#000" stroke-width="2.5"/>
<line x1="1512.92" y1="937" x2="1512.92" y2="945.33" stroke="#000" stroke-width="2.5"/>
<line x1="1539.2" y1="937" x2="1539.2" y2="945.33" stroke="#000" stroke-width="2.5"/>
<line x1="1565.49" y1="937" x2="1565.49" y2="945.33" stroke="#000" stroke-width="2.5"/>
<line x1="1591.77" y1="937" x2="1591.77" y2="945.33" stroke="#000" stroke-width="2.5"/>
<line x1="1618.06" y1="937" x2="1618.06" y2="945.33" stroke="#000" stroke-width="2.5"/>
<line x1="1644.35" y1="937" x2="1644.35" y2="945.33" stroke="#000" stroke-width="2.5"/>
<line x1="1670.63" y1="937" x2="1670.63" y2="945.33" stroke="#000" stroke-width="2.5"/>
<line x1="1696.91" y1="937" x2="1696.91" y2="945.33" stroke="#000" stroke-width="2.5"/>
<line x1="198.67" y1="937" x2="198.67" y2="951.58" stroke="#000" stroke-width="3.33"/>
<line x1="303.81" y1="937" x2="303.81" y2="951.58" stroke="#000" stroke-width="3.33"/>
<line x1="408.95" y1="937" x2="408.95" y2="951.58" stroke="#000" stroke-width="3.33"/>
<line x1="514.09" y1="937" x2="514.09" y2="951.58" stroke="#000" stroke-width="3.33"/>
<line x1="619.23" y1="937" x2="619.23" y2="951.58" stroke="#000" stroke-width="3.33"/>
<line x1="724.37" y1="937" x2="724.37" y2="951.58" stroke="#000" stroke-width="3.33"/>
<line x1="829.51" y1="937" x2="829.51" y2="951.58" stroke="#000" stroke-width="3.33"/>
<line x1="934.65" y1="937" x2="934.65" y2="951.58" stroke="#000" stroke-width="3.33"/>
<line x1="1039.79" y1="937" x2="1039.79" y2="951.58" stroke="#000" stroke-width="3.33"/>
<line x1="1144.93" y1="937" x2="1144.93" y2="951.58" stroke="#000" stroke-width="3.33"/>
<line x1="1250.07" y1="937" x2="1250.07" y2="951.58" stroke="#000" stroke-width="3.33"/>
<line x1="1355.21" y1="937" x2="1355.21" y2="951.58" stroke="#000" stroke-width="3.33"/>
<line x1="1460.35" y1="937" x2="1460.35" y2="951.58" stroke="#000" stroke-width="3.33"/>
<line x1="1565.49" y1="937" x2="1565.49" y2="951.58" stroke="#000" stroke-width="3.33"/>
<line x1="1670.63" y1="937" x2="1670.63" y2="951.58" stroke="#000" stroke-width="3.33"/>
<line x1="146.1" y1="917.8" x2="137.77" y2="917.8" stroke="#000" stroke-width="2.5"/>
<line x1="146.1" y1="869.18" x2="137.77" y2="869.18" stroke="#000" stroke-width="2.5"/>
<line x1="146.1" y1="820.57" x2="137.77" y2="820.57" stroke="#000" stroke-width="2.5"/>
<line x1="146.1" y1="771.95" x2="137.77" y2="771.95" stroke="#000" stroke-width="2.5"/>
<line x1="146.1" y1="723.34" x2="137.77" y2="723.34" stroke="#000" stroke-width="2.5"/>
<line x1="146.1" y1="674.72" x2="137.77" y2="674.72" stroke="#000" stroke-width="2.5"/>
<line x1="146.1" y1="626.11" x2="137.77" y2="626.11" stroke="#000" stroke-width="2.5"/>
<line x1="146.1" y1="577.49" x2="137.77" y2="577.49" stroke="#000" stroke-width="2.5"/>
<line x1="146.1" y1="917.8" x2="131.52" y2="917.8" stroke="#000" stroke-width="3.33"/>
<line x1="146.1" y1="820.57" x2="131.52" y2="820.57" stroke="#000" stroke-width="3.33"/>
<line x1="146.1" y1="723.34" x2="131.52" y2="723.34" stroke="#000" stroke-width="3.33"/>
<line x1="146.1" y1="626.11" x2="131.52" y2="626.11" stroke="#000" stroke-width="3.33"/>
<text x="198.67" y="987.07" font-family="'Liberation Sans', Arial, sans-serif" font-size="29.17" text-anchor="middle">−1400</text>
<text x="303.81" y="987.07" font-family="'Liberation Sans', Arial, sans-serif" font-size="29.17" text-anchor="middle">−1200</text>
<text x="408.95" y="987.07" font-family="'Liberation Sans', Arial, sans-serif" font-size="29.17" text-anchor="middle">−1000</text>
<text x="514.09" y="987.07" font-family="'Liberation Sans', Arial, sans-serif" font-size="29.17" text-anchor="middle">−800</text>
<text x="619.23" y="987.07" font-family="'Liberation Sans', Arial, sans-serif" font-size="29.17" text-anchor="middle">−600</text>
<text x="724.37" y="987.07" font-family="'Liberation Sans', Arial, sans-serif" font-size="29.17" text-anchor="middle">−400</text>
<text x="829.51" y="987.07" font-family="'Liberation Sans', Arial, sans-serif" font-size="29.17" text-anchor="middle">−200</text>
<text x="934.65" y="987.07" font-family="'Liberation Sans', Arial, sans-serif" font-size="29.17" text-anchor="middle">0</text>
<text x="1039.79" y="987.07" font-family="'Liberation Sans', Arial, sans-serif" font-size="29.17" text-anchor="middle">200</text>
<text x="1144.93" y="987.07" font-family="'Liberation Sans', Arial, sans-serif" font-size="29.17" text-anchor="middle">400</text>
<text x="1250.07" y="987.07" font-family="'Liberation Sans', Arial, sans-serif" font-size="29.17" text-anchor="middle">600</text>
<text x="1355.21" y="987.07" font-family="'Liberation Sans', Arial, sans-serif" font-size="29.17" text-anchor="middle">800</text>
<text x="1460.35" y="987.07" font-family="'Liberation Sans', Arial, sans-serif" font-size="29.17" text-anchor="middle">1000</text>
<text x="1565.49" y="987.07" font-family="'Liberation Sans', Arial, sans-serif" font-size="29.17" text-anchor="middle">1200</text>
<text x="1670.63" y="987.07" font-family="'Liberation Sans', Arial, sans-serif" font-size="29.17" text-anchor="middle">1400</text>
<text x="116.93" y="928.4" font-family="'Liberation Sans', Arial, sans-serif" font-size="29.17" text-anchor="end">0.00</text>
<text x="116.93" y="831.17" font-family="'Liberation Sans', Arial, sans-serif" font-size="29.17" text-anchor="end">0.01</text>
<text x="116.93" y="733.94" font-family="'Liberation Sans', Arial, sans-serif" font-size="29.17" text-anchor="end">0.02</text>
<text x="116.93" y="636.71" font-family="'Liberation Sans', Arial, sans-serif" font-size="29.17" text-anchor="end">0.03</text>
<text x="389.2" y="501.8" font-family="'DejaVu Sans', sans-serif" font-size="29.7" text-anchor="middle">Re(α)</text>
<text x="925.3" y="501.8" font-family="'DejaVu Sans', sans-serif" font-size="29.7" text-anchor="middle">Re(α)</text>
<text x="1469.95" y="501.8" font-family="'DejaVu Sans', sans-serif" font-size="29.7" text-anchor="middle">Re(α)</text>
<text x="933.55" y="1030.6" font-family="'DejaVu Sans', sans-serif" font-size="29.7" text-anchor="middle">Re(α)</text>
<text transform="translate(20.8,218.3) rotate(-90)" font-family="'Liberation Sans', Arial, sans-serif" font-size="29.17" text-anchor="middle">W</text>
<text transform="translate(38.3,737.85) rotate(-90)" font-family="'Liberation Sans', Arial, sans-serif" font-size="29.17" text-anchor="middle">W</text>
<text x="102.6" y="24.5" font-family="'Liberation Sans', Arial, sans-serif" font-size="34" text-anchor="start" font-weight="bold">(a)</text>
<text x="639.3" y="24.4" font-family="'Liberation Sans', Arial, sans-serif" font-size="34" text-anchor="start" font-weight="bold">(b)</text>
<text x="1174.6" y="24.4" font-family="'Liberation Sans', Arial, sans-serif" font-size="34" text-anchor="start" font-weight="bold">(c)</text>
<text x="99.2" y="533.7" font-family="'Liberation Sans', Arial, sans-serif" font-size="34" text-anchor="start" font-weight="bold">(d)</text>
<rect x="757.2" y="559.7" width="406.2" height="271.3" fill="#fff"/>
<polyline fill="none" stroke="#669f0c" stroke-width="4.17" stroke-linejoin="round" stroke-linecap="square" clip-path="url(#ci)" points="720.17,1004.03 722.11,990.08 724.04,985.96 725.98,982.31 727.91,976.79 729.84,971.63 731.78,959.36 733.71,964.79 735.65,955.1 737.58,950.47 739.51,937.95 741.45,946.04 743.38,931.82 745.32,931.64 747.25,919.15 749.18,911.5 751.12,907.86 753.05,902.65 754.99,897.29 756.92,889.81 758.85,882.65 760.79,880.16 762.72,870.56 764.66,871.34 766.59,861.19 768.52,857.92 770.46,847.96 772.39,849.18 774.33,839.42 776.26,831.44 778.19,833.66 780.13,828.25 782.06,815.54 784,809.26 785.93,806.93 787.86,801.81 789.8,797.43 791.73,796.31 793.67,787.33 795.6,792.68 797.53,777.61 799.47,778.55 801.4,773.61 803.34,772.36 805.27,764.96 807.2,768.03 809.14,759.45 811.07,758.03 813.01,760.1 814.94,753.63 816.87,751.96 818.81,755.01 820.74,742.45 822.68,741.47 824.61,746.09 826.54,743.26 828.48,735.87 830.41,730.89 832.35,724.5 834.28,727.32 836.21,719.53 838.15,717.9 840.08,715.35 842.02,715.02 843.95,717.2 845.88,709.92 847.82,705.59 849.75,703.86 851.69,700.82 853.62,703.32 855.55,701.86 857.49,689.48 859.42,694.24 861.36,690.02 863.29,697.45 865.22,694.86 867.16,695.32 869.09,689.12 871.03,678.4 872.96,685.53 874.89,682.11 876.83,621.7 878.76,724.3 880.7,640.6 882.63,673 884.56,671.57 886.5,657.89 888.43,669.42 890.37,661.44 892.3,666.09 894.23,659.62 896.17,653.45 898.1,663.9 900.04,658.66 901.97,697.3 903.9,653.24 905.84,657.72 907.77,652.63 909.71,645.67 911.64,652.73 913.57,654.98 915.51,646.73 917.44,657.19 919.38,629.8 921.31,634.6 923.24,637.61 925.18,649.38 927.11,642.5 929.05,643.91 930.98,645.85 932.91,640.8 934.85,647.16 936.78,643.22 938.72,650.47 940.65,648.54 942.58,628.49 944.52,648.66 946.45,643.84 948.39,641.04 950.32,651.74 952.25,637.87 954.19,648.76 956.12,631.68 958.06,650.92 959.99,646.16 961.92,641.88 963.86,645.29 965.79,643.35 967.73,636.39 969.66,636.94 971.59,630.82 973.53,651.71 975.46,634.08 977.4,636.93 979.33,642.72 981.26,649.82 983.2,625.42 985.13,637.54 987.07,651.34 989,631.22 990.93,630.21 992.87,635.27 994.8,640.25 996.74,650.39 998.67,650.01 1000.6,636.5 1002.54,659.57 1004.47,665.82 1006.41,662.31 1008.34,648.71 1010.27,662.81 1012.21,656.57 1014.14,661.16 1016.08,650.85 1018.01,646 1019.94,673 1021.88,624.4 1023.81,721.6 1025.75,608.2 1027.68,748.6 1029.61,594.7 1031.55,762.1 1033.48,616.3 1035.42,727 1037.35,632.5 1039.28,694.6 1041.22,662.2 1043.15,672.79 1045.09,667.65 1047.02,672.55 1048.95,680.62 1050.89,682.44 1052.82,687.78 1054.76,675.7 1056.69,698.62 1058.62,700.23 1060.56,699.68 1062.49,693.29 1064.43,707.85 1066.36,702.35 1068.29,706.61 1070.23,713.36 1072.16,715.63 1074.1,724.49 1076.03,725.34 1077.96,721.36 1079.9,727.09 1081.83,731.43 1083.77,724.35 1085.7,729.89 1087.63,734.18 1089.57,736.16 1091.5,737.28 1093.44,742.22 1095.37,738.07 1097.3,742.33 1099.24,749.19 1101.17,752.34 1103.11,762.95 1105.04,756.77 1106.97,766.75 1108.91,769.5 1110.84,771.68 1112.78,776.01 1114.71,782.05 1116.64,787.54 1118.58,791.31 1120.51,794.16 1122.45,788.4 1124.38,791.23 1126.31,801.6 1128.25,797.67 1130.18,803.87 1132.12,803.39 1134.05,808.44 1135.98,811.87 1137.92,815.4 1139.85,821.98 1141.79,825.96 1143.72,828.44 1145.65,818.8 1147.59,840.43 1149.52,840.15 1151.46,846.02 1153.39,849.1 1155.32,848.57 1157.26,857.32 1159.19,859.81 1161.13,861.67 1163.06,860.62 1164.99,866.45 1166.93,873.07 1168.86,871.42 1170.8,874.53 1172.73,881.29 1174.66,886.84 1176.6,893.74 1178.53,889.89 1180.47,895.87"/>
<polyline fill="none" stroke="#000" stroke-width="4.17" stroke-linejoin="round" stroke-dasharray="15.42 6.67" stroke-linecap="butt" clip-path="url(#ci)" points="718.24,999.27 720.17,993.87 722.11,988.56 724.04,983.36 725.98,978.27 727.91,973.28 729.84,968.38 731.78,963.56 733.71,958.81 735.65,954.12 737.58,949.48 739.51,944.87 741.45,940.3 743.38,935.75 745.32,931.2 747.25,926.65 749.18,922.09 751.12,917.51 753.05,912.9 754.99,908.25 756.92,903.54 758.85,898.77 760.79,893.93 762.72,889 764.66,883.97 766.59,878.83 768.52,873.6 770.46,868.31 772.39,862.98 774.33,857.63 776.26,852.29 778.19,846.98 780.13,841.71 782.06,836.52 784,831.43 785.93,826.45 787.86,821.5 789.8,816.56 791.73,811.64 793.67,806.79 795.6,802.02 797.53,797.36 799.47,792.85 801.4,788.51 803.34,784.37 805.27,780.4 807.2,776.58 809.14,772.88 811.07,769.28 813.01,765.75 814.94,762.26 816.87,758.81 818.81,755.35 820.74,751.87 822.68,748.36 824.61,744.84 826.54,741.36 828.48,737.98 830.41,734.72 832.35,731.64 834.28,728.75 836.21,726.01 838.15,723.38 840.08,720.83 842.02,718.35 843.95,715.89 845.88,713.43 847.82,710.95 849.75,708.41 851.69,705.82 853.62,703.2 855.55,700.57 857.49,697.94 859.42,695.35 861.36,692.8 863.29,690.32 865.22,687.93 867.16,685.64 869.09,683.41 871.03,681.15 872.96,678.87 874.89,676.6 876.83,674.36 878.76,672.15 880.7,670.01 882.63,667.95 884.56,665.99 886.5,664.15 888.43,662.44 890.37,660.9 892.3,659.53 894.23,658.36 896.17,657.33 898.1,656.32 900.04,655.32 901.97,654.33 903.9,653.36 905.84,652.41 907.77,651.49 909.71,650.59 911.64,649.73 913.57,648.9 915.51,648.1 917.44,647.34 919.38,646.63 921.31,645.96 923.24,645.35 925.18,644.78 927.11,644.27 929.05,643.81 930.98,643.42 932.91,643.1 934.85,642.83 936.78,642.65 938.72,642.53 940.65,642.49 942.58,642.53 944.52,642.63 946.45,642.79 948.39,643.01 950.32,643.29 952.25,643.61 954.19,643.98 956.12,644.38 958.06,644.82 959.99,645.29 961.92,645.78 963.86,646.29 965.79,646.82 967.73,647.35 969.66,647.96 971.59,648.7 973.53,649.57 975.46,650.55 977.4,651.64 979.33,652.82 981.26,654.09 983.2,655.43 985.13,656.84 987.07,658.29 989,659.79 990.93,661.33 992.87,662.89 994.8,664.46 996.74,666.03 998.67,667.6 1000.6,669.21 1002.54,670.91 1004.47,672.71 1006.41,674.58 1008.34,676.52 1010.27,678.52 1012.21,680.58 1014.14,682.68 1016.08,684.83 1018.01,687 1019.94,689.2 1021.88,691.45 1023.81,693.77 1025.75,696.16 1027.68,698.62 1029.61,701.13 1031.55,703.69 1033.48,706.29 1035.42,708.94 1037.35,711.61 1039.28,714.33 1041.22,717.13 1043.15,720.01 1045.09,722.94 1047.02,725.92 1048.95,728.92 1050.89,731.93 1052.82,734.93 1054.76,737.89 1056.69,740.81 1058.62,743.68 1060.56,746.51 1062.49,749.32 1064.43,752.13 1066.36,754.94 1068.29,757.78 1070.23,760.66 1072.16,763.59 1074.1,766.59 1076.03,769.66 1077.96,772.79 1079.9,775.97 1081.83,779.2 1083.77,782.48 1085.7,785.79 1087.63,789.13 1089.57,792.5 1091.5,795.89 1093.44,799.31 1095.37,802.81 1097.3,806.39 1099.24,810.02 1101.17,813.67 1103.11,817.31 1105.04,820.9 1106.97,824.43 1108.91,827.85 1110.84,831.16 1112.78,834.37 1114.71,837.51 1116.64,840.58 1118.58,843.6 1120.51,846.58 1122.45,849.52 1124.38,852.45 1126.31,855.37 1128.25,858.29 1130.18,861.24 1132.12,864.21 1134.05,867.22 1135.98,870.28 1137.92,873.41 1139.85,876.61 1141.79,879.9 1143.72,883.29 1145.65,886.79 1147.59,890.38 1149.52,894.06 1151.46,897.83 1153.39,901.67 1155.32,905.57 1157.26,909.54 1159.19,913.57 1161.13,917.65 1163.06,921.77 1164.99,925.93 1166.93,930.13 1168.86,934.35 1170.8,938.59 1172.73,942.85 1174.66,947.11 1176.6,951.38 1178.53,955.64 1180.47,959.9 1182.4,964.13"/>
<rect x="757.2" y="559.7" width="406.2" height="271.3" fill="none" stroke="#000" stroke-width="3.33" stroke-linejoin="miter"/>
<line x1="756.92" y1="831" x2="756.92" y2="839.33" stroke="#000" stroke-width="2.5"/>
<line x1="776.26" y1="831" x2="776.26" y2="839.33" stroke="#000" stroke-width="2.5"/>
<line x1="795.6" y1="831" x2="795.6" y2="839.33" stroke="#000" stroke-width="2.5"/>
<line x1="814.94" y1="831" x2="814.94" y2="839.33" stroke="#000" stroke-width="2.5"/>
<line x1="834.28" y1="831" x2="834.28" y2="839.33" stroke="#000" stroke-width="2.5"/>
<line x1="853.62" y1="831" x2="853.62" y2="839.33" stroke="#000" stroke-width="2.5"/>
<line x1="872.96" y1="831" x2="872.96" y2="839.33" stroke="#000" stroke-width="2.5"/>
<line x1="892.3" y1="831" x2="892.3" y2="839.33" stroke="#000" stroke-width="2.5"/>
<line x1="911.64" y1="831" x2="911.64" y2="839.33" stroke="#000" stroke-width="2.5"/>
<line x1="930.98" y1="831" x2="930.98" y2="839.33" stroke="#000" stroke-width="2.5"/>
<line x1="950.32" y1="831" x2="950.32" y2="839.33" stroke="#000" stroke-width="2.5"/>
<line x1="969.66" y1="831" x2="969.66" y2="839.33" stroke="#000" stroke-width="2.5"/>
<line x1="989" y1="831" x2="989" y2="839.33" stroke="#000" stroke-width="2.5"/>
<line x1="1008.34" y1="831" x2="1008.34" y2="839.33" stroke="#000" stroke-width="2.5"/>
<line x1="1027.68" y1="831" x2="1027.68" y2="839.33" stroke="#000" stroke-width="2.5"/>
<line x1="1047.02" y1="831" x2="1047.02" y2="839.33" stroke="#000" stroke-width="2.5"/>
<line x1="1066.36" y1="831" x2="1066.36" y2="839.33" stroke="#000" stroke-width="2.5"/>
<line x1="1085.7" y1="831" x2="1085.7" y2="839.33" stroke="#000" stroke-width="2.5"/>
<line x1="1105.04" y1="831" x2="1105.04" y2="839.33" stroke="#000" stroke-width="2.5"/>
<line x1="1124.38" y1="831" x2="1124.38" y2="839.33" stroke="#000" stroke-width="2.5"/>
<line x1="1143.72" y1="831" x2="1143.72" y2="839.33" stroke="#000" stroke-width="2.5"/>
<line x1="1163.06" y1="831" x2="1163.06" y2="839.33" stroke="#000" stroke-width="2.5"/>
<line x1="795.6" y1="831" x2="795.6" y2="845.58" stroke="#000" stroke-width="3.33"/>
<line x1="892.3" y1="831" x2="892.3" y2="845.58" stroke="#000" stroke-width="3.33"/>
<line x1="989" y1="831" x2="989" y2="845.58" stroke="#000" stroke-width="3.33"/>
<line x1="1085.7" y1="831" x2="1085.7" y2="845.58" stroke="#000" stroke-width="3.33"/>
<line x1="757.2" y1="829.6" x2="748.87" y2="829.6" stroke="#000" stroke-width="2.5"/>
<line x1="757.2" y1="802.6" x2="748.87" y2="802.6" stroke="#000" stroke-width="2.5"/>
<line x1="757.2" y1="775.6" x2="748.87" y2="775.6" stroke="#000" stroke-width="2.5"/>
<line x1="757.2" y1="748.6" x2="748.87" y2="748.6" stroke="#000" stroke-width="2.5"/>
<line x1="757.2" y1="721.6" x2="748.87" y2="721.6" stroke="#000" stroke-width="2.5"/>
<line x1="757.2" y1="694.6" x2="748.87" y2="694.6" stroke="#000" stroke-width="2.5"/>
<line x1="757.2" y1="667.6" x2="748.87" y2="667.6" stroke="#000" stroke-width="2.5"/>
<line x1="757.2" y1="640.6" x2="748.87" y2="640.6" stroke="#000" stroke-width="2.5"/>
<line x1="757.2" y1="613.6" x2="748.87" y2="613.6" stroke="#000" stroke-width="2.5"/>
<line x1="757.2" y1="586.6" x2="748.87" y2="586.6" stroke="#000" stroke-width="2.5"/>
<line x1="757.2" y1="559.6" x2="748.87" y2="559.6" stroke="#000" stroke-width="2.5"/>
<line x1="757.2" y1="721.6" x2="742.62" y2="721.6" stroke="#000" stroke-width="3.33"/>
<line x1="757.2" y1="586.6" x2="742.62" y2="586.6" stroke="#000" stroke-width="3.33"/>
<text x="795.6" y="881.07" font-family="'Liberation Sans', Arial, sans-serif" font-size="29.17" text-anchor="middle">600</text>
<text x="892.3" y="881.07" font-family="'Liberation Sans', Arial, sans-serif" font-size="29.17" text-anchor="middle">650</text>
<text x="989" y="881.07" font-family="'Liberation Sans', Arial, sans-serif" font-size="29.17" text-anchor="middle">700</text>
<text x="1085.7" y="881.07" font-family="'Liberation Sans', Arial, sans-serif" font-size="29.17" text-anchor="middle">750</text>
<text x="728.03" y="732.2" font-family="'Liberation Sans', Arial, sans-serif" font-size="29.17" text-anchor="end">0.030</text>
<text x="728.03" y="597.2" font-family="'Liberation Sans', Arial, sans-serif" font-size="29.17" text-anchor="end">0.035</text>
<rect x="1237.4" y="567.5" width="115.6" height="97.2" fill="none" stroke="#000" stroke-width="4.17" stroke-dasharray="15.42 6.67"/>
<line x1="1163.4" y1="559.7" x2="1237.4" y2="567.5" stroke="#000" stroke-width="4.17" stroke-dasharray="15.42 6.67"/>
<line x1="1163.4" y1="831" x2="1237.4" y2="664.7" stroke="#000" stroke-width="4.17" stroke-dasharray="15.42 6.67"/>
</svg>
</body></html>
